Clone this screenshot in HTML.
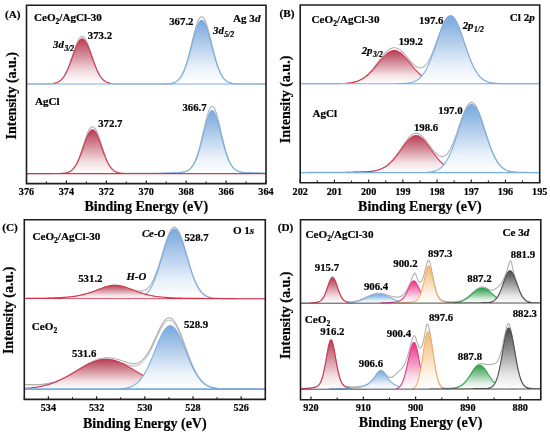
<!DOCTYPE html>
<html><head><meta charset="utf-8"><style>
html,body{margin:0;padding:0;background:#fff;width:550px;height:436px;overflow:hidden}
svg{display:block;filter:blur(0.35px)}
text{font-family:"Liberation Serif",serif;font-weight:bold;fill:#000;stroke:#000;stroke-width:0.2px}
</style></head><body>
<svg width="550" height="436" viewBox="0 0 550 436">
<defs><linearGradient id="g1" x1="0" y1="0" x2="0" y2="1"><stop offset="0.00" stop-color="#b63f54"/><stop offset="0.40" stop-color="#d795a1"/><stop offset="0.75" stop-color="#f4e2e5"/><stop offset="1.00" stop-color="#ffffff"/></linearGradient>
<linearGradient id="g2" x1="0" y1="0" x2="0" y2="1"><stop offset="0.00" stop-color="#78a8dd"/><stop offset="0.40" stop-color="#b5cfec"/><stop offset="0.75" stop-color="#ebf2fa"/><stop offset="1.00" stop-color="#ffffff"/></linearGradient>
<linearGradient id="g3" x1="0" y1="0" x2="0" y2="1"><stop offset="0.00" stop-color="#78a8dd"/><stop offset="0.40" stop-color="#b5cfec"/><stop offset="0.75" stop-color="#ebf2fa"/><stop offset="1.00" stop-color="#ffffff"/></linearGradient>
<linearGradient id="g4" x1="0" y1="0" x2="0" y2="1"><stop offset="0.00" stop-color="#b63f54"/><stop offset="0.40" stop-color="#d795a1"/><stop offset="0.75" stop-color="#f4e2e5"/><stop offset="1.00" stop-color="#ffffff"/></linearGradient>
<linearGradient id="g5" x1="0" y1="0" x2="0" y2="1"><stop offset="0.00" stop-color="#b63f54"/><stop offset="0.40" stop-color="#d795a1"/><stop offset="0.75" stop-color="#f4e2e5"/><stop offset="1.00" stop-color="#ffffff"/></linearGradient>
<linearGradient id="g6" x1="0" y1="0" x2="0" y2="1"><stop offset="0.00" stop-color="#78a8dd"/><stop offset="0.40" stop-color="#b5cfec"/><stop offset="0.75" stop-color="#ebf2fa"/><stop offset="1.00" stop-color="#ffffff"/></linearGradient>
<linearGradient id="g7" x1="0" y1="0" x2="0" y2="1"><stop offset="0.00" stop-color="#b63f54"/><stop offset="0.40" stop-color="#d795a1"/><stop offset="0.75" stop-color="#f4e2e5"/><stop offset="1.00" stop-color="#ffffff"/></linearGradient>
<linearGradient id="g8" x1="0" y1="0" x2="0" y2="1"><stop offset="0.00" stop-color="#78a8dd"/><stop offset="0.40" stop-color="#b5cfec"/><stop offset="0.75" stop-color="#ebf2fa"/><stop offset="1.00" stop-color="#ffffff"/></linearGradient>
<linearGradient id="g9" x1="0" y1="0" x2="0" y2="1"><stop offset="0.00" stop-color="#78a8dd"/><stop offset="0.40" stop-color="#b5cfec"/><stop offset="0.75" stop-color="#ebf2fa"/><stop offset="1.00" stop-color="#ffffff"/></linearGradient>
<linearGradient id="g10" x1="0" y1="0" x2="0" y2="1"><stop offset="0.00" stop-color="#b63f54"/><stop offset="0.40" stop-color="#d795a1"/><stop offset="0.75" stop-color="#f4e2e5"/><stop offset="1.00" stop-color="#ffffff"/></linearGradient>
<linearGradient id="g11" x1="0" y1="0" x2="0" y2="1"><stop offset="0.00" stop-color="#b63f54"/><stop offset="0.40" stop-color="#d795a1"/><stop offset="0.75" stop-color="#f4e2e5"/><stop offset="1.00" stop-color="#ffffff"/></linearGradient>
<linearGradient id="g12" x1="0" y1="0" x2="0" y2="1"><stop offset="0.00" stop-color="#78a8dd"/><stop offset="0.40" stop-color="#b5cfec"/><stop offset="0.75" stop-color="#ebf2fa"/><stop offset="1.00" stop-color="#ffffff"/></linearGradient>
<linearGradient id="g13" x1="0" y1="0" x2="0" y2="1"><stop offset="0.00" stop-color="#b63f54"/><stop offset="0.40" stop-color="#d795a1"/><stop offset="0.75" stop-color="#f4e2e5"/><stop offset="1.00" stop-color="#ffffff"/></linearGradient>
<linearGradient id="g14" x1="0" y1="0" x2="0" y2="1"><stop offset="0.00" stop-color="#78a8dd"/><stop offset="0.40" stop-color="#b5cfec"/><stop offset="0.75" stop-color="#ebf2fa"/><stop offset="1.00" stop-color="#ffffff"/></linearGradient>
<linearGradient id="g15" x1="0" y1="0" x2="0" y2="1"><stop offset="0.00" stop-color="#e8307f"/><stop offset="0.40" stop-color="#f28db9"/><stop offset="0.75" stop-color="#fce0ec"/><stop offset="1.00" stop-color="#ffffff"/></linearGradient>
<linearGradient id="g16" x1="0" y1="0" x2="0" y2="1"><stop offset="0.00" stop-color="#f0b96e"/><stop offset="0.40" stop-color="#f7d8af"/><stop offset="0.75" stop-color="#fdf4e9"/><stop offset="1.00" stop-color="#ffffff"/></linearGradient>
<linearGradient id="g17" x1="0" y1="0" x2="0" y2="1"><stop offset="0.00" stop-color="#2f9a4b"/><stop offset="0.40" stop-color="#8dc79c"/><stop offset="0.75" stop-color="#e0f0e4"/><stop offset="1.00" stop-color="#ffffff"/></linearGradient>
<linearGradient id="g18" x1="0" y1="0" x2="0" y2="1"><stop offset="0.00" stop-color="#4a4a4a"/><stop offset="0.40" stop-color="#9b9b9b"/><stop offset="0.75" stop-color="#e4e4e4"/><stop offset="1.00" stop-color="#ffffff"/></linearGradient>
<linearGradient id="g19" x1="0" y1="0" x2="0" y2="1"><stop offset="0.00" stop-color="#b63f54"/><stop offset="0.40" stop-color="#d795a1"/><stop offset="0.75" stop-color="#f4e2e5"/><stop offset="1.00" stop-color="#ffffff"/></linearGradient>
<linearGradient id="g20" x1="0" y1="0" x2="0" y2="1"><stop offset="0.00" stop-color="#78a8dd"/><stop offset="0.40" stop-color="#b5cfec"/><stop offset="0.75" stop-color="#ebf2fa"/><stop offset="1.00" stop-color="#ffffff"/></linearGradient>
<linearGradient id="g21" x1="0" y1="0" x2="0" y2="1"><stop offset="0.00" stop-color="#e8307f"/><stop offset="0.40" stop-color="#f28db9"/><stop offset="0.75" stop-color="#fce0ec"/><stop offset="1.00" stop-color="#ffffff"/></linearGradient>
<linearGradient id="g22" x1="0" y1="0" x2="0" y2="1"><stop offset="0.00" stop-color="#f0b96e"/><stop offset="0.40" stop-color="#f7d8af"/><stop offset="0.75" stop-color="#fdf4e9"/><stop offset="1.00" stop-color="#ffffff"/></linearGradient>
<linearGradient id="g23" x1="0" y1="0" x2="0" y2="1"><stop offset="0.00" stop-color="#2f9a4b"/><stop offset="0.40" stop-color="#8dc79c"/><stop offset="0.75" stop-color="#e0f0e4"/><stop offset="1.00" stop-color="#ffffff"/></linearGradient>
<linearGradient id="g24" x1="0" y1="0" x2="0" y2="1"><stop offset="0.00" stop-color="#4a4a4a"/><stop offset="0.40" stop-color="#9b9b9b"/><stop offset="0.75" stop-color="#e4e4e4"/><stop offset="1.00" stop-color="#ffffff"/></linearGradient></defs>
<rect width="550" height="436" fill="#fff"/>
<path d="M26.5,84.0 27.2,84.0 28.2,84.0 29.2,84.0 30.2,84.0 31.2,84.0 32.2,84.0 33.2,84.0 34.2,84.0 35.2,84.0 36.2,84.0 37.2,84.0 38.2,84.0 39.2,84.0 40.2,84.0 41.2,84.0 42.2,84.0 43.2,84.0 44.2,84.0 45.2,84.0 46.2,84.0 47.2,83.9 48.2,83.9 49.2,83.9 50.2,83.8 51.2,83.7 52.2,83.6 53.2,83.5 54.2,83.3 55.2,83.1 56.2,82.8 57.2,82.4 58.2,81.9 59.2,81.3 60.2,80.6 61.2,79.7 62.2,78.6 63.2,77.3 63.7,76.6 64.2,75.8 65.2,74.1 65.7,73.1 66.2,72.1 67.2,70.0 67.7,68.8 68.2,67.6 69.2,65.0 69.7,63.6 70.2,62.2 71.2,59.3 71.7,57.8 72.2,56.4 73.2,53.3 73.7,51.9 74.2,50.4 75.2,47.5 75.7,46.2 76.2,44.9 77.2,42.5 77.7,41.4 78.2,40.4 79.2,38.7 79.7,38.0 80.2,37.4 81.2,36.7 81.7,36.5 82.2,36.4 83.2,36.7 83.7,37.0 84.2,37.4 85.2,38.7 85.7,39.5 86.2,40.4 87.2,42.5 87.7,43.6 88.2,44.9 89.2,47.5 89.7,48.9 90.2,50.4 91.2,53.3 91.7,54.8 92.2,56.4 93.2,59.3 93.7,60.8 94.2,62.2 95.2,65.0 95.7,66.3 96.2,67.6 97.2,70.0 97.7,71.1 98.2,72.1 99.2,74.1 99.7,75.0 100.2,75.8 101.2,77.3 101.7,78.0 102.2,78.6 103.2,79.7 103.7,80.1 104.2,80.6 105.2,81.3 105.7,81.6 106.2,81.9 107.2,82.4 107.7,82.6 108.2,82.8 109.2,83.1 109.7,83.2 110.2,83.3 111.2,83.5 111.7,83.6 112.2,83.6 113.2,83.7 113.7,83.8 114.2,83.8 115.2,83.9 115.7,83.9 116.2,83.9 117.2,83.9 117.7,83.9 118.2,84.0 119.2,84.0 119.7,84.0 120.2,84.0 121.2,84.0 121.7,84.0 122.2,84.0 123.2,84.0 123.7,84.0 124.2,84.0 125.2,84.0 125.7,84.0 126.2,84.0 127.2,84.0 127.7,84.0 128.2,84.0 129.2,84.0 129.7,84.0 130.2,84.0 131.2,84.0 131.7,84.0 132.2,84.0 133.2,84.0 133.7,84.0 134.2,84.0 135.2,84.0 135.7,84.0 136.2,84.0 137.2,84.0 137.7,84.0 138.2,84.0 139.7,84.0 140.2,84.0 141.7,84.0 142.2,84.0 143.7,84.0 144.2,84.0 144.7,84.0 145.7,84.0 146.2,84.0 146.7,84.0 147.7,84.0 148.2,84.0 148.7,84.0 149.7,84.0 150.2,84.0 150.7,84.0 151.7,84.0 152.2,84.0 152.7,84.0 153.7,84.0 154.2,84.0 154.7,84.0 155.7,84.0 156.2,84.0 156.7,84.0 157.7,84.0 158.2,84.0 158.7,84.0 159.7,84.0 160.2,84.0 160.7,84.0 161.7,84.0 162.2,84.0 162.7,84.0 163.7,84.0 164.2,83.9 164.7,83.9 165.7,83.9 166.2,83.9 166.7,83.9 167.7,83.8 168.2,83.8 168.7,83.7 169.7,83.6 170.2,83.6 170.7,83.5 171.7,83.3 172.2,83.2 172.7,83.1 173.7,82.8 174.2,82.6 174.7,82.4 175.7,81.9 176.2,81.6 176.7,81.2 177.7,80.4 178.2,80.0 178.7,79.5 179.7,78.3 180.2,77.6 180.7,76.9 181.7,75.3 182.2,74.3 182.7,73.3 183.7,71.1 184.2,69.9 184.7,68.6 185.7,65.8 186.2,64.3 186.7,62.7 187.7,59.3 188.2,57.5 188.7,55.6 189.7,51.7 190.2,49.7 190.7,47.7 191.7,43.6 192.2,41.5 192.7,39.5 193.7,35.5 194.2,33.5 194.7,31.6 195.7,28.0 196.2,26.3 196.7,24.8 197.7,22.0 198.2,20.8 198.7,19.7 199.7,18.1 200.2,17.5 200.7,17.0 201.7,16.7 202.2,16.8 202.7,17.0 203.7,18.1 204.2,18.8 204.7,19.7 205.7,22.0 206.2,23.3 206.7,24.8 207.7,28.0 208.2,29.8 208.7,31.6 209.7,35.5 210.2,37.5 210.7,39.5 211.7,43.6 212.2,45.7 212.7,47.7 213.7,51.7 214.2,53.7 214.7,55.6 215.7,59.3 216.2,61.0 216.7,62.7 217.7,65.8 218.7,68.6 219.7,71.1 220.7,73.3 221.7,75.3 222.7,76.9 223.7,78.3 224.7,79.5 225.7,80.4 226.7,81.2 227.7,81.9 228.7,82.4 229.7,82.8 230.7,83.1 231.7,83.3 232.7,83.5 233.7,83.6 234.7,83.7 235.7,83.8 236.7,83.9 237.7,83.9 238.7,83.9 239.7,84.0 240.7,84.0 241.7,84.0 242.7,84.0 243.7,84.0 244.7,84.0 245.7,84.0 246.7,84.0 247.7,84.0 248.7,84.0 249.7,84.0 250.7,84.0 251.7,84.0 252.7,84.0 253.7,84.0 254.7,84.0 255.7,84.0 256.7,84.0 257.7,84.0 258.7,84.0 259.7,84.0 261.7,84.0 263.7,84.0 265.7,84.0 266.0,84.0" fill="none" stroke="#b0b0b0" stroke-width="1.1"/>
<path d="M26.5,84.0 27.2,84.0 28.2,84.0 29.2,84.0 30.2,84.0 31.2,84.0 32.2,84.0 33.2,84.0 34.2,84.0 35.2,84.0 36.2,84.0 37.2,84.0 38.2,84.0 39.2,84.0 40.2,84.0 41.2,84.0 42.2,84.0 43.2,84.0 44.2,84.0 45.2,84.0 46.2,84.0 47.2,83.9 48.2,83.9 49.2,83.9 50.2,83.8 51.2,83.8 52.2,83.7 53.2,83.5 54.2,83.4 55.2,83.1 56.2,82.9 57.2,82.5 58.2,82.0 59.2,81.4 60.2,80.7 61.2,79.9 62.2,78.9 63.2,77.6 64.2,76.2 65.2,74.6 66.2,72.8 67.2,70.7 68.2,68.4 69.2,66.0 70.2,63.4 71.2,60.6 72.2,57.8 73.2,54.9 74.2,52.1 75.2,49.4 76.2,46.9 77.2,44.6 78.2,42.7 79.2,41.1 80.2,39.9 81.2,39.1 82.2,38.9 83.2,39.1 84.2,39.9 85.2,41.1 86.2,42.7 87.2,44.6 88.2,46.9 89.2,49.4 90.2,52.1 91.2,54.9 92.2,57.8 93.2,60.6 94.2,63.4 95.2,66.0 96.2,68.4 97.2,70.7 98.2,72.8 99.2,74.6 100.2,76.2 101.2,77.6 102.2,78.9 103.2,79.9 104.2,80.7 105.2,81.4 106.2,82.0 107.2,82.5 108.2,82.9 109.2,83.1 110.2,83.4 111.2,83.5 112.2,83.7 113.2,83.8 114.2,83.8 115.2,83.9 116.2,83.9 117.2,83.9 118.2,84.0 119.2,84.0 120.2,84.0 121.2,84.0 122.2,84.0 123.2,84.0 124.2,84.0 125.2,84.0 126.2,84.0 127.2,84.0 128.2,84.0 129.2,84.0 130.2,84.0 131.2,84.0 132.2,84.0 133.2,84.0 134.2,84.0 135.2,84.0 136.2,84.0 137.2,84.0 138.2,84.0 140.2,84.0 142.2,84.0 144.2,84.0 146.2,84.0 148.2,84.0 150.2,84.0 152.2,84.0 154.2,84.0 156.2,84.0 158.2,84.0 160.2,84.0 162.2,84.0 164.2,84.0 166.2,84.0 168.2,84.0 170.2,84.0 172.2,84.0 174.2,84.0 176.2,84.0 178.2,84.0 180.2,84.0 182.2,84.0 184.2,84.0 186.2,84.0 188.2,84.0 190.2,84.0 192.2,84.0 194.2,84.0 196.2,84.0 198.2,84.0 200.2,84.0 202.2,84.0 204.2,84.0 206.2,84.0 208.2,84.0 210.2,84.0 212.2,84.0 214.2,84.0 216.2,84.0 266.0,84.0 Z" fill="url(#g1)"/>
<path d="M53.2,83.5 54.2,83.4 55.2,83.1 56.2,82.9 57.2,82.5 58.2,82.0 59.2,81.4 60.2,80.7 61.2,79.9 62.2,78.9 63.2,77.6 64.2,76.2 65.2,74.6 66.2,72.8 67.2,70.7 68.2,68.4 69.2,66.0 70.2,63.4 71.2,60.6 72.2,57.8 73.2,54.9 74.2,52.1 75.2,49.4 76.2,46.9 77.2,44.6 78.2,42.7 79.2,41.1 80.2,39.9 81.2,39.1 82.2,38.9 83.2,39.1 84.2,39.9 85.2,41.1 86.2,42.7 87.2,44.6 88.2,46.9 89.2,49.4 90.2,52.1 91.2,54.9 92.2,57.8 93.2,60.6 94.2,63.4 95.2,66.0 96.2,68.4 97.2,70.7 98.2,72.8 99.2,74.6 100.2,76.2 101.2,77.6 102.2,78.9 103.2,79.9 104.2,80.7 105.2,81.4 106.2,82.0 107.2,82.5 108.2,82.9 109.2,83.1 110.2,83.4 111.2,83.5" fill="none" stroke="#d5344e" stroke-width="1.1"/>
<path d="M26.5,84.0 63.7,84.0 65.7,84.0 67.7,84.0 69.7,84.0 71.7,84.0 73.7,84.0 75.7,84.0 77.7,84.0 79.7,84.0 81.7,84.0 83.7,84.0 85.7,84.0 87.7,84.0 89.7,84.0 91.7,84.0 93.7,84.0 95.7,84.0 97.7,84.0 99.7,84.0 101.7,84.0 103.7,84.0 105.7,84.0 107.7,84.0 109.7,84.0 111.7,84.0 113.7,84.0 115.7,84.0 117.7,84.0 119.7,84.0 121.7,84.0 123.7,84.0 125.7,84.0 127.7,84.0 129.7,84.0 131.7,84.0 133.7,84.0 135.7,84.0 137.7,84.0 139.7,84.0 141.7,84.0 143.7,84.0 144.7,84.0 145.7,84.0 146.7,84.0 147.7,84.0 148.7,84.0 149.7,84.0 150.7,84.0 151.7,84.0 152.7,84.0 153.7,84.0 154.7,84.0 155.7,84.0 156.7,84.0 157.7,84.0 158.7,84.0 159.7,84.0 160.7,84.0 161.7,84.0 162.7,84.0 163.7,84.0 164.7,83.9 165.7,83.9 166.7,83.9 167.7,83.8 168.7,83.8 169.7,83.7 170.7,83.5 171.7,83.4 172.7,83.1 173.7,82.8 174.7,82.5 175.7,82.0 176.7,81.4 177.7,80.6 178.7,79.7 179.7,78.6 180.7,77.3 181.7,75.7 182.7,73.9 183.7,71.8 184.7,69.4 185.7,66.7 186.7,63.8 187.7,60.6 188.7,57.1 189.7,53.4 190.7,49.6 191.7,45.7 192.7,41.8 193.7,38.0 194.7,34.3 195.7,30.9 196.7,27.8 197.7,25.2 198.7,23.1 199.7,21.5 200.7,20.5 201.7,20.2 202.7,20.5 203.7,21.5 204.7,23.1 205.7,25.2 206.7,27.8 207.7,30.9 208.7,34.3 209.7,38.0 210.7,41.8 211.7,45.7 212.7,49.6 213.7,53.4 214.7,57.1 215.7,60.6 216.7,63.8 217.7,66.7 218.7,69.4 219.7,71.8 220.7,73.9 221.7,75.7 222.7,77.3 223.7,78.6 224.7,79.7 225.7,80.6 226.7,81.4 227.7,82.0 228.7,82.5 229.7,82.8 230.7,83.1 231.7,83.4 232.7,83.5 233.7,83.7 234.7,83.8 235.7,83.8 236.7,83.9 237.7,83.9 238.7,83.9 239.7,84.0 240.7,84.0 241.7,84.0 242.7,84.0 243.7,84.0 244.7,84.0 245.7,84.0 246.7,84.0 247.7,84.0 248.7,84.0 249.7,84.0 250.7,84.0 251.7,84.0 252.7,84.0 253.7,84.0 254.7,84.0 255.7,84.0 256.7,84.0 257.7,84.0 258.7,84.0 259.7,84.0 261.7,84.0 263.7,84.0 265.7,84.0 266.0,84.0 Z" fill="url(#g2)" stroke="#7aaee4" stroke-width="1.1"/>
<path d="M26.5,173.6 28.5,173.6 30.5,173.6 32.5,173.6 34.5,173.6 36.5,173.6 38.5,173.6 39.5,173.6 40.5,173.6 41.5,173.6 42.5,173.6 43.5,173.6 44.5,173.6 45.5,173.6 46.5,173.6 47.5,173.6 48.5,173.6 49.5,173.6 50.5,173.6 51.5,173.6 52.5,173.6 53.5,173.5 54.5,173.5 55.5,173.5 56.5,173.5 57.5,173.5 58.5,173.5 59.5,173.5 60.5,173.5 61.5,173.4 62.5,173.3 63.5,173.3 64.5,173.1 65.5,173.0 66.5,172.8 67.5,172.5 68.5,172.1 69.5,171.6 70.5,171.0 71.5,170.3 72.5,169.4 73.5,168.3 74.5,166.9 75.5,165.4 76.5,163.6 77.5,161.5 78.5,159.2 79.5,156.7 80.5,153.9 81.5,151.0 82.5,148.0 83.5,144.8 84.2,142.6 84.5,141.7 85.5,138.7 86.2,136.7 86.5,135.8 87.5,133.2 88.2,131.6 88.5,131.0 89.5,129.1 90.2,128.1 90.5,127.8 91.5,126.9 92.2,126.7 92.5,126.7 93.5,126.9 94.2,127.5 94.5,127.8 95.5,129.1 96.2,130.4 96.5,131.0 97.5,133.2 98.2,135.0 98.5,135.8 99.5,138.7 100.2,140.8 100.5,141.7 101.5,144.8 102.2,147.0 102.5,147.9 103.5,151.0 104.2,153.0 104.5,153.9 105.5,156.7 106.2,158.5 106.5,159.2 107.5,161.5 108.2,163.0 108.5,163.5 109.5,165.3 110.2,166.5 110.5,166.9 111.5,168.2 112.2,169.0 112.5,169.3 113.5,170.2 114.2,170.8 114.5,171.0 115.5,171.6 116.2,171.9 116.5,172.0 117.5,172.4 118.2,172.6 118.5,172.7 119.5,172.9 120.2,173.0 120.5,173.1 121.5,173.2 122.2,173.2 122.5,173.3 123.5,173.3 124.2,173.3 124.5,173.4 125.5,173.4 126.2,173.4 126.5,173.4 127.5,173.4 128.2,173.4 128.5,173.4 129.5,173.4 130.2,173.4 130.5,173.4 131.5,173.4 132.2,173.4 132.5,173.4 133.5,173.4 134.2,173.4 134.5,173.4 135.5,173.4 136.2,173.4 136.5,173.4 137.5,173.4 138.2,173.4 138.5,173.4 139.5,173.4 140.2,173.4 140.5,173.4 141.5,173.4 142.2,173.4 142.5,173.4 143.5,173.4 144.2,173.4 144.5,173.4 145.5,173.3 146.2,173.3 146.5,173.3 148.2,173.3 148.5,173.3 150.2,173.3 150.5,173.3 152.2,173.3 152.5,173.3 154.2,173.3 154.5,173.3 156.2,173.2 156.5,173.2 158.2,173.2 158.5,173.2 159.2,173.2 160.2,173.2 160.5,173.2 161.2,173.2 162.2,173.2 162.5,173.2 163.2,173.1 164.2,173.1 164.5,173.1 165.2,173.1 166.2,173.1 166.5,173.1 167.2,173.1 168.2,173.0 168.5,173.0 169.2,173.0 170.2,173.0 170.5,173.0 171.2,173.0 172.2,172.9 172.5,172.9 173.2,172.9 174.2,172.8 174.5,172.8 175.2,172.8 176.2,172.8 176.5,172.7 177.2,172.7 178.2,172.6 178.5,172.6 179.2,172.6 180.2,172.5 180.5,172.4 181.2,172.4 182.2,172.2 182.5,172.2 183.2,172.0 184.2,171.8 184.5,171.7 185.2,171.5 186.2,171.2 186.5,171.1 187.2,170.7 188.2,170.2 188.5,170.0 189.2,169.5 190.2,168.6 190.5,168.3 191.2,167.5 192.2,166.3 192.5,165.8 193.2,164.7 194.2,162.9 194.5,162.3 195.2,160.8 196.2,158.3 196.5,157.5 197.2,155.5 198.2,152.4 198.5,151.4 199.2,148.9 200.2,145.2 200.5,144.0 201.2,141.1 202.2,136.9 202.5,135.6 203.2,132.6 204.2,128.2 204.5,126.9 205.2,123.9 206.2,119.8 206.5,118.7 207.2,116.1 208.2,112.7 208.5,111.8 209.2,110.0 210.2,107.9 210.5,107.4 211.2,106.6 212.2,106.2 212.5,106.2 213.2,106.6 214.2,107.9 214.5,108.4 215.2,110.0 216.2,112.7 216.5,113.7 217.2,116.1 218.2,119.8 218.5,121.0 219.2,123.9 220.2,128.2 220.5,129.5 221.2,132.6 222.2,136.9 223.2,141.1 224.2,145.2 225.2,148.9 226.2,152.4 227.2,155.5 228.2,158.3 229.2,160.8 230.2,162.9 231.2,164.7 232.2,166.3 233.2,167.5 234.2,168.6 235.2,169.5 236.2,170.2 237.2,170.7 238.2,171.2 239.2,171.5 240.2,171.8 241.2,172.0 242.2,172.2 243.2,172.4 244.2,172.5 245.2,172.6 246.2,172.6 247.2,172.7 248.2,172.8 249.2,172.8 250.2,172.8 251.2,172.9 252.2,172.9 253.2,173.0 254.2,173.0 255.2,173.0 256.2,173.0 257.2,173.1 258.2,173.1 259.2,173.1 260.2,173.1 261.2,173.1 262.2,173.2 263.2,173.2 264.2,173.2 265.2,173.2 266.0,173.2" fill="none" stroke="#b0b0b0" stroke-width="1.1"/>
<path d="M26.5,173.6 84.2,173.5 86.2,173.5 88.2,173.5 90.2,173.5 92.2,173.5 94.2,173.5 96.2,173.5 98.2,173.5 100.2,173.5 102.2,173.5 104.2,173.5 106.2,173.5 108.2,173.5 110.2,173.5 112.2,173.5 114.2,173.5 116.2,173.5 118.2,173.5 120.2,173.5 122.2,173.5 124.2,173.5 126.2,173.5 128.2,173.4 130.2,173.4 132.2,173.4 134.2,173.4 136.2,173.4 138.2,173.4 140.2,173.4 142.2,173.4 144.2,173.4 146.2,173.4 148.2,173.3 150.2,173.3 152.2,173.3 154.2,173.3 156.2,173.3 158.2,173.2 159.2,173.2 160.2,173.2 161.2,173.2 162.2,173.2 163.2,173.2 164.2,173.2 165.2,173.1 166.2,173.1 167.2,173.1 168.2,173.1 169.2,173.0 170.2,173.0 171.2,173.0 172.2,173.0 173.2,172.9 174.2,172.9 175.2,172.9 176.2,172.8 177.2,172.8 178.2,172.7 179.2,172.6 180.2,172.5 181.2,172.4 182.2,172.3 183.2,172.1 184.2,171.9 185.2,171.7 186.2,171.3 187.2,170.9 188.2,170.4 189.2,169.7 190.2,168.9 191.2,167.9 192.2,166.7 193.2,165.3 194.2,163.6 195.2,161.6 196.2,159.3 197.2,156.7 198.2,153.8 199.2,150.5 200.2,147.0 201.2,143.3 202.2,139.3 203.2,135.3 204.2,131.2 205.2,127.2 206.2,123.3 207.2,119.8 208.2,116.7 209.2,114.1 210.2,112.2 211.2,111.0 212.2,110.6 213.2,111.0 214.2,112.2 215.2,114.1 216.2,116.7 217.2,119.8 218.2,123.3 219.2,127.2 220.2,131.2 221.2,135.3 222.2,139.3 223.2,143.3 224.2,147.0 225.2,150.5 226.2,153.8 227.2,156.7 228.2,159.3 229.2,161.6 230.2,163.6 231.2,165.3 232.2,166.7 233.2,167.9 234.2,168.9 235.2,169.7 236.2,170.4 237.2,170.9 238.2,171.3 239.2,171.7 240.2,171.9 241.2,172.1 242.2,172.3 243.2,172.4 244.2,172.5 245.2,172.6 246.2,172.7 247.2,172.8 248.2,172.8 249.2,172.9 250.2,172.9 251.2,172.9 252.2,173.0 253.2,173.0 254.2,173.0 255.2,173.0 256.2,173.1 257.2,173.1 258.2,173.1 259.2,173.1 260.2,173.2 261.2,173.2 262.2,173.2 263.2,173.2 264.2,173.2 265.2,173.2 266.0,173.2 Z" fill="url(#g3)"/>
<path d="M158.2,173.2 159.2,173.2 160.2,173.2 161.2,173.2 162.2,173.2 163.2,173.2 164.2,173.2 165.2,173.1 166.2,173.1 167.2,173.1 168.2,173.1 169.2,173.0 170.2,173.0 171.2,173.0 172.2,173.0 173.2,172.9 174.2,172.9 175.2,172.9 176.2,172.8 177.2,172.8 178.2,172.7 179.2,172.6 180.2,172.5 181.2,172.4 182.2,172.3 183.2,172.1 184.2,171.9 185.2,171.7 186.2,171.3 187.2,170.9 188.2,170.4 189.2,169.7 190.2,168.9 191.2,167.9 192.2,166.7 193.2,165.3 194.2,163.6 195.2,161.6 196.2,159.3 197.2,156.7 198.2,153.8 199.2,150.5 200.2,147.0 201.2,143.3 202.2,139.3 203.2,135.3 204.2,131.2 205.2,127.2 206.2,123.3 207.2,119.8 208.2,116.7 209.2,114.1 210.2,112.2 211.2,111.0 212.2,110.6 213.2,111.0 214.2,112.2 215.2,114.1 216.2,116.7 217.2,119.8 218.2,123.3 219.2,127.2 220.2,131.2 221.2,135.3 222.2,139.3 223.2,143.3 224.2,147.0 225.2,150.5 226.2,153.8 227.2,156.7 228.2,159.3 229.2,161.6 230.2,163.6 231.2,165.3 232.2,166.7 233.2,167.9 234.2,168.9 235.2,169.7 236.2,170.4 237.2,170.9 238.2,171.3 239.2,171.7 240.2,171.9 241.2,172.1 242.2,172.3 243.2,172.4 244.2,172.5 245.2,172.6 246.2,172.7 247.2,172.8 248.2,172.8 249.2,172.9 250.2,172.9 251.2,172.9 252.2,173.0 253.2,173.0 254.2,173.0 255.2,173.0 256.2,173.1 257.2,173.1 258.2,173.1 259.2,173.1 260.2,173.2 261.2,173.2 262.2,173.2 263.2,173.2 264.2,173.2 265.2,173.2 266.0,173.2" fill="none" stroke="#7aaee4" stroke-width="1.1"/>
<path d="M26.5,173.6 28.5,173.6 30.5,173.6 32.5,173.6 34.5,173.6 36.5,173.6 38.5,173.6 39.5,173.6 40.5,173.6 41.5,173.6 42.5,173.6 43.5,173.6 44.5,173.6 45.5,173.6 46.5,173.6 47.5,173.6 48.5,173.6 49.5,173.6 50.5,173.6 51.5,173.6 52.5,173.6 53.5,173.6 54.5,173.6 55.5,173.6 56.5,173.6 57.5,173.6 58.5,173.6 59.5,173.5 60.5,173.5 61.5,173.5 62.5,173.4 63.5,173.3 64.5,173.2 65.5,173.1 66.5,172.9 67.5,172.6 68.5,172.3 69.5,171.8 70.5,171.3 71.5,170.6 72.5,169.7 73.5,168.7 74.5,167.4 75.5,166.0 76.5,164.3 77.5,162.4 78.5,160.2 79.5,157.9 80.5,155.3 81.5,152.5 82.5,149.7 83.5,146.8 84.5,143.9 85.5,141.0 86.5,138.4 87.5,136.0 88.5,133.8 89.5,132.1 90.5,130.8 91.5,130.1 92.5,129.8 93.5,130.1 94.5,130.8 95.5,132.1 96.5,133.8 97.5,136.0 98.5,138.4 99.5,141.0 100.5,143.9 101.5,146.8 102.5,149.7 103.5,152.5 104.5,155.3 105.5,157.9 106.5,160.2 107.5,162.4 108.5,164.3 109.5,166.0 110.5,167.4 111.5,168.7 112.5,169.7 113.5,170.6 114.5,171.3 115.5,171.8 116.5,172.3 117.5,172.6 118.5,172.9 119.5,173.1 120.5,173.2 121.5,173.3 122.5,173.4 123.5,173.5 124.5,173.5 125.5,173.5 126.5,173.6 127.5,173.6 128.5,173.6 129.5,173.6 130.5,173.6 131.5,173.6 132.5,173.6 133.5,173.6 134.5,173.6 135.5,173.6 136.5,173.6 137.5,173.6 138.5,173.6 139.5,173.6 140.5,173.6 141.5,173.6 142.5,173.6 143.5,173.6 144.5,173.6 145.5,173.6 146.5,173.6 148.5,173.6 150.5,173.6 152.5,173.6 154.5,173.6 156.5,173.6 158.5,173.6 160.5,173.6 162.5,173.6 164.5,173.6 166.5,173.6 168.5,173.6 170.5,173.6 172.5,173.6 174.5,173.6 176.5,173.6 178.5,173.6 180.5,173.6 182.5,173.6 184.5,173.6 186.5,173.6 188.5,173.6 190.5,173.6 192.5,173.6 194.5,173.6 196.5,173.6 198.5,173.6 200.5,173.6 202.5,173.6 204.5,173.6 206.5,173.6 208.5,173.6 210.5,173.6 212.5,173.6 214.5,173.6 216.5,173.6 218.5,173.6 220.5,173.6 266.0,173.6 Z" fill="url(#g4)" stroke="#d5344e" stroke-width="1.1"/>
<path d="M26.50,5.30 L266.00,5.30 L266.00,183.60 L26.50,183.60 Z" fill="none" stroke="#1e1e1e" stroke-width="1.6"/>
<line x1="26.50" y1="183.60" x2="26.50" y2="180.40" stroke="#1e1e1e" stroke-width="1.2"/>
<line x1="66.42" y1="183.60" x2="66.42" y2="180.40" stroke="#1e1e1e" stroke-width="1.2"/>
<line x1="106.33" y1="183.60" x2="106.33" y2="180.40" stroke="#1e1e1e" stroke-width="1.2"/>
<line x1="146.25" y1="183.60" x2="146.25" y2="180.40" stroke="#1e1e1e" stroke-width="1.2"/>
<line x1="186.17" y1="183.60" x2="186.17" y2="180.40" stroke="#1e1e1e" stroke-width="1.2"/>
<line x1="226.08" y1="183.60" x2="226.08" y2="180.40" stroke="#1e1e1e" stroke-width="1.2"/>
<line x1="266.00" y1="183.60" x2="266.00" y2="180.40" stroke="#1e1e1e" stroke-width="1.2"/>
<line x1="46.46" y1="183.60" x2="46.46" y2="181.40" stroke="#1e1e1e" stroke-width="1.1"/>
<line x1="86.38" y1="183.60" x2="86.38" y2="181.40" stroke="#1e1e1e" stroke-width="1.1"/>
<line x1="126.29" y1="183.60" x2="126.29" y2="181.40" stroke="#1e1e1e" stroke-width="1.1"/>
<line x1="166.21" y1="183.60" x2="166.21" y2="181.40" stroke="#1e1e1e" stroke-width="1.1"/>
<line x1="206.12" y1="183.60" x2="206.12" y2="181.40" stroke="#1e1e1e" stroke-width="1.1"/>
<line x1="246.04" y1="183.60" x2="246.04" y2="181.40" stroke="#1e1e1e" stroke-width="1.1"/>
<text x="26.50" y="194.90" font-size="10.20" text-anchor="middle"  >376</text>
<text x="66.42" y="194.90" font-size="10.20" text-anchor="middle"  >374</text>
<text x="106.33" y="194.90" font-size="10.20" text-anchor="middle"  >372</text>
<text x="146.25" y="194.90" font-size="10.20" text-anchor="middle"  >370</text>
<text x="186.17" y="194.90" font-size="10.20" text-anchor="middle"  >368</text>
<text x="226.08" y="194.90" font-size="10.20" text-anchor="middle"  >366</text>
<text x="266.00" y="194.90" font-size="10.20" text-anchor="middle"  >364</text>
<text x="146.25" y="211.30" font-size="14.00" text-anchor="middle"  >Binding Energy (eV)</text>
<text transform="translate(15.50,139.50) rotate(-90)" x="0" y="0" font-size="14.00" text-anchor="start">Intensity (a.u.)</text>
<text x="5.00" y="17.60" font-size="11.20" text-anchor="start"  >(A)</text>
<text x="34.00" y="20.90" font-size="11.10">CeO<tspan font-size="7.5" dy="2.8">2</tspan><tspan dy="-2.8">/AgCl-30</tspan></text>
<text x="233.00" y="21.60" font-size="11.10" text-anchor="start"  >Ag 3<tspan font-style="italic">d</tspan></text>
<text x="87.80" y="39.40" font-size="10.80" text-anchor="start"  >373.2</text>
<text x="53.10" y="47.90" font-size="10.80" text-anchor="start" font-style="italic" >3<tspan>d</tspan><tspan font-size="7.6" dx="0.5" dy="3.1">3/2</tspan></text>
<text x="169.20" y="24.50" font-size="10.80" text-anchor="start"  >367.2</text>
<text x="213.00" y="33.80" font-size="10.80" text-anchor="start" font-style="italic" >3<tspan>d</tspan><tspan font-size="7.6" dx="0.5" dy="3.1">5/2</tspan></text>
<text x="35.00" y="104.70" font-size="11.10" text-anchor="start"  >AgCl</text>
<text x="98.20" y="127.20" font-size="10.80" text-anchor="start"  >372.7</text>
<text x="182.40" y="110.60" font-size="10.80" text-anchor="start"  >366.7</text>
<path d="M300.2,83.7 300.5,83.7 301.2,83.7 302.2,83.7 302.5,83.7 303.2,83.7 304.2,83.7 304.5,83.7 305.2,83.7 306.2,83.7 306.5,83.7 307.2,83.7 308.2,83.7 308.5,83.7 309.2,83.7 310.2,83.7 310.5,83.7 311.2,83.7 312.2,83.7 312.5,83.7 313.2,83.7 314.2,83.7 314.5,83.7 315.2,83.7 316.2,83.7 316.5,83.7 317.2,83.7 318.2,83.7 318.5,83.7 319.2,83.7 320.2,83.7 320.5,83.7 321.2,83.7 322.2,83.7 322.5,83.7 323.2,83.7 324.2,83.7 324.5,83.7 325.2,83.7 326.2,83.7 326.5,83.7 327.2,83.7 328.2,83.7 328.5,83.7 329.2,83.7 330.2,83.7 330.5,83.7 331.2,83.7 332.2,83.7 332.5,83.7 333.2,83.7 334.2,83.7 334.5,83.7 335.2,83.7 336.2,83.6 336.5,83.6 337.2,83.6 338.2,83.6 338.5,83.6 339.2,83.6 340.2,83.6 340.5,83.6 341.2,83.5 342.2,83.5 342.5,83.5 343.2,83.5 344.2,83.4 344.5,83.4 345.2,83.3 346.2,83.3 346.5,83.2 347.2,83.2 348.2,83.1 348.5,83.0 349.2,83.0 350.2,82.8 350.5,82.8 351.2,82.7 352.2,82.5 352.5,82.4 353.2,82.3 354.2,82.0 354.5,82.0 355.2,81.8 356.2,81.5 356.5,81.4 357.2,81.1 358.2,80.7 358.5,80.6 359.2,80.3 360.2,79.8 360.5,79.6 361.2,79.3 362.2,78.7 362.5,78.5 363.2,78.0 364.2,77.3 364.5,77.1 365.2,76.5 366.2,75.7 366.5,75.5 367.2,74.8 368.2,73.9 368.5,73.6 369.2,72.9 370.2,71.8 370.5,71.5 371.2,70.7 371.5,70.3 372.2,69.5 372.5,69.1 373.2,68.3 373.5,67.9 374.2,67.0 374.5,66.6 375.2,65.7 375.5,65.3 376.2,64.4 376.5,64.0 377.2,63.1 377.5,62.6 378.2,61.7 378.5,61.3 379.2,60.4 379.5,59.9 380.2,59.0 380.5,58.6 381.2,57.7 381.5,57.3 382.2,56.4 382.5,56.0 383.2,55.2 383.5,54.8 384.2,54.0 384.5,53.7 385.2,52.9 385.5,52.6 386.2,51.9 386.5,51.6 387.2,51.0 387.5,50.7 388.2,50.1 388.5,49.9 389.2,49.4 389.5,49.2 390.2,48.8 390.5,48.7 391.2,48.3 391.5,48.2 392.2,48.0 392.5,47.9 393.2,47.8 393.5,47.8 394.2,47.7 394.5,47.7 395.2,47.8 395.5,47.8 396.2,48.0 396.5,48.1 397.2,48.3 397.5,48.4 398.2,48.8 398.5,48.9 399.2,49.4 399.5,49.6 400.2,50.1 400.5,50.3 401.2,50.9 401.5,51.1 402.2,51.7 402.5,52.0 403.2,52.7 403.5,53.0 404.2,53.8 404.5,54.1 405.2,54.9 405.5,55.2 406.2,56.0 406.5,56.4 407.2,57.2 407.5,57.6 408.2,58.4 408.5,58.8 409.2,59.6 409.5,60.0 410.2,60.8 410.5,61.1 411.2,61.9 411.5,62.2 412.2,63.0 412.5,63.3 413.2,64.0 413.5,64.3 414.2,64.9 414.5,65.2 415.2,65.7 415.5,66.0 416.2,66.5 416.5,66.6 417.2,67.0 417.5,67.2 418.2,67.5 418.5,67.6 419.2,67.8 419.5,67.8 420.2,67.9 420.5,67.9 421.2,67.8 421.5,67.7 422.2,67.5 422.5,67.4 423.2,67.0 423.5,66.9 424.2,66.4 424.5,66.1 425.2,65.5 425.5,65.2 426.2,64.4 426.5,64.0 427.2,63.0 427.5,62.6 428.2,61.5 428.5,61.0 429.2,59.7 429.5,59.2 430.2,57.8 430.5,57.2 431.2,55.7 431.5,55.0 432.2,53.4 432.5,52.6 433.2,50.9 433.5,50.1 434.2,48.3 434.5,47.5 435.2,45.6 435.5,44.8 436.2,42.8 436.5,42.0 437.2,40.0 437.5,39.2 438.2,37.2 438.5,36.4 439.2,34.4 439.5,33.6 440.2,31.7 440.5,30.9 441.2,29.0 441.5,28.3 442.2,26.5 442.5,25.8 443.2,24.2 443.5,23.6 444.2,22.1 444.5,21.6 445.2,20.3 445.5,19.8 446.2,18.7 446.5,18.3 447.2,17.4 447.5,17.1 448.2,16.5 448.5,16.3 449.2,15.9 449.5,15.7 450.2,15.6 450.5,15.6 451.2,15.7 451.5,15.8 452.2,16.1 452.5,16.3 453.2,16.9 453.5,17.2 454.2,18.0 454.5,18.4 455.2,19.5 455.5,20.0 456.2,21.2 456.5,21.8 457.2,23.3 457.5,23.9 458.2,25.5 458.5,26.2 459.2,28.0 459.5,28.8 460.2,30.6 460.5,31.4 461.2,33.4 461.5,34.3 462.2,36.3 462.5,37.2 463.2,39.3 463.5,40.2 464.2,42.3 464.5,43.2 465.2,45.2 465.5,46.1 466.2,48.2 466.5,49.1 467.2,51.1 467.5,52.0 468.2,54.0 468.5,54.8 469.2,56.7 469.5,57.5 470.2,59.3 470.5,60.0 471.2,61.8 471.5,62.5 472.2,64.1 472.5,64.8 473.2,66.3 473.5,66.9 474.2,68.3 474.5,68.8 475.2,70.1 475.5,70.6 476.2,71.8 476.5,72.3 477.2,73.3 477.5,73.8 478.2,74.7 478.5,75.1 479.2,76.0 479.5,76.3 480.2,77.1 480.5,77.4 481.2,78.1 481.5,78.3 482.2,78.9 482.5,79.1 483.2,79.7 483.5,79.9 484.2,80.3 484.5,80.5 485.2,80.9 485.5,81.0 486.2,81.4 486.5,81.5 487.2,81.8 487.5,81.9 488.2,82.1 488.5,82.2 489.5,82.5 490.2,82.6 490.5,82.7 491.5,82.9 492.2,83.0 492.5,83.1 493.5,83.2 494.2,83.3 494.5,83.3 495.5,83.4 496.2,83.4 496.5,83.4 497.5,83.5 498.2,83.5 498.5,83.5 499.5,83.6 500.2,83.6 500.5,83.6 501.5,83.6 502.2,83.6 502.5,83.6 503.5,83.7 504.2,83.7 504.5,83.7 505.5,83.7 506.2,83.7 506.5,83.7 507.5,83.7 508.2,83.7 508.5,83.7 509.5,83.7 510.2,83.7 510.5,83.7 511.5,83.7 512.2,83.7 512.5,83.7 513.5,83.7 514.2,83.7 514.5,83.7 515.5,83.7 516.2,83.7 516.5,83.7 517.5,83.7 518.2,83.7 518.5,83.7 519.5,83.7 520.2,83.7 520.5,83.7 521.5,83.7 522.2,83.7 522.5,83.7 523.5,83.7 524.2,83.7 524.5,83.7 525.5,83.7 526.2,83.7 526.5,83.7 527.5,83.7 528.2,83.7 528.5,83.7 529.5,83.7 530.2,83.7 530.5,83.7 532.2,83.7 532.5,83.7 534.2,83.7 534.5,83.7 536.2,83.7 536.5,83.7 538.2,83.7 538.5,83.7 539.7,83.7" fill="none" stroke="#b0b0b0" stroke-width="1.1"/>
<path d="M300.2,83.7 301.2,83.7 302.2,83.7 303.2,83.7 304.2,83.7 305.2,83.7 306.2,83.7 307.2,83.7 308.2,83.7 309.2,83.7 310.2,83.7 311.2,83.7 312.2,83.7 313.2,83.7 314.2,83.7 315.2,83.7 316.2,83.7 317.2,83.7 318.2,83.7 319.2,83.7 320.2,83.7 321.2,83.7 322.2,83.7 323.2,83.7 324.2,83.7 325.2,83.7 326.2,83.7 327.2,83.7 328.2,83.7 329.2,83.7 330.2,83.7 331.2,83.7 332.2,83.7 333.2,83.7 334.2,83.7 335.2,83.7 336.2,83.6 337.2,83.6 338.2,83.6 339.2,83.6 340.2,83.6 341.2,83.5 342.2,83.5 343.2,83.5 344.2,83.4 345.2,83.4 346.2,83.3 347.2,83.2 348.2,83.1 349.2,83.0 350.2,82.9 351.2,82.7 352.2,82.6 353.2,82.4 354.2,82.2 355.2,81.9 356.2,81.6 357.2,81.3 358.2,80.9 359.2,80.5 360.2,80.1 361.2,79.6 362.2,79.1 363.2,78.5 364.2,77.8 365.2,77.1 366.2,76.3 367.2,75.5 368.2,74.6 369.2,73.7 370.2,72.7 371.2,71.7 372.2,70.6 373.2,69.5 374.2,68.3 375.2,67.1 376.2,65.9 377.2,64.6 378.2,63.4 379.2,62.1 380.2,60.9 381.2,59.7 382.2,58.5 383.2,57.4 384.2,56.3 385.2,55.3 386.2,54.3 387.2,53.5 388.2,52.7 389.2,52.1 390.2,51.5 391.2,51.1 392.2,50.8 393.2,50.6 394.2,50.5 395.2,50.6 396.2,50.8 397.2,51.1 398.2,51.5 399.2,52.1 400.2,52.7 401.2,53.5 402.2,54.3 403.2,55.3 404.2,56.3 405.2,57.4 406.2,58.5 407.2,59.7 408.2,60.9 409.2,62.1 410.2,63.4 411.2,64.6 412.2,65.9 413.2,67.1 414.2,68.3 415.2,69.5 416.2,70.6 417.2,71.7 418.2,72.7 419.2,73.7 420.2,74.6 421.2,75.5 422.2,76.3 423.2,77.1 424.2,77.8 425.2,78.5 426.2,79.1 427.2,79.6 428.2,80.1 429.2,80.5 430.2,80.9 431.2,81.3 432.2,81.6 433.2,81.9 434.2,82.2 435.2,82.4 436.2,82.6 437.2,82.7 438.2,82.9 439.2,83.0 440.2,83.1 441.2,83.2 442.2,83.3 443.2,83.4 444.2,83.4 445.2,83.5 446.2,83.5 447.2,83.5 448.2,83.6 449.2,83.6 450.2,83.6 451.2,83.6 452.2,83.6 453.2,83.7 454.2,83.7 455.2,83.7 456.2,83.7 457.2,83.7 458.2,83.7 459.2,83.7 460.2,83.7 461.2,83.7 462.2,83.7 463.2,83.7 464.2,83.7 465.2,83.7 466.2,83.7 467.2,83.7 468.2,83.7 469.2,83.7 470.2,83.7 471.2,83.7 472.2,83.7 473.2,83.7 474.2,83.7 475.2,83.7 476.2,83.7 477.2,83.7 478.2,83.7 479.2,83.7 480.2,83.7 481.2,83.7 482.2,83.7 483.2,83.7 484.2,83.7 485.2,83.7 486.2,83.7 487.2,83.7 488.2,83.7 490.2,83.7 492.2,83.7 494.2,83.7 496.2,83.7 498.2,83.7 500.2,83.7 502.2,83.7 504.2,83.7 506.2,83.7 508.2,83.7 510.2,83.7 512.2,83.7 514.2,83.7 516.2,83.7 518.2,83.7 520.2,83.7 522.2,83.7 524.2,83.7 526.2,83.7 528.2,83.7 530.2,83.7 532.2,83.7 534.2,83.7 536.2,83.7 538.2,83.7 539.7,83.7 Z" fill="url(#g5)"/>
<path d="M346.2,83.3 347.2,83.2 348.2,83.1 349.2,83.0 350.2,82.9 351.2,82.7 352.2,82.6 353.2,82.4 354.2,82.2 355.2,81.9 356.2,81.6 357.2,81.3 358.2,80.9 359.2,80.5 360.2,80.1 361.2,79.6 362.2,79.1 363.2,78.5 364.2,77.8 365.2,77.1 366.2,76.3 367.2,75.5 368.2,74.6 369.2,73.7 370.2,72.7 371.2,71.7 372.2,70.6 373.2,69.5 374.2,68.3 375.2,67.1 376.2,65.9 377.2,64.6 378.2,63.4 379.2,62.1 380.2,60.9 381.2,59.7 382.2,58.5 383.2,57.4 384.2,56.3 385.2,55.3 386.2,54.3 387.2,53.5 388.2,52.7 389.2,52.1 390.2,51.5 391.2,51.1 392.2,50.8 393.2,50.6 394.2,50.5 395.2,50.6 396.2,50.8 397.2,51.1 398.2,51.5 399.2,52.1 400.2,52.7 401.2,53.5 402.2,54.3 403.2,55.3 404.2,56.3 405.2,57.4 406.2,58.5 407.2,59.7 408.2,60.9 409.2,62.1 410.2,63.4 411.2,64.6 412.2,65.9 413.2,67.1 414.2,68.3 415.2,69.5 416.2,70.6 417.2,71.7 418.2,72.7 419.2,73.7 420.2,74.6 421.2,75.5 422.2,76.3 423.2,77.1 424.2,77.8 425.2,78.5 426.2,79.1 427.2,79.6 428.2,80.1 429.2,80.5 430.2,80.9 431.2,81.3 432.2,81.6 433.2,81.9 434.2,82.2 435.2,82.4 436.2,82.6 437.2,82.7 438.2,82.9 439.2,83.0 440.2,83.1 441.2,83.2 442.2,83.3" fill="none" stroke="#d5344e" stroke-width="1.1"/>
<path d="M300.2,83.7 300.5,83.7 302.5,83.7 304.5,83.7 306.5,83.7 308.5,83.7 310.5,83.7 312.5,83.7 314.5,83.7 316.5,83.7 318.5,83.7 320.5,83.7 322.5,83.7 324.5,83.7 326.5,83.7 328.5,83.7 330.5,83.7 332.5,83.7 334.5,83.7 336.5,83.7 338.5,83.7 340.5,83.7 342.5,83.7 344.5,83.7 346.5,83.7 348.5,83.7 350.5,83.7 352.5,83.7 354.5,83.7 356.5,83.7 358.5,83.7 360.5,83.7 362.5,83.7 364.5,83.7 366.5,83.7 368.5,83.7 370.5,83.7 371.5,83.7 372.5,83.7 373.5,83.7 374.5,83.7 375.5,83.7 376.5,83.7 377.5,83.7 378.5,83.7 379.5,83.7 380.5,83.7 381.5,83.7 382.5,83.7 383.5,83.7 384.5,83.7 385.5,83.7 386.5,83.7 387.5,83.7 388.5,83.7 389.5,83.7 390.5,83.7 391.5,83.7 392.5,83.7 393.5,83.7 394.5,83.7 395.5,83.7 396.5,83.7 397.5,83.7 398.5,83.6 399.5,83.6 400.5,83.6 401.5,83.6 402.5,83.5 403.5,83.5 404.5,83.4 405.5,83.4 406.5,83.3 407.5,83.2 408.5,83.1 409.5,82.9 410.5,82.7 411.5,82.5 412.5,82.2 413.5,81.9 414.5,81.5 415.5,81.0 416.5,80.5 417.5,79.9 418.5,79.2 419.5,78.4 420.5,77.4 421.5,76.4 422.5,75.2 423.5,73.8 424.5,72.3 425.5,70.7 426.5,68.9 427.5,67.0 428.5,64.8 429.5,62.6 430.5,60.2 431.5,57.6 432.5,54.9 433.5,52.1 434.5,49.3 435.5,46.3 436.5,43.4 437.5,40.4 438.5,37.4 439.5,34.5 440.5,31.7 441.5,29.0 442.5,26.5 443.5,24.2 444.5,22.1 445.5,20.3 446.5,18.8 447.5,17.6 448.5,16.7 449.5,16.2 450.5,16.0 451.5,16.2 452.5,16.7 453.5,17.6 454.5,18.8 455.5,20.3 456.5,22.1 457.5,24.2 458.5,26.5 459.5,29.0 460.5,31.7 461.5,34.5 462.5,37.4 463.5,40.4 464.5,43.4 465.5,46.3 466.5,49.3 467.5,52.1 468.5,54.9 469.5,57.6 470.5,60.2 471.5,62.6 472.5,64.8 473.5,67.0 474.5,68.9 475.5,70.7 476.5,72.3 477.5,73.8 478.5,75.2 479.5,76.4 480.5,77.4 481.5,78.4 482.5,79.2 483.5,79.9 484.5,80.5 485.5,81.0 486.5,81.5 487.5,81.9 488.5,82.2 489.5,82.5 490.5,82.7 491.5,82.9 492.5,83.1 493.5,83.2 494.5,83.3 495.5,83.4 496.5,83.4 497.5,83.5 498.5,83.5 499.5,83.6 500.5,83.6 501.5,83.6 502.5,83.6 503.5,83.7 504.5,83.7 505.5,83.7 506.5,83.7 507.5,83.7 508.5,83.7 509.5,83.7 510.5,83.7 511.5,83.7 512.5,83.7 513.5,83.7 514.5,83.7 515.5,83.7 516.5,83.7 517.5,83.7 518.5,83.7 519.5,83.7 520.5,83.7 521.5,83.7 522.5,83.7 523.5,83.7 524.5,83.7 525.5,83.7 526.5,83.7 527.5,83.7 528.5,83.7 529.5,83.7 530.5,83.7 532.5,83.7 534.5,83.7 536.5,83.7 538.5,83.7 539.7,83.7 Z" fill="url(#g6)" stroke="#7aaee4" stroke-width="1.1"/>
<path d="M300.2,172.5 301.6,172.5 302.1,172.5 303.6,172.5 304.1,172.5 305.6,172.5 306.1,172.4 307.6,172.4 308.1,172.4 309.6,172.4 310.1,172.4 311.6,172.4 312.1,172.4 313.6,172.4 314.1,172.4 315.6,172.4 316.1,172.4 317.6,172.4 318.1,172.4 319.6,172.4 320.1,172.4 321.6,172.4 322.1,172.4 323.6,172.4 324.1,172.4 325.6,172.4 326.1,172.4 327.1,172.4 327.6,172.4 328.1,172.4 329.1,172.4 329.6,172.4 330.1,172.4 331.1,172.4 331.6,172.3 332.1,172.3 333.1,172.3 333.6,172.3 334.1,172.3 335.1,172.3 335.6,172.3 336.1,172.3 337.1,172.3 337.6,172.3 338.1,172.3 339.1,172.3 339.6,172.3 340.1,172.3 341.1,172.3 341.6,172.3 342.1,172.3 343.1,172.3 343.6,172.3 344.1,172.3 345.1,172.3 345.6,172.2 346.1,172.2 347.1,172.2 347.6,172.2 348.1,172.2 349.1,172.2 349.6,172.2 350.1,172.2 351.1,172.2 351.6,172.2 352.1,172.2 353.1,172.2 353.6,172.1 354.1,172.1 355.1,172.1 355.6,172.1 356.1,172.1 357.1,172.1 357.6,172.1 358.1,172.1 359.1,172.0 359.6,172.0 360.1,172.0 361.1,172.0 361.6,172.0 362.1,171.9 363.1,171.9 363.6,171.9 364.1,171.9 365.1,171.8 365.6,171.8 366.1,171.8 367.1,171.7 367.6,171.7 368.1,171.6 369.1,171.5 369.6,171.5 370.1,171.4 371.1,171.3 371.6,171.3 372.1,171.2 373.1,171.0 373.6,171.0 374.1,170.9 375.1,170.7 375.6,170.6 376.1,170.5 377.1,170.2 377.6,170.1 378.1,169.9 379.1,169.6 379.6,169.4 380.1,169.2 381.1,168.8 381.6,168.6 382.1,168.4 383.1,167.8 383.6,167.6 384.1,167.3 385.1,166.7 385.6,166.3 386.1,166.0 387.1,165.2 387.6,164.8 388.1,164.4 389.1,163.5 389.6,163.1 390.1,162.6 391.1,161.6 391.6,161.0 392.1,160.5 393.1,159.3 393.6,158.7 394.1,158.1 394.6,157.5 395.1,156.8 395.6,156.2 396.1,155.5 396.6,154.8 397.1,154.1 397.6,153.4 398.1,152.7 398.6,152.0 399.1,151.2 399.6,150.5 400.1,149.8 400.6,149.0 401.1,148.3 401.6,147.5 402.1,146.8 402.6,146.0 403.1,145.3 403.6,144.5 404.1,143.8 404.6,143.1 405.1,142.4 405.6,141.7 406.1,141.0 406.6,140.4 407.1,139.7 407.6,139.1 408.1,138.5 408.6,137.9 409.1,137.4 409.6,136.8 410.1,136.4 410.6,135.9 411.1,135.5 411.6,135.1 412.1,134.7 412.6,134.4 413.1,134.1 413.6,133.9 414.1,133.7 414.6,133.5 415.1,133.4 415.6,133.4 416.1,133.3 416.6,133.4 417.1,133.4 417.6,133.5 418.1,133.7 418.6,133.9 419.1,134.1 419.6,134.4 420.1,134.7 420.6,135.0 421.1,135.4 421.6,135.8 422.1,136.3 422.6,136.8 423.1,137.3 423.6,137.8 424.1,138.4 424.6,139.0 425.1,139.6 425.6,140.2 426.1,140.8 426.6,141.5 427.1,142.1 427.6,142.8 428.1,143.5 428.6,144.2 429.1,144.9 429.6,145.5 430.1,146.2 430.6,146.9 431.1,147.6 431.6,148.2 432.1,148.9 432.6,149.5 433.1,150.2 433.6,150.8 434.1,151.4 434.6,151.9 435.1,152.5 435.6,153.0 436.1,153.5 436.6,154.0 437.1,154.4 437.6,154.8 438.1,155.2 438.6,155.5 439.1,155.8 439.6,156.0 440.1,156.2 440.6,156.4 441.1,156.5 441.6,156.6 442.1,156.6 442.6,156.5 443.1,156.5 443.6,156.3 444.1,156.1 444.6,155.9 445.1,155.6 445.6,155.2 446.1,154.8 446.6,154.3 447.1,153.8 447.6,153.2 448.1,152.6 448.6,151.9 449.1,151.1 449.6,150.3 450.1,149.4 450.6,148.5 451.1,147.5 451.6,146.4 452.1,145.3 452.6,144.2 453.1,143.0 453.6,141.8 454.1,140.5 454.6,139.2 455.1,137.8 455.6,136.5 456.1,135.1 456.6,133.6 457.1,132.2 457.6,130.7 458.1,129.2 458.6,127.7 459.1,126.2 459.6,124.7 460.1,123.2 460.6,121.8 461.1,120.3 461.6,118.9 462.1,117.5 462.6,116.1 463.1,114.8 463.6,113.5 464.1,112.2 464.6,111.0 465.1,109.9 465.6,108.9 466.1,107.9 466.6,106.9 467.1,106.1 467.6,105.3 468.1,104.7 468.6,104.1 469.1,103.6 469.6,103.1 470.1,102.8 470.6,102.6 471.1,102.5 471.6,102.4 472.1,102.5 472.6,102.7 473.1,102.9 473.6,103.3 474.1,103.7 474.6,104.2 475.1,104.9 475.6,105.6 476.1,106.4 476.6,107.3 477.1,108.2 477.6,109.3 478.1,110.4 478.6,111.5 479.1,112.8 479.6,114.1 480.1,115.4 480.6,116.8 481.1,118.2 481.6,119.7 482.1,121.2 482.6,122.7 483.1,124.2 483.6,125.8 484.1,127.4 484.6,129.0 485.1,130.6 485.6,132.1 486.1,133.7 486.6,135.3 487.1,136.9 487.6,138.4 488.1,139.9 488.6,141.4 489.1,142.9 489.6,144.3 490.1,145.7 490.6,147.1 491.1,148.4 491.6,149.7 492.1,151.0 492.6,152.2 493.1,153.3 493.6,154.5 494.1,155.6 494.6,156.6 495.1,157.6 495.6,158.5 496.1,159.5 496.6,160.3 497.1,161.2 497.6,161.9 498.1,162.7 498.6,163.4 499.1,164.0 499.6,164.7 500.1,165.3 500.6,165.8 501.1,166.3 501.6,166.8 502.1,167.3 502.6,167.7 503.1,168.1 503.6,168.5 504.1,168.8 504.6,169.1 505.1,169.4 505.6,169.7 506.1,169.9 506.6,170.2 507.6,170.6 508.1,170.7 508.6,170.9 509.6,171.2 510.1,171.3 510.6,171.4 511.6,171.6 512.1,171.7 512.6,171.8 513.6,171.9 514.1,172.0 514.6,172.0 515.6,172.1 516.1,172.2 516.6,172.2 517.6,172.2 518.1,172.3 518.6,172.3 519.6,172.3 520.1,172.3 520.6,172.4 521.6,172.4 522.1,172.4 522.6,172.4 523.6,172.4 524.1,172.4 524.6,172.4 525.6,172.4 526.1,172.4 526.6,172.4 527.6,172.4 528.1,172.4 528.6,172.4 529.6,172.5 530.1,172.5 530.6,172.5 531.6,172.5 532.1,172.5 532.6,172.5 533.6,172.5 534.1,172.5 534.6,172.5 535.6,172.5 536.1,172.5 536.6,172.5 537.6,172.5 538.1,172.5 538.6,172.5 539.6,172.5 539.7,172.5" fill="none" stroke="#b0b0b0" stroke-width="1.1"/>
<path d="M300.2,172.5 302.1,172.5 304.1,172.5 306.1,172.5 308.1,172.4 310.1,172.4 312.1,172.4 314.1,172.4 316.1,172.4 318.1,172.4 320.1,172.4 322.1,172.4 324.1,172.4 326.1,172.4 327.1,172.4 328.1,172.4 329.1,172.4 330.1,172.4 331.1,172.4 332.1,172.4 333.1,172.3 334.1,172.3 335.1,172.3 336.1,172.3 337.1,172.3 338.1,172.3 339.1,172.3 340.1,172.3 341.1,172.3 342.1,172.3 343.1,172.3 344.1,172.3 345.1,172.3 346.1,172.2 347.1,172.2 348.1,172.2 349.1,172.2 350.1,172.2 351.1,172.2 352.1,172.2 353.1,172.2 354.1,172.1 355.1,172.1 356.1,172.1 357.1,172.1 358.1,172.1 359.1,172.1 360.1,172.0 361.1,172.0 362.1,172.0 363.1,171.9 364.1,171.9 365.1,171.8 366.1,171.8 367.1,171.7 368.1,171.6 369.1,171.6 370.1,171.5 371.1,171.4 372.1,171.2 373.1,171.1 374.1,170.9 375.1,170.8 376.1,170.5 377.1,170.3 378.1,170.0 379.1,169.7 380.1,169.4 381.1,169.0 382.1,168.6 383.1,168.1 384.1,167.6 385.1,167.0 386.1,166.3 387.1,165.6 388.1,164.9 389.1,164.0 390.1,163.1 391.1,162.2 392.1,161.2 393.1,160.1 394.1,158.9 395.1,157.7 396.1,156.5 397.1,155.2 398.1,153.8 399.1,152.5 400.1,151.1 401.1,149.7 402.1,148.2 403.1,146.8 404.1,145.5 405.1,144.1 406.1,142.8 407.1,141.6 408.1,140.4 409.1,139.4 410.1,138.4 411.1,137.6 412.1,136.9 413.1,136.3 414.1,135.9 415.1,135.7 416.1,135.6 417.1,135.7 418.1,135.9 419.1,136.3 420.1,136.9 421.1,137.6 422.1,138.4 423.1,139.4 424.1,140.4 425.1,141.6 426.1,142.8 427.1,144.1 428.1,145.5 429.1,146.8 430.1,148.2 431.1,149.7 432.1,151.1 433.1,152.5 434.1,153.8 435.1,155.2 436.1,156.5 437.1,157.7 438.1,158.9 439.1,160.1 440.1,161.2 441.1,162.2 442.1,163.1 443.1,164.0 444.1,164.9 445.1,165.6 446.1,166.3 447.1,167.0 448.1,167.6 449.1,168.1 450.1,168.6 451.1,169.0 452.1,169.4 453.1,169.7 454.1,170.0 455.1,170.3 456.1,170.5 457.1,170.8 458.1,170.9 459.1,171.1 460.1,171.2 461.1,171.4 462.1,171.5 463.1,171.6 464.1,171.6 465.1,171.7 466.1,171.8 467.1,171.8 468.1,171.9 469.1,171.9 470.1,172.0 471.1,172.0 472.1,172.0 473.1,172.1 474.1,172.1 475.1,172.1 476.1,172.1 477.1,172.1 478.1,172.1 479.1,172.2 480.1,172.2 481.1,172.2 482.1,172.2 483.1,172.2 484.1,172.2 485.1,172.2 486.1,172.2 487.1,172.3 488.1,172.3 489.1,172.3 490.1,172.3 491.1,172.3 492.1,172.3 493.1,172.3 494.1,172.3 495.1,172.3 496.1,172.3 497.1,172.3 498.1,172.3 499.1,172.3 500.1,172.4 501.1,172.4 502.1,172.4 503.1,172.4 504.1,172.4 505.1,172.4 506.1,172.4 508.1,172.4 510.1,172.4 512.1,172.4 514.1,172.4 516.1,172.4 518.1,172.4 520.1,172.4 522.1,172.4 524.1,172.4 526.1,172.5 528.1,172.5 530.1,172.5 532.1,172.5 534.1,172.5 536.1,172.5 538.1,172.5 539.7,172.5 Z" fill="url(#g7)"/>
<path d="M346.1,172.2 347.1,172.2 348.1,172.2 349.1,172.2 350.1,172.2 351.1,172.2 352.1,172.2 353.1,172.2 354.1,172.1 355.1,172.1 356.1,172.1 357.1,172.1 358.1,172.1 359.1,172.1 360.1,172.0 361.1,172.0 362.1,172.0 363.1,171.9 364.1,171.9 365.1,171.8 366.1,171.8 367.1,171.7 368.1,171.6 369.1,171.6 370.1,171.5 371.1,171.4 372.1,171.2 373.1,171.1 374.1,170.9 375.1,170.8 376.1,170.5 377.1,170.3 378.1,170.0 379.1,169.7 380.1,169.4 381.1,169.0 382.1,168.6 383.1,168.1 384.1,167.6 385.1,167.0 386.1,166.3 387.1,165.6 388.1,164.9 389.1,164.0 390.1,163.1 391.1,162.2 392.1,161.2 393.1,160.1 394.1,158.9 395.1,157.7 396.1,156.5 397.1,155.2 398.1,153.8 399.1,152.5 400.1,151.1 401.1,149.7 402.1,148.2 403.1,146.8 404.1,145.5 405.1,144.1 406.1,142.8 407.1,141.6 408.1,140.4 409.1,139.4 410.1,138.4 411.1,137.6 412.1,136.9 413.1,136.3 414.1,135.9 415.1,135.7 416.1,135.6 417.1,135.7 418.1,135.9 419.1,136.3 420.1,136.9 421.1,137.6 422.1,138.4 423.1,139.4 424.1,140.4 425.1,141.6 426.1,142.8 427.1,144.1 428.1,145.5 429.1,146.8 430.1,148.2 431.1,149.7 432.1,151.1 433.1,152.5 434.1,153.8 435.1,155.2 436.1,156.5 437.1,157.7 438.1,158.9 439.1,160.1 440.1,161.2 441.1,162.2 442.1,163.1 443.1,164.0 444.1,164.9 445.1,165.6 446.1,166.3 447.1,167.0 448.1,167.6 449.1,168.1 450.1,168.6 451.1,169.0 452.1,169.4 453.1,169.7 454.1,170.0 455.1,170.3 456.1,170.5 457.1,170.8 458.1,170.9 459.1,171.1 460.1,171.2 461.1,171.4 462.1,171.5 463.1,171.6 464.1,171.6 465.1,171.7 466.1,171.8 467.1,171.8 468.1,171.9 469.1,171.9 470.1,172.0 471.1,172.0 472.1,172.0 473.1,172.1 474.1,172.1 475.1,172.1 476.1,172.1 477.1,172.1 478.1,172.1 479.1,172.2 480.1,172.2 481.1,172.2 482.1,172.2 483.1,172.2 484.1,172.2 485.1,172.2 486.1,172.2" fill="none" stroke="#d5344e" stroke-width="1.1"/>
<path d="M300.2,172.6 301.6,172.6 303.6,172.6 305.6,172.6 307.6,172.6 309.6,172.6 311.6,172.6 313.6,172.6 315.6,172.6 317.6,172.6 319.6,172.6 321.6,172.6 323.6,172.6 325.6,172.6 327.6,172.6 329.6,172.6 331.6,172.6 333.6,172.6 335.6,172.6 337.6,172.6 339.6,172.6 341.6,172.6 343.6,172.6 345.6,172.6 347.6,172.6 349.6,172.6 351.6,172.6 353.6,172.6 355.6,172.6 357.6,172.6 359.6,172.6 361.6,172.6 363.6,172.6 365.6,172.6 367.6,172.6 369.6,172.6 371.6,172.6 373.6,172.6 375.6,172.6 377.6,172.6 379.6,172.6 381.6,172.6 383.6,172.6 385.6,172.6 387.6,172.6 389.6,172.6 391.6,172.6 393.6,172.6 394.6,172.6 395.6,172.6 396.6,172.6 397.6,172.6 398.6,172.6 399.6,172.6 400.6,172.6 401.6,172.6 402.6,172.6 403.6,172.6 404.6,172.6 405.6,172.6 406.6,172.6 407.6,172.6 408.6,172.6 409.6,172.6 410.6,172.6 411.6,172.6 412.6,172.6 413.6,172.6 414.6,172.6 415.6,172.6 416.6,172.6 417.6,172.6 418.6,172.6 419.6,172.6 420.6,172.6 421.6,172.5 422.6,172.5 423.6,172.5 424.6,172.5 425.6,172.4 426.6,172.4 427.6,172.3 428.6,172.2 429.6,172.1 430.6,172.0 431.6,171.8 432.6,171.7 433.6,171.4 434.6,171.1 435.6,170.8 436.6,170.4 437.6,170.0 438.6,169.4 439.6,168.8 440.6,168.0 441.6,167.2 442.6,166.2 443.6,165.1 444.6,163.8 445.6,162.4 446.6,160.8 447.6,159.1 448.6,157.2 449.6,155.1 450.6,152.9 451.6,150.5 452.6,147.9 453.6,145.2 454.6,142.3 455.6,139.4 456.6,136.4 457.6,133.3 458.6,130.2 459.6,127.1 460.6,124.1 461.6,121.1 462.6,118.3 463.6,115.6 464.6,113.2 465.6,111.0 466.6,109.0 467.6,107.4 468.6,106.1 469.6,105.2 470.6,104.6 471.6,104.4 472.6,104.6 473.6,105.2 474.6,106.1 475.6,107.4 476.6,109.0 477.6,111.0 478.6,113.2 479.6,115.6 480.6,118.3 481.6,121.1 482.6,124.1 483.6,127.1 484.6,130.2 485.6,133.3 486.6,136.4 487.6,139.4 488.6,142.3 489.6,145.2 490.6,147.9 491.6,150.5 492.6,152.9 493.6,155.1 494.6,157.2 495.6,159.1 496.6,160.8 497.6,162.4 498.6,163.8 499.6,165.1 500.6,166.2 501.6,167.2 502.6,168.0 503.6,168.8 504.6,169.4 505.6,170.0 506.6,170.4 507.6,170.8 508.6,171.1 509.6,171.4 510.6,171.7 511.6,171.8 512.6,172.0 513.6,172.1 514.6,172.2 515.6,172.3 516.6,172.4 517.6,172.4 518.6,172.5 519.6,172.5 520.6,172.5 521.6,172.5 522.6,172.6 523.6,172.6 524.6,172.6 525.6,172.6 526.6,172.6 527.6,172.6 528.6,172.6 529.6,172.6 530.6,172.6 531.6,172.6 532.6,172.6 533.6,172.6 534.6,172.6 535.6,172.6 536.6,172.6 537.6,172.6 538.6,172.6 539.6,172.6 539.7,172.6 Z" fill="url(#g8)" stroke="#7aaee4" stroke-width="1.1"/>
<path d="M300.20,5.00 L539.70,5.00 L539.70,182.80 L300.20,182.80 Z" fill="none" stroke="#1e1e1e" stroke-width="1.6"/>
<line x1="300.20" y1="182.80" x2="300.20" y2="179.60" stroke="#1e1e1e" stroke-width="1.2"/>
<line x1="334.41" y1="182.80" x2="334.41" y2="179.60" stroke="#1e1e1e" stroke-width="1.2"/>
<line x1="368.63" y1="182.80" x2="368.63" y2="179.60" stroke="#1e1e1e" stroke-width="1.2"/>
<line x1="402.84" y1="182.80" x2="402.84" y2="179.60" stroke="#1e1e1e" stroke-width="1.2"/>
<line x1="437.06" y1="182.80" x2="437.06" y2="179.60" stroke="#1e1e1e" stroke-width="1.2"/>
<line x1="471.27" y1="182.80" x2="471.27" y2="179.60" stroke="#1e1e1e" stroke-width="1.2"/>
<line x1="505.49" y1="182.80" x2="505.49" y2="179.60" stroke="#1e1e1e" stroke-width="1.2"/>
<line x1="539.70" y1="182.80" x2="539.70" y2="179.60" stroke="#1e1e1e" stroke-width="1.2"/>
<line x1="317.31" y1="182.80" x2="317.31" y2="180.60" stroke="#1e1e1e" stroke-width="1.1"/>
<line x1="351.52" y1="182.80" x2="351.52" y2="180.60" stroke="#1e1e1e" stroke-width="1.1"/>
<line x1="385.74" y1="182.80" x2="385.74" y2="180.60" stroke="#1e1e1e" stroke-width="1.1"/>
<line x1="419.95" y1="182.80" x2="419.95" y2="180.60" stroke="#1e1e1e" stroke-width="1.1"/>
<line x1="454.16" y1="182.80" x2="454.16" y2="180.60" stroke="#1e1e1e" stroke-width="1.1"/>
<line x1="488.38" y1="182.80" x2="488.38" y2="180.60" stroke="#1e1e1e" stroke-width="1.1"/>
<line x1="522.59" y1="182.80" x2="522.59" y2="180.60" stroke="#1e1e1e" stroke-width="1.1"/>
<text x="300.20" y="194.60" font-size="10.20" text-anchor="middle"  >202</text>
<text x="334.41" y="194.60" font-size="10.20" text-anchor="middle"  >201</text>
<text x="368.63" y="194.60" font-size="10.20" text-anchor="middle"  >200</text>
<text x="402.84" y="194.60" font-size="10.20" text-anchor="middle"  >199</text>
<text x="437.06" y="194.60" font-size="10.20" text-anchor="middle"  >198</text>
<text x="471.27" y="194.60" font-size="10.20" text-anchor="middle"  >197</text>
<text x="505.49" y="194.60" font-size="10.20" text-anchor="middle"  >196</text>
<text x="539.70" y="194.60" font-size="10.20" text-anchor="middle"  >195</text>
<text x="419.95" y="211.30" font-size="14.00" text-anchor="middle"  >Binding Energy (eV)</text>
<text transform="translate(289.70,143.20) rotate(-90)" x="0" y="0" font-size="14.00" text-anchor="start">Intensity (a.u.)</text>
<text x="279.50" y="17.30" font-size="11.20" text-anchor="start"  >(B)</text>
<text x="311.60" y="22.90" font-size="11.10">CeO<tspan font-size="7.5" dy="2.8">2</tspan><tspan dy="-2.8">/AgCl-30</tspan></text>
<text x="509.80" y="21.20" font-size="11.10" text-anchor="start"  >Cl 2<tspan font-style="italic">p</tspan></text>
<text x="398.70" y="45.00" font-size="10.80" text-anchor="start"  >199.2</text>
<text x="361.70" y="54.10" font-size="10.80" text-anchor="start" font-style="italic" >2<tspan>p</tspan><tspan font-size="7.6" dx="0.5" dy="3.1">3/2</tspan></text>
<text x="419.10" y="24.40" font-size="10.80" text-anchor="start"  >197.6</text>
<text x="462.70" y="29.00" font-size="10.80" text-anchor="start" font-style="italic" >2<tspan>p</tspan><tspan font-size="7.6" dx="0.5" dy="3.1">1/2</tspan></text>
<text x="312.50" y="117.30" font-size="11.10" text-anchor="start"  >AgCl</text>
<text x="413.90" y="130.90" font-size="10.80" text-anchor="start"  >198.6</text>
<text x="438.30" y="114.40" font-size="10.80" text-anchor="start"  >197.0</text>
<path d="M24.3,298.5 24.5,298.5 25.0,298.5 26.0,298.5 26.5,298.4 27.0,298.4 28.0,298.4 28.5,298.4 29.0,298.4 30.0,298.4 30.5,298.4 31.0,298.4 32.0,298.4 32.5,298.4 33.0,298.4 34.0,298.4 34.5,298.4 35.0,298.4 36.0,298.3 36.5,298.3 37.0,298.3 38.0,298.3 38.5,298.3 39.0,298.3 40.0,298.3 40.5,298.3 41.0,298.3 42.0,298.2 42.5,298.2 43.0,298.2 44.0,298.2 44.5,298.2 45.0,298.2 46.0,298.2 46.5,298.2 47.0,298.1 48.0,298.1 48.5,298.1 49.0,298.1 50.0,298.1 50.5,298.1 51.0,298.0 52.0,298.0 52.5,298.0 53.0,298.0 54.0,297.9 54.5,297.9 55.0,297.9 56.0,297.9 56.5,297.9 57.0,297.8 58.0,297.8 58.5,297.8 59.0,297.7 60.0,297.7 60.5,297.7 61.0,297.6 62.0,297.6 62.5,297.5 63.0,297.5 64.0,297.4 64.5,297.4 65.0,297.4 66.0,297.3 66.5,297.2 67.0,297.2 68.0,297.1 68.5,297.0 69.0,297.0 70.0,296.9 70.5,296.8 71.0,296.8 72.0,296.6 72.5,296.6 73.0,296.5 74.0,296.4 74.5,296.3 75.0,296.2 76.0,296.1 76.5,296.0 77.0,295.9 78.0,295.7 78.5,295.6 79.0,295.5 80.0,295.3 80.5,295.2 81.0,295.1 82.0,294.8 82.5,294.7 83.0,294.6 84.0,294.3 84.5,294.2 85.0,294.1 86.0,293.8 86.5,293.6 87.0,293.5 88.0,293.2 88.5,293.0 89.0,292.9 90.0,292.5 90.5,292.4 91.0,292.2 92.0,291.9 92.5,291.7 93.0,291.5 94.0,291.1 94.5,290.9 95.0,290.8 96.0,290.4 96.5,290.2 97.0,290.0 98.0,289.6 98.5,289.4 99.0,289.2 100.0,288.8 100.5,288.7 101.0,288.5 102.0,288.1 102.5,287.9 103.0,287.7 103.5,287.5 104.0,287.4 104.5,287.2 105.0,287.0 105.5,286.9 106.0,286.7 106.5,286.6 107.0,286.4 107.5,286.3 108.0,286.1 108.5,286.0 109.0,285.9 109.5,285.8 110.0,285.7 110.5,285.6 111.0,285.5 111.5,285.4 112.0,285.4 112.5,285.3 113.0,285.2 113.5,285.2 114.0,285.2 114.5,285.2 115.0,285.2 115.5,285.2 116.0,285.2 116.5,285.2 117.0,285.2 117.5,285.3 118.0,285.3 118.5,285.4 119.0,285.5 119.5,285.6 120.0,285.7 120.5,285.8 121.0,285.9 121.5,286.0 122.0,286.1 122.5,286.3 123.0,286.4 123.5,286.5 124.0,286.7 124.5,286.8 125.0,287.0 125.5,287.2 126.0,287.3 126.5,287.5 127.0,287.7 127.5,287.9 128.0,288.0 128.5,288.2 129.0,288.4 129.5,288.6 130.0,288.7 130.5,288.9 131.0,289.1 131.5,289.3 132.0,289.4 132.5,289.6 133.0,289.8 133.5,289.9 134.0,290.1 134.5,290.2 135.0,290.3 135.5,290.5 136.0,290.6 136.5,290.7 137.0,290.8 137.5,290.9 138.0,291.0 138.5,291.0 139.0,291.1 139.5,291.1 140.0,291.1 140.5,291.1 141.0,291.1 141.5,291.1 142.0,291.0 142.5,290.9 143.0,290.8 143.5,290.7 144.0,290.5 144.5,290.3 145.0,290.1 145.5,289.8 146.0,289.5 146.5,289.1 147.0,288.8 147.5,288.3 148.0,287.9 148.5,287.4 149.0,286.8 149.5,286.2 150.0,285.5 150.5,284.8 151.0,284.1 151.5,283.3 152.0,282.4 152.5,281.5 153.0,280.5 153.5,279.5 154.0,278.4 154.5,277.3 155.0,276.1 155.5,274.8 156.0,273.5 156.5,272.2 157.0,270.8 157.5,269.4 158.0,267.9 158.5,266.4 159.0,264.8 159.5,263.2 160.0,261.6 160.5,259.9 161.0,258.3 161.5,256.6 162.0,254.9 162.5,253.2 163.0,251.5 163.5,249.9 164.0,248.2 164.5,246.5 165.0,244.9 165.5,243.3 166.0,241.8 166.5,240.3 167.0,238.9 167.5,237.5 168.0,236.1 168.5,234.9 169.0,233.7 169.5,232.6 170.0,231.6 170.5,230.7 171.0,229.9 171.5,229.2 172.0,228.6 172.5,228.1 173.0,227.8 173.5,227.5 174.0,227.3 174.5,227.3 175.0,227.4 175.5,227.6 176.0,227.9 176.5,228.3 177.0,228.8 177.5,229.5 178.0,230.2 178.5,231.1 179.0,232.0 179.5,233.0 180.0,234.2 180.5,235.4 181.0,236.7 181.5,238.0 182.0,239.5 182.5,241.0 183.0,242.5 183.5,244.1 184.0,245.7 184.5,247.4 185.0,249.1 185.5,250.8 186.0,252.6 186.5,254.3 187.0,256.1 187.5,257.8 188.0,259.5 188.5,261.3 189.0,263.0 189.5,264.6 190.0,266.3 190.5,267.9 191.0,269.5 191.5,271.1 192.0,272.6 192.5,274.1 193.0,275.5 193.5,276.9 194.0,278.2 194.5,279.5 195.0,280.7 195.5,281.9 196.0,283.0 196.5,284.1 197.0,285.1 197.5,286.0 198.0,287.0 198.5,287.8 199.0,288.6 199.5,289.4 200.0,290.1 200.5,290.8 201.0,291.5 201.5,292.0 202.0,292.6 202.5,293.1 203.0,293.6 203.5,294.0 204.0,294.4 204.5,294.8 205.0,295.2 205.5,295.5 206.0,295.8 206.5,296.1 207.0,296.3 207.5,296.5 208.0,296.7 208.5,296.9 209.0,297.1 209.5,297.3 210.0,297.4 210.5,297.5 211.0,297.6 211.5,297.7 212.0,297.8 212.5,297.9 213.0,298.0 213.5,298.1 214.0,298.1 214.5,298.2 215.0,298.2 215.5,298.3 216.0,298.3 216.5,298.3 217.0,298.4 217.5,298.4 218.0,298.4 218.5,298.4 219.0,298.5 219.5,298.5 220.0,298.5 220.5,298.5 221.0,298.5 221.5,298.5 222.0,298.5 222.5,298.6 223.0,298.6 223.5,298.6 224.0,298.6 224.5,298.6 225.0,298.6 225.5,298.6 226.0,298.6 226.5,298.6 227.0,298.6 227.5,298.6 228.0,298.6 228.5,298.6 229.0,298.6 229.5,298.6 230.0,298.6 230.5,298.6 231.0,298.6 231.5,298.6 232.0,298.6 232.5,298.6 233.0,298.6 233.5,298.6 234.5,298.6 235.0,298.6 235.5,298.6 236.5,298.7 237.0,298.7 237.5,298.7 238.5,298.7 239.0,298.7 239.5,298.7 240.5,298.7 241.0,298.7 241.5,298.7 242.5,298.7 243.0,298.7 243.5,298.7 244.5,298.7 245.0,298.7 245.5,298.7 246.5,298.7 247.0,298.7 248.5,298.7 249.0,298.7 250.5,298.7 251.0,298.7 252.5,298.7 253.0,298.7 254.5,298.7 255.0,298.7 256.5,298.7 257.0,298.7 258.5,298.7 259.0,298.7 260.5,298.7 261.0,298.7 262.5,298.7 263.0,298.7 264.5,298.7 265.0,298.7 265.3,298.7" fill="none" stroke="#b0b0b0" stroke-width="1.1"/>
<path d="M24.3,298.9 24.5,298.9 26.5,298.9 28.5,298.9 30.5,298.9 32.5,298.9 34.5,298.9 36.5,298.9 38.5,298.9 40.5,298.9 42.5,298.9 44.5,298.9 46.5,298.9 48.5,298.9 50.5,298.9 52.5,298.9 54.5,298.9 56.5,298.9 58.5,298.9 60.5,298.9 62.5,298.9 64.5,298.9 66.5,298.9 68.5,298.9 70.5,298.9 72.5,298.9 74.5,298.9 76.5,298.9 78.5,298.9 80.5,298.9 82.5,298.9 84.5,298.9 86.5,298.9 88.5,298.9 90.5,298.9 92.5,298.9 94.5,298.9 96.5,298.9 98.5,298.9 100.5,298.9 102.5,298.9 103.5,298.9 104.5,298.9 105.5,298.9 106.5,298.9 107.5,298.9 108.5,298.9 109.5,298.9 110.5,298.9 111.5,298.9 112.5,298.9 113.5,298.9 114.5,298.9 115.5,298.9 116.5,298.9 117.5,298.9 118.5,298.9 119.5,298.9 120.5,298.9 121.5,298.9 122.5,298.9 123.5,298.9 124.5,298.9 125.5,298.9 126.5,298.9 127.5,298.9 128.5,298.8 129.5,298.8 130.5,298.8 131.5,298.7 132.5,298.7 133.5,298.6 134.5,298.5 135.5,298.4 136.5,298.3 137.5,298.1 138.5,297.9 139.5,297.7 140.5,297.4 141.5,297.0 142.5,296.5 143.5,296.0 144.5,295.3 145.5,294.5 146.5,293.6 147.5,292.6 148.5,291.4 149.5,290.0 150.5,288.4 151.5,286.7 152.5,284.7 153.5,282.6 154.5,280.2 155.5,277.6 156.5,274.9 157.5,271.9 158.5,268.8 159.5,265.6 160.5,262.3 161.5,258.9 162.5,255.4 163.5,252.0 164.5,248.6 165.5,245.4 166.5,242.3 167.5,239.4 168.5,236.8 169.5,234.5 170.5,232.6 171.5,231.0 172.5,229.9 173.5,229.2 174.5,229.0 175.5,229.2 176.5,229.9 177.5,231.0 178.5,232.6 179.5,234.5 180.5,236.8 181.5,239.4 182.5,242.3 183.5,245.4 184.5,248.6 185.5,252.0 186.5,255.4 187.5,258.9 188.5,262.3 189.5,265.6 190.5,268.8 191.5,271.9 192.5,274.9 193.5,277.6 194.5,280.2 195.5,282.6 196.5,284.7 197.5,286.7 198.5,288.4 199.5,290.0 200.5,291.4 201.5,292.6 202.5,293.6 203.5,294.5 204.5,295.3 205.5,296.0 206.5,296.5 207.5,297.0 208.5,297.4 209.5,297.7 210.5,297.9 211.5,298.1 212.5,298.3 213.5,298.4 214.5,298.5 215.5,298.6 216.5,298.7 217.5,298.7 218.5,298.8 219.5,298.8 220.5,298.8 221.5,298.9 222.5,298.9 223.5,298.9 224.5,298.9 225.5,298.9 226.5,298.9 227.5,298.9 228.5,298.9 229.5,298.9 230.5,298.9 231.5,298.9 232.5,298.9 233.5,298.9 234.5,298.9 235.5,298.9 236.5,298.9 237.5,298.9 238.5,298.9 239.5,298.9 240.5,298.9 241.5,298.9 242.5,298.9 243.5,298.9 244.5,298.9 245.5,298.9 246.5,298.9 248.5,298.9 250.5,298.9 252.5,298.9 254.5,298.9 256.5,298.9 258.5,298.9 260.5,298.9 262.5,298.9 264.5,298.9 265.3,298.9 Z" fill="url(#g9)"/>
<path d="M134.5,298.5 135.5,298.4 136.5,298.3 137.5,298.1 138.5,297.9 139.5,297.7 140.5,297.4 141.5,297.0 142.5,296.5 143.5,296.0 144.5,295.3 145.5,294.5 146.5,293.6 147.5,292.6 148.5,291.4 149.5,290.0 150.5,288.4 151.5,286.7 152.5,284.7 153.5,282.6 154.5,280.2 155.5,277.6 156.5,274.9 157.5,271.9 158.5,268.8 159.5,265.6 160.5,262.3 161.5,258.9 162.5,255.4 163.5,252.0 164.5,248.6 165.5,245.4 166.5,242.3 167.5,239.4 168.5,236.8 169.5,234.5 170.5,232.6 171.5,231.0 172.5,229.9 173.5,229.2 174.5,229.0 175.5,229.2 176.5,229.9 177.5,231.0 178.5,232.6 179.5,234.5 180.5,236.8 181.5,239.4 182.5,242.3 183.5,245.4 184.5,248.6 185.5,252.0 186.5,255.4 187.5,258.9 188.5,262.3 189.5,265.6 190.5,268.8 191.5,271.9 192.5,274.9 193.5,277.6 194.5,280.2 195.5,282.6 196.5,284.7 197.5,286.7 198.5,288.4 199.5,290.0 200.5,291.4 201.5,292.6 202.5,293.6 203.5,294.5 204.5,295.3 205.5,296.0 206.5,296.5 207.5,297.0 208.5,297.4 209.5,297.7 210.5,297.9 211.5,298.1 212.5,298.3 213.5,298.4 214.5,298.5" fill="none" stroke="#7aaee4" stroke-width="1.1"/>
<path d="M24.3,298.5 25.0,298.5 26.0,298.5 27.0,298.4 28.0,298.4 29.0,298.4 30.0,298.4 31.0,298.4 32.0,298.4 33.0,298.4 34.0,298.4 35.0,298.4 36.0,298.3 37.0,298.3 38.0,298.3 39.0,298.3 40.0,298.3 41.0,298.3 42.0,298.3 43.0,298.2 44.0,298.2 45.0,298.2 46.0,298.2 47.0,298.2 48.0,298.1 49.0,298.1 50.0,298.1 51.0,298.1 52.0,298.0 53.0,298.0 54.0,298.0 55.0,297.9 56.0,297.9 57.0,297.8 58.0,297.8 59.0,297.7 60.0,297.7 61.0,297.6 62.0,297.6 63.0,297.5 64.0,297.4 65.0,297.4 66.0,297.3 67.0,297.2 68.0,297.1 69.0,297.0 70.0,296.9 71.0,296.8 72.0,296.7 73.0,296.5 74.0,296.4 75.0,296.2 76.0,296.1 77.0,295.9 78.0,295.7 79.0,295.5 80.0,295.3 81.0,295.1 82.0,294.9 83.0,294.6 84.0,294.4 85.0,294.1 86.0,293.8 87.0,293.5 88.0,293.2 89.0,292.9 90.0,292.6 91.0,292.3 92.0,291.9 93.0,291.6 94.0,291.2 95.0,290.8 96.0,290.5 97.0,290.1 98.0,289.7 99.0,289.3 100.0,288.9 101.0,288.6 102.0,288.2 103.0,287.8 104.0,287.5 105.0,287.1 106.0,286.8 107.0,286.5 108.0,286.3 109.0,286.0 110.0,285.8 111.0,285.6 112.0,285.5 113.0,285.4 114.0,285.3 115.0,285.3 116.0,285.3 117.0,285.4 118.0,285.5 119.0,285.6 120.0,285.8 121.0,286.0 122.0,286.3 123.0,286.5 124.0,286.8 125.0,287.1 126.0,287.5 127.0,287.8 128.0,288.2 129.0,288.6 130.0,288.9 131.0,289.3 132.0,289.7 133.0,290.1 134.0,290.5 135.0,290.8 136.0,291.2 137.0,291.6 138.0,291.9 139.0,292.3 140.0,292.6 141.0,292.9 142.0,293.2 143.0,293.5 144.0,293.8 145.0,294.1 146.0,294.4 147.0,294.6 148.0,294.9 149.0,295.1 150.0,295.3 151.0,295.5 152.0,295.7 153.0,295.9 154.0,296.1 155.0,296.2 156.0,296.4 157.0,296.5 158.0,296.7 159.0,296.8 160.0,296.9 161.0,297.0 162.0,297.1 163.0,297.2 164.0,297.3 165.0,297.4 166.0,297.4 167.0,297.5 168.0,297.6 169.0,297.6 170.0,297.7 171.0,297.7 172.0,297.8 173.0,297.8 174.0,297.9 175.0,297.9 176.0,298.0 177.0,298.0 178.0,298.0 179.0,298.1 180.0,298.1 181.0,298.1 182.0,298.1 183.0,298.2 184.0,298.2 185.0,298.2 186.0,298.2 187.0,298.2 188.0,298.3 189.0,298.3 190.0,298.3 191.0,298.3 192.0,298.3 193.0,298.3 194.0,298.3 195.0,298.4 196.0,298.4 197.0,298.4 198.0,298.4 199.0,298.4 200.0,298.4 201.0,298.4 202.0,298.4 203.0,298.4 204.0,298.5 205.0,298.5 206.0,298.5 207.0,298.5 208.0,298.5 209.0,298.5 210.0,298.5 211.0,298.5 212.0,298.5 213.0,298.5 214.0,298.5 215.0,298.5 216.0,298.6 217.0,298.6 218.0,298.6 219.0,298.6 220.0,298.6 221.0,298.6 222.0,298.6 223.0,298.6 224.0,298.6 225.0,298.6 226.0,298.6 227.0,298.6 228.0,298.6 229.0,298.6 230.0,298.6 231.0,298.6 232.0,298.6 233.0,298.6 235.0,298.6 237.0,298.7 239.0,298.7 241.0,298.7 243.0,298.7 245.0,298.7 247.0,298.7 249.0,298.7 251.0,298.7 253.0,298.7 255.0,298.7 257.0,298.7 259.0,298.7 261.0,298.7 263.0,298.7 265.0,298.7 265.3,298.7 Z" fill="url(#g10)" stroke="#d5344e" stroke-width="1.1"/>
<path d="M24.3,384.5 25.0,384.5 26.0,384.5 26.2,384.5 27.0,384.6 28.0,384.6 28.2,384.6 29.0,384.6 30.0,384.6 30.2,384.6 31.0,384.6 32.0,384.6 32.2,384.6 33.0,384.7 34.0,384.7 34.2,384.7 35.0,384.7 36.0,384.7 36.2,384.7 37.0,384.7 38.0,384.6 38.2,384.6 39.0,384.6 40.0,384.6 40.2,384.6 41.0,384.5 42.0,384.4 42.2,384.4 43.0,384.3 44.0,384.2 44.2,384.2 45.0,384.1 46.0,384.0 46.2,383.9 47.0,383.8 48.0,383.6 48.2,383.6 49.0,383.4 50.0,383.2 50.2,383.1 51.0,382.9 52.0,382.7 52.2,382.6 53.0,382.4 54.0,382.1 54.2,382.0 55.0,381.8 56.0,381.4 56.2,381.3 57.0,381.0 58.0,380.6 58.2,380.6 59.0,380.2 60.0,379.8 60.2,379.7 61.0,379.4 62.0,378.9 62.2,378.8 63.0,378.4 64.0,377.9 64.2,377.8 65.0,377.4 66.0,376.9 66.2,376.7 67.0,376.3 68.0,375.7 68.2,375.6 69.0,375.2 70.0,374.6 70.2,374.5 71.0,374.0 72.0,373.4 72.2,373.3 73.0,372.8 74.0,372.2 74.2,372.1 75.0,371.6 76.0,370.9 76.2,370.8 77.0,370.3 78.0,369.7 78.2,369.6 79.0,369.1 80.0,368.4 80.2,368.3 81.0,367.8 81.2,367.7 82.0,367.2 82.2,367.1 83.0,366.6 83.2,366.5 84.0,366.0 84.2,365.9 85.0,365.4 85.2,365.3 86.0,364.8 86.2,364.7 87.0,364.3 87.2,364.2 88.0,363.7 88.2,363.6 89.0,363.2 89.2,363.1 90.0,362.7 90.2,362.6 91.0,362.2 91.2,362.1 92.0,361.7 92.2,361.6 93.0,361.3 93.2,361.2 94.0,360.8 94.2,360.7 95.0,360.4 95.2,360.3 96.0,360.0 96.2,360.0 97.0,359.7 97.2,359.6 98.0,359.4 98.2,359.3 99.0,359.1 99.2,359.0 100.0,358.8 100.2,358.7 101.0,358.6 101.2,358.5 102.0,358.4 102.2,358.3 103.0,358.2 103.2,358.2 104.0,358.1 104.2,358.0 105.0,357.9 105.2,357.9 106.0,357.9 106.2,357.9 107.0,357.8 107.2,357.8 108.0,357.8 108.2,357.8 109.0,357.9 109.2,357.9 110.0,357.9 110.2,357.9 111.0,358.0 111.2,358.0 112.0,358.1 112.2,358.2 113.0,358.3 113.2,358.3 114.0,358.5 114.2,358.5 115.0,358.7 115.2,358.7 116.0,358.9 116.2,359.0 117.0,359.2 117.2,359.2 118.0,359.5 118.2,359.5 119.0,359.8 119.2,359.8 120.0,360.1 120.2,360.1 121.0,360.4 121.2,360.5 122.0,360.8 122.2,360.8 123.0,361.1 123.2,361.2 124.0,361.4 124.2,361.5 125.0,361.8 125.2,361.9 126.0,362.1 126.2,362.2 127.0,362.4 127.2,362.5 128.0,362.7 128.2,362.8 129.0,363.0 129.2,363.1 130.0,363.3 130.2,363.3 131.0,363.4 131.2,363.5 132.0,363.6 132.2,363.6 133.0,363.7 133.2,363.7 134.0,363.7 134.2,363.7 135.0,363.6 135.2,363.6 136.0,363.5 136.2,363.5 137.0,363.3 137.2,363.2 138.0,362.9 138.2,362.9 139.0,362.5 139.2,362.4 140.0,361.9 140.2,361.8 141.0,361.3 141.2,361.1 142.0,360.5 142.2,360.3 143.0,359.5 143.2,359.3 144.0,358.5 144.2,358.2 145.0,357.2 145.2,357.0 146.0,355.9 146.2,355.6 147.0,354.4 147.2,354.1 148.0,352.8 148.2,352.5 149.0,351.1 149.2,350.7 150.0,349.2 150.2,348.9 151.0,347.3 151.2,346.9 152.0,345.3 152.2,344.8 153.0,343.1 153.2,342.7 154.0,341.0 154.2,340.5 155.0,338.8 155.2,338.3 156.0,336.6 156.2,336.1 157.0,334.4 157.2,333.9 158.0,332.2 158.2,331.8 159.0,330.1 159.2,329.7 160.0,328.1 160.2,327.7 161.0,326.2 161.2,325.8 162.0,324.4 162.2,324.1 163.0,322.8 163.2,322.5 164.0,321.4 164.2,321.1 165.0,320.2 165.2,320.0 166.0,319.2 166.2,319.0 167.0,318.5 167.2,318.4 168.0,318.0 168.2,317.9 169.0,317.8 169.2,317.8 170.0,317.8 170.2,317.9 171.0,318.2 171.2,318.3 172.0,318.8 172.2,318.9 173.0,319.6 173.2,319.9 174.0,320.8 174.2,321.0 175.0,322.2 175.2,322.5 176.0,323.8 176.2,324.2 177.0,325.7 177.2,326.0 178.0,327.7 178.2,328.1 179.0,329.9 179.2,330.4 180.0,332.3 180.2,332.8 181.0,334.8 181.2,335.3 182.0,337.4 182.2,338.0 183.0,340.1 183.2,340.7 184.0,342.9 184.2,343.4 185.0,345.6 185.2,346.2 186.0,348.4 186.2,349.0 187.0,351.2 187.2,351.7 188.0,353.9 188.2,354.4 189.0,356.6 189.2,357.1 190.0,359.1 190.2,359.7 191.0,361.6 191.2,362.1 192.0,364.0 192.2,364.5 193.0,366.3 193.2,366.8 194.0,368.5 194.2,368.9 195.0,370.5 195.2,370.9 196.0,372.4 196.2,372.8 197.0,374.2 197.2,374.5 198.0,375.8 198.2,376.1 199.0,377.3 199.2,377.6 200.0,378.7 200.2,379.0 201.0,380.0 201.2,380.2 202.0,381.1 202.2,381.3 203.0,382.1 203.2,382.3 204.0,383.1 204.2,383.2 205.0,383.9 205.2,384.0 206.0,384.6 206.2,384.7 207.0,385.2 207.2,385.4 208.0,385.8 208.2,385.9 209.0,386.3 209.2,386.4 210.0,386.7 210.2,386.8 211.0,387.1 211.2,387.2 212.0,387.4 212.2,387.5 213.0,387.7 213.2,387.7 214.0,387.9 214.2,388.0 215.0,388.1 215.2,388.2 216.0,388.3 216.2,388.3 217.0,388.4 217.2,388.5 218.0,388.6 218.2,388.6 219.0,388.7 219.2,388.7 220.0,388.7 220.2,388.8 221.0,388.8 221.2,388.8 222.0,388.9 222.2,388.9 223.0,388.9 223.2,388.9 224.0,388.9 224.2,389.0 225.0,389.0 225.2,389.0 226.0,389.0 226.2,389.0 227.0,389.0 227.2,389.0 228.0,389.0 228.2,389.0 229.0,389.1 229.2,389.1 230.0,389.1 230.2,389.1 231.0,389.1 231.2,389.1 232.0,389.1 232.2,389.1 233.0,389.1 233.2,389.1 234.0,389.1 234.2,389.1 235.0,389.1 235.2,389.1 236.0,389.1 236.2,389.1 237.0,389.1 237.2,389.1 238.0,389.1 238.2,389.1 239.0,389.1 239.2,389.1 240.0,389.1 240.2,389.1 241.0,389.1 241.2,389.1 242.0,389.1 242.2,389.1 243.0,389.1 243.2,389.1 244.0,389.1 244.2,389.1 245.0,389.1 245.2,389.1 246.0,389.1 246.2,389.1 247.0,389.1 247.2,389.1 248.0,389.1 248.2,389.1 249.0,389.1 249.2,389.1 250.0,389.1 250.2,389.1 251.0,389.1 251.2,389.1 252.0,389.1 252.2,389.1 253.0,389.1 253.2,389.1 254.0,389.1 254.2,389.1 255.0,389.1 255.2,389.1 256.0,389.1 256.2,389.1 257.0,389.1 257.2,389.1 258.0,389.1 258.2,389.1 259.0,389.1 259.2,389.1 260.0,389.1 260.2,389.1 261.0,389.1 262.0,389.1 262.2,389.1 263.0,389.1 264.0,389.1 264.2,389.1 265.0,389.1 265.3,389.1" fill="none" stroke="#b0b0b0" stroke-width="1.1"/>
<path d="M24.3,384.5 25.0,384.5 26.0,384.5 26.2,384.5 27.0,384.6 28.0,384.6 28.2,384.6 29.0,384.6 30.0,384.6 30.2,384.6 31.0,384.6 32.0,384.6 32.2,384.6 33.0,384.7 34.0,384.7 34.2,384.7 35.0,384.7 36.0,384.7 36.2,384.7 37.0,384.7 38.0,384.6 38.2,384.6 39.0,384.6 40.0,384.6 40.2,384.6 41.0,384.5 42.0,384.4 42.2,384.4 43.0,384.3 44.0,384.2 44.2,384.2 45.0,384.1 46.0,384.0 46.2,383.9 47.0,383.8 48.0,383.6 48.2,383.6 49.0,383.4 50.0,383.2 50.2,383.2 51.0,383.0 52.0,382.7 52.2,382.6 53.0,382.4 54.0,382.1 54.2,382.0 55.0,381.8 56.0,381.4 56.2,381.4 57.0,381.1 58.0,380.7 58.2,380.6 59.0,380.3 60.0,379.9 60.2,379.8 61.0,379.4 62.0,378.9 62.2,378.9 63.0,378.5 64.0,378.0 64.2,377.9 65.0,377.5 66.0,376.9 66.2,376.8 67.0,376.4 68.0,375.9 68.2,375.8 69.0,375.3 70.0,374.7 70.2,374.6 71.0,374.2 72.0,373.6 72.2,373.5 73.0,373.0 74.0,372.4 74.2,372.3 75.0,371.8 76.0,371.2 76.2,371.1 77.0,370.6 78.0,370.0 78.2,369.8 79.0,369.4 80.0,368.8 80.2,368.6 81.0,368.2 81.2,368.1 82.0,367.6 82.2,367.5 83.0,367.0 83.2,366.9 84.0,366.4 84.2,366.3 85.0,365.9 85.2,365.8 86.0,365.3 86.2,365.2 87.0,364.8 87.2,364.7 88.0,364.3 88.2,364.2 89.0,363.8 89.2,363.7 90.0,363.3 90.2,363.2 91.0,362.9 91.2,362.8 92.0,362.4 92.2,362.3 93.0,362.0 93.2,361.9 94.0,361.6 94.2,361.6 95.0,361.3 95.2,361.2 96.0,360.9 96.2,360.9 97.0,360.6 97.2,360.6 98.0,360.4 98.2,360.3 99.0,360.1 99.2,360.1 100.0,359.9 100.2,359.9 101.0,359.7 101.2,359.7 102.0,359.6 102.2,359.5 103.0,359.4 103.2,359.4 104.0,359.4 104.2,359.3 105.0,359.3 105.2,359.3 106.0,359.3 106.2,359.3 107.0,359.3 107.2,359.3 108.0,359.4 108.2,359.4 109.0,359.4 109.2,359.4 110.0,359.5 110.2,359.6 111.0,359.7 111.2,359.7 112.0,359.9 112.2,359.9 113.0,360.1 113.2,360.1 114.0,360.3 114.2,360.3 115.0,360.5 115.2,360.6 116.0,360.8 116.2,360.9 117.0,361.1 117.2,361.2 118.0,361.4 118.2,361.5 119.0,361.8 119.2,361.8 120.0,362.1 120.2,362.2 121.0,362.5 121.2,362.6 122.0,362.9 122.2,362.9 123.0,363.2 123.2,363.3 124.0,363.6 124.2,363.7 125.0,364.0 125.2,364.0 126.0,364.3 126.2,364.4 127.0,364.7 127.2,364.7 128.0,365.0 128.2,365.0 129.0,365.3 129.2,365.3 130.0,365.5 130.2,365.6 131.0,365.7 131.2,365.7 132.0,365.9 132.2,365.9 133.0,366.0 133.2,366.0 134.0,366.0 134.2,366.0 135.0,365.9 135.2,365.9 136.0,365.8 136.2,365.7 137.0,365.6 137.2,365.5 138.0,365.2 138.2,365.1 139.0,364.8 139.2,364.7 140.0,364.2 140.2,364.1 141.0,363.5 141.2,363.4 142.0,362.7 142.2,362.6 143.0,361.8 143.2,361.6 144.0,360.7 144.2,360.5 145.0,359.5 145.2,359.3 146.0,358.2 146.2,357.9 147.0,356.7 147.2,356.4 148.0,355.1 148.2,354.8 149.0,353.4 149.2,353.0 150.0,351.6 150.2,351.2 151.0,349.6 151.2,349.2 152.0,347.6 152.2,347.2 153.0,345.5 153.2,345.1 154.0,343.4 154.2,342.9 155.0,341.2 155.2,340.7 156.0,339.0 156.2,338.5 157.0,336.8 157.2,336.4 158.0,334.6 158.2,334.2 159.0,332.6 159.2,332.1 160.0,330.5 160.2,330.2 161.0,328.7 161.2,328.3 162.0,326.9 162.2,326.6 163.0,325.3 163.2,325.0 164.0,323.9 164.2,323.6 165.0,322.7 165.2,322.4 166.0,321.7 166.2,321.5 167.0,320.9 167.2,320.8 168.0,320.4 168.2,320.3 169.0,320.1 169.2,320.1 170.0,320.2 170.2,320.2 171.0,320.5 171.2,320.6 172.0,321.0 172.2,321.2 173.0,321.8 173.2,322.0 174.0,322.9 174.2,323.2 175.0,324.3 175.2,324.6 176.0,325.8 176.2,326.2 177.0,327.6 177.2,328.0 178.0,329.6 178.2,330.0 179.0,331.7 179.2,332.2 180.0,334.0 180.2,334.5 181.0,336.4 181.2,336.9 182.0,339.0 182.2,339.5 183.0,341.6 183.2,342.1 184.0,344.2 184.2,344.8 185.0,346.9 185.2,347.5 186.0,349.6 186.2,350.1 187.0,352.3 187.2,352.8 188.0,354.9 188.2,355.4 189.0,357.5 189.2,358.0 190.0,360.0 190.2,360.5 191.0,362.4 191.2,362.9 192.0,364.8 192.2,365.2 193.0,367.0 193.2,367.4 194.0,369.1 194.2,369.5 195.0,371.1 195.2,371.4 196.0,372.9 196.2,373.3 197.0,374.6 197.2,375.0 198.0,376.2 198.2,376.5 199.0,377.7 199.2,378.0 200.0,379.0 200.2,379.3 201.0,380.2 201.2,380.5 202.0,381.4 202.2,381.6 203.0,382.3 203.2,382.5 204.0,383.2 204.2,383.4 205.0,384.0 205.2,384.2 206.0,384.7 206.2,384.9 207.0,385.4 207.2,385.5 208.0,385.9 208.2,386.0 209.0,386.4 209.2,386.5 210.0,386.8 210.2,386.9 211.0,387.2 211.2,387.2 212.0,387.5 212.2,387.5 213.0,387.7 213.2,387.8 214.0,388.0 214.2,388.0 215.0,388.2 215.2,388.2 216.0,388.3 216.2,388.4 217.0,388.5 217.2,388.5 218.0,388.6 218.2,388.6 219.0,388.7 219.2,388.7 220.0,388.8 220.2,388.8 221.0,388.8 221.2,388.8 222.0,388.9 222.2,388.9 223.0,388.9 223.2,388.9 224.0,389.0 224.2,389.0 225.0,389.0 225.2,389.0 226.0,389.0 226.2,389.0 227.0,389.0 227.2,389.0 228.0,389.0 228.2,389.0 229.0,389.1 229.2,389.1 230.0,389.1 230.2,389.1 231.0,389.1 231.2,389.1 232.0,389.1 232.2,389.1 233.0,389.1 233.2,389.1 234.0,389.1 234.2,389.1 235.0,389.1 235.2,389.1 236.0,389.1 236.2,389.1 237.0,389.1 237.2,389.1 238.0,389.1 238.2,389.1 239.0,389.1 239.2,389.1 240.0,389.1 240.2,389.1 241.0,389.1 241.2,389.1 242.0,389.1 242.2,389.1 243.0,389.1 243.2,389.1 244.0,389.1 244.2,389.1 245.0,389.1 245.2,389.1 246.0,389.1 246.2,389.1 247.0,389.1 247.2,389.1 248.0,389.1 248.2,389.1 249.0,389.1 249.2,389.1 250.0,389.1 250.2,389.1 251.0,389.1 251.2,389.1 252.0,389.1 252.2,389.1 253.0,389.1 253.2,389.1 254.0,389.1 254.2,389.1 255.0,389.1 255.2,389.1 256.0,389.1 256.2,389.1 257.0,389.1 257.2,389.1 258.0,389.1 258.2,389.1 259.0,389.1 259.2,389.1 260.0,389.1 260.2,389.1 261.0,389.1 262.0,389.1 262.2,389.1 263.0,389.1 264.0,389.1 264.2,389.1 265.0,389.1 265.3,389.1" fill="none" stroke="#b0b0b0" stroke-width="1.0"/>
<path d="M24.3,388.4 25.0,388.4 26.0,388.3 27.0,388.2 28.0,388.1 29.0,388.1 30.0,388.0 31.0,387.9 32.0,387.8 33.0,387.6 34.0,387.5 35.0,387.4 36.0,387.2 37.0,387.1 38.0,386.9 39.0,386.7 40.0,386.6 41.0,386.4 42.0,386.2 43.0,385.9 44.0,385.7 45.0,385.5 46.0,385.2 47.0,384.9 48.0,384.7 49.0,384.4 50.0,384.0 51.0,383.7 52.0,383.4 53.0,383.0 54.0,382.6 55.0,382.3 56.0,381.9 57.0,381.4 58.0,381.0 59.0,380.6 60.0,380.1 61.0,379.6 62.0,379.1 63.0,378.6 64.0,378.1 65.0,377.6 66.0,377.0 67.0,376.5 68.0,375.9 69.0,375.4 70.0,374.8 71.0,374.2 72.0,373.6 73.0,373.0 74.0,372.4 75.0,371.8 76.0,371.2 77.0,370.6 78.0,370.0 79.0,369.4 80.0,368.8 81.0,368.2 82.0,367.6 83.0,367.0 84.0,366.4 85.0,365.9 86.0,365.3 87.0,364.8 88.0,364.3 89.0,363.8 90.0,363.3 91.0,362.9 92.0,362.4 93.0,362.0 94.0,361.6 95.0,361.3 96.0,360.9 97.0,360.6 98.0,360.4 99.0,360.1 100.0,359.9 101.0,359.7 102.0,359.6 103.0,359.5 104.0,359.4 105.0,359.3 106.0,359.3 107.0,359.3 108.0,359.4 109.0,359.5 110.0,359.6 111.0,359.7 112.0,359.9 113.0,360.1 114.0,360.4 115.0,360.6 116.0,360.9 117.0,361.3 118.0,361.6 119.0,362.0 120.0,362.4 121.0,362.9 122.0,363.3 123.0,363.8 124.0,364.3 125.0,364.8 126.0,365.3 127.0,365.9 128.0,366.4 129.0,367.0 130.0,367.6 131.0,368.2 132.0,368.8 133.0,369.4 134.0,370.0 135.0,370.6 136.0,371.2 137.0,371.8 138.0,372.4 139.0,373.0 140.0,373.6 141.0,374.2 142.0,374.8 143.0,375.4 144.0,375.9 145.0,376.5 146.0,377.0 147.0,377.6 148.0,378.1 149.0,378.6 150.0,379.1 151.0,379.6 152.0,380.1 153.0,380.6 154.0,381.0 155.0,381.4 156.0,381.9 157.0,382.3 158.0,382.6 159.0,383.0 160.0,383.4 161.0,383.7 162.0,384.0 163.0,384.4 164.0,384.7 165.0,384.9 166.0,385.2 167.0,385.5 168.0,385.7 169.0,385.9 170.0,386.2 171.0,386.4 172.0,386.6 173.0,386.7 174.0,386.9 175.0,387.1 176.0,387.2 177.0,387.4 178.0,387.5 179.0,387.6 180.0,387.8 181.0,387.9 182.0,388.0 183.0,388.1 184.0,388.1 185.0,388.2 186.0,388.3 187.0,388.4 188.0,388.4 189.0,388.5 190.0,388.6 191.0,388.6 192.0,388.6 193.0,388.7 194.0,388.7 195.0,388.8 196.0,388.8 197.0,388.8 198.0,388.9 199.0,388.9 200.0,388.9 201.0,388.9 202.0,388.9 203.0,389.0 204.0,389.0 205.0,389.0 206.0,389.0 207.0,389.0 208.0,389.0 209.0,389.0 210.0,389.0 211.0,389.0 212.0,389.0 213.0,389.1 214.0,389.1 215.0,389.1 216.0,389.1 217.0,389.1 218.0,389.1 219.0,389.1 220.0,389.1 221.0,389.1 222.0,389.1 223.0,389.1 224.0,389.1 225.0,389.1 226.0,389.1 227.0,389.1 228.0,389.1 229.0,389.1 230.0,389.1 231.0,389.1 232.0,389.1 233.0,389.1 234.0,389.1 235.0,389.1 236.0,389.1 237.0,389.1 238.0,389.1 239.0,389.1 240.0,389.1 241.0,389.1 242.0,389.1 243.0,389.1 244.0,389.1 245.0,389.1 246.0,389.1 247.0,389.1 248.0,389.1 249.0,389.1 250.0,389.1 251.0,389.1 252.0,389.1 253.0,389.1 254.0,389.1 255.0,389.1 256.0,389.1 257.0,389.1 258.0,389.1 259.0,389.1 260.0,389.1 261.0,389.1 262.0,389.1 263.0,389.1 264.0,389.1 265.0,389.1 265.3,389.1 Z" fill="url(#g11)"/>
<path d="M24.3,388.4 25.0,388.4 26.0,388.3 27.0,388.2 28.0,388.1 29.0,388.1 30.0,388.0 31.0,387.9 32.0,387.8 33.0,387.6 34.0,387.5 35.0,387.4 36.0,387.2 37.0,387.1 38.0,386.9 39.0,386.7 40.0,386.6 41.0,386.4 42.0,386.2 43.0,385.9 44.0,385.7 45.0,385.5 46.0,385.2 47.0,384.9 48.0,384.7 49.0,384.4 50.0,384.0 51.0,383.7 52.0,383.4 53.0,383.0 54.0,382.6 55.0,382.3 56.0,381.9 57.0,381.4 58.0,381.0 59.0,380.6 60.0,380.1 61.0,379.6 62.0,379.1 63.0,378.6 64.0,378.1 65.0,377.6 66.0,377.0 67.0,376.5 68.0,375.9 69.0,375.4 70.0,374.8 71.0,374.2 72.0,373.6 73.0,373.0 74.0,372.4 75.0,371.8 76.0,371.2 77.0,370.6 78.0,370.0 79.0,369.4 80.0,368.8 81.0,368.2 82.0,367.6 83.0,367.0 84.0,366.4 85.0,365.9 86.0,365.3 87.0,364.8 88.0,364.3 89.0,363.8 90.0,363.3 91.0,362.9 92.0,362.4 93.0,362.0 94.0,361.6 95.0,361.3 96.0,360.9 97.0,360.6 98.0,360.4 99.0,360.1 100.0,359.9 101.0,359.7 102.0,359.6 103.0,359.5 104.0,359.4 105.0,359.3 106.0,359.3 107.0,359.3 108.0,359.4 109.0,359.5 110.0,359.6 111.0,359.7 112.0,359.9 113.0,360.1 114.0,360.4 115.0,360.6 116.0,360.9 117.0,361.3 118.0,361.6 119.0,362.0 120.0,362.4 121.0,362.9 122.0,363.3 123.0,363.8 124.0,364.3 125.0,364.8 126.0,365.3 127.0,365.9 128.0,366.4 129.0,367.0 130.0,367.6 131.0,368.2 132.0,368.8 133.0,369.4 134.0,370.0 135.0,370.6 136.0,371.2 137.0,371.8 138.0,372.4 139.0,373.0 140.0,373.6 141.0,374.2 142.0,374.8 143.0,375.4 144.0,375.9 145.0,376.5 146.0,377.0 147.0,377.6 148.0,378.1 149.0,378.6 150.0,379.1 151.0,379.6 152.0,380.1 153.0,380.6 154.0,381.0 155.0,381.4 156.0,381.9 157.0,382.3 158.0,382.6 159.0,383.0 160.0,383.4 161.0,383.7 162.0,384.0 163.0,384.4 164.0,384.7 165.0,384.9 166.0,385.2 167.0,385.5 168.0,385.7 169.0,385.9 170.0,386.2 171.0,386.4 172.0,386.6 173.0,386.7 174.0,386.9 175.0,387.1 176.0,387.2 177.0,387.4 178.0,387.5 179.0,387.6 180.0,387.8 181.0,387.9 182.0,388.0 183.0,388.1 184.0,388.1 185.0,388.2 186.0,388.3 187.0,388.4 188.0,388.4 189.0,388.5 190.0,388.6 191.0,388.6 192.0,388.6 193.0,388.7 194.0,388.7" fill="none" stroke="#d5344e" stroke-width="1.1"/>
<path d="M24.3,389.1 26.2,389.1 28.2,389.1 30.2,389.1 32.2,389.1 34.2,389.1 36.2,389.1 38.2,389.1 40.2,389.1 42.2,389.1 44.2,389.1 46.2,389.1 48.2,389.1 50.2,389.1 52.2,389.1 54.2,389.1 56.2,389.1 58.2,389.1 60.2,389.1 62.2,389.1 64.2,389.1 66.2,389.1 68.2,389.1 70.2,389.1 72.2,389.1 74.2,389.1 76.2,389.1 78.2,389.1 80.2,389.1 81.2,389.1 82.2,389.1 83.2,389.1 84.2,389.1 85.2,389.1 86.2,389.1 87.2,389.1 88.2,389.1 89.2,389.1 90.2,389.1 91.2,389.1 92.2,389.1 93.2,389.1 94.2,389.1 95.2,389.1 96.2,389.1 97.2,389.1 98.2,389.1 99.2,389.1 100.2,389.1 101.2,389.1 102.2,389.1 103.2,389.1 104.2,389.1 105.2,389.1 106.2,389.1 107.2,389.1 108.2,389.1 109.2,389.1 110.2,389.1 111.2,389.1 112.2,389.1 113.2,389.0 114.2,389.0 115.2,389.0 116.2,389.0 117.2,388.9 118.2,388.9 119.2,388.9 120.2,388.8 121.2,388.7 122.2,388.6 123.2,388.5 124.2,388.4 125.2,388.3 126.2,388.1 127.2,387.9 128.2,387.6 129.2,387.4 130.2,387.0 131.2,386.7 132.2,386.2 133.2,385.7 134.2,385.1 135.2,384.5 136.2,383.8 137.2,382.9 138.2,382.0 139.2,381.0 140.2,379.9 141.2,378.6 142.2,377.3 143.2,375.8 144.2,374.2 145.2,372.5 146.2,370.6 147.2,368.7 148.2,366.6 149.2,364.4 150.2,362.2 151.2,359.8 152.2,357.4 153.2,354.9 154.2,352.4 155.2,349.9 156.2,347.4 157.2,344.9 158.2,342.5 159.2,340.2 160.2,337.9 161.2,335.8 162.2,333.8 163.2,332.0 164.2,330.4 165.2,329.0 166.2,327.8 167.2,326.9 168.2,326.2 169.2,325.8 170.2,325.7 171.2,325.8 172.2,326.2 173.2,326.9 174.2,327.8 175.2,329.0 176.2,330.4 177.2,332.0 178.2,333.8 179.2,335.8 180.2,337.9 181.2,340.2 182.2,342.5 183.2,344.9 184.2,347.4 185.2,349.9 186.2,352.4 187.2,354.9 188.2,357.4 189.2,359.8 190.2,362.2 191.2,364.4 192.2,366.6 193.2,368.7 194.2,370.6 195.2,372.5 196.2,374.2 197.2,375.8 198.2,377.3 199.2,378.6 200.2,379.9 201.2,381.0 202.2,382.0 203.2,382.9 204.2,383.8 205.2,384.5 206.2,385.1 207.2,385.7 208.2,386.2 209.2,386.7 210.2,387.0 211.2,387.4 212.2,387.6 213.2,387.9 214.2,388.1 215.2,388.3 216.2,388.4 217.2,388.5 218.2,388.6 219.2,388.7 220.2,388.8 221.2,388.9 222.2,388.9 223.2,388.9 224.2,389.0 225.2,389.0 226.2,389.0 227.2,389.0 228.2,389.1 229.2,389.1 230.2,389.1 231.2,389.1 232.2,389.1 233.2,389.1 234.2,389.1 235.2,389.1 236.2,389.1 237.2,389.1 238.2,389.1 239.2,389.1 240.2,389.1 241.2,389.1 242.2,389.1 243.2,389.1 244.2,389.1 245.2,389.1 246.2,389.1 247.2,389.1 248.2,389.1 249.2,389.1 250.2,389.1 251.2,389.1 252.2,389.1 253.2,389.1 254.2,389.1 255.2,389.1 256.2,389.1 257.2,389.1 258.2,389.1 259.2,389.1 260.2,389.1 262.2,389.1 264.2,389.1 265.3,389.1 Z" fill="url(#g12)" stroke="#7aaee4" stroke-width="1.1"/>
<line x1="24.3" y1="389.1" x2="265.3" y2="389.1" stroke="#72a7de" stroke-width="1.1"/>
<path d="M24.30,219.70 L265.30,219.70 L265.30,399.40 L24.30,399.40 Z" fill="none" stroke="#1e1e1e" stroke-width="1.6"/>
<line x1="48.40" y1="399.40" x2="48.40" y2="396.20" stroke="#1e1e1e" stroke-width="1.2"/>
<line x1="96.60" y1="399.40" x2="96.60" y2="396.20" stroke="#1e1e1e" stroke-width="1.2"/>
<line x1="144.80" y1="399.40" x2="144.80" y2="396.20" stroke="#1e1e1e" stroke-width="1.2"/>
<line x1="193.00" y1="399.40" x2="193.00" y2="396.20" stroke="#1e1e1e" stroke-width="1.2"/>
<line x1="241.20" y1="399.40" x2="241.20" y2="396.20" stroke="#1e1e1e" stroke-width="1.2"/>
<line x1="24.30" y1="399.40" x2="24.30" y2="397.20" stroke="#1e1e1e" stroke-width="1.1"/>
<line x1="72.50" y1="399.40" x2="72.50" y2="397.20" stroke="#1e1e1e" stroke-width="1.1"/>
<line x1="120.70" y1="399.40" x2="120.70" y2="397.20" stroke="#1e1e1e" stroke-width="1.1"/>
<line x1="168.90" y1="399.40" x2="168.90" y2="397.20" stroke="#1e1e1e" stroke-width="1.1"/>
<line x1="217.10" y1="399.40" x2="217.10" y2="397.20" stroke="#1e1e1e" stroke-width="1.1"/>
<line x1="265.30" y1="399.40" x2="265.30" y2="397.20" stroke="#1e1e1e" stroke-width="1.1"/>
<text x="48.40" y="411.20" font-size="10.20" text-anchor="middle"  >534</text>
<text x="96.60" y="411.20" font-size="10.20" text-anchor="middle"  >532</text>
<text x="144.80" y="411.20" font-size="10.20" text-anchor="middle"  >530</text>
<text x="193.00" y="411.20" font-size="10.20" text-anchor="middle"  >528</text>
<text x="241.20" y="411.20" font-size="10.20" text-anchor="middle"  >526</text>
<text x="144.80" y="427.50" font-size="14.00" text-anchor="middle"  >Binding Energy (eV)</text>
<text transform="translate(13.00,354.10) rotate(-90)" x="0" y="0" font-size="14.00" text-anchor="start">Intensity (a.u.)</text>
<text x="2.30" y="230.70" font-size="11.20" text-anchor="start"  >(C)</text>
<text x="32.50" y="239.80" font-size="11.10">CeO<tspan font-size="7.5" dy="2.8">2</tspan><tspan dy="-2.8">/AgCl-30</tspan></text>
<text x="232.90" y="234.20" font-size="11.10" text-anchor="start"  >O 1<tspan font-style="italic">s</tspan></text>
<text x="141.90" y="236.50" font-size="10.80" text-anchor="start" font-style="italic" >Ce-O</text>
<text x="184.40" y="240.80" font-size="10.80" text-anchor="start"  >528.7</text>
<text x="78.20" y="282.40" font-size="10.80" text-anchor="start"  >531.2</text>
<text x="126.40" y="280.00" font-size="10.80" text-anchor="start" font-style="italic" >H-O</text>
<text x="31.80" y="330.10" font-size="11.10" text-anchor="start"  >CeO<tspan font-size="7.5" dy="2.8">2</tspan></text>
<text x="72.00" y="357.30" font-size="10.80" text-anchor="start"  >531.6</text>
<text x="183.90" y="327.90" font-size="10.80" text-anchor="start"  >528.9</text>
<path d="M300.5,303.0 302.5,302.9 303.5,302.9 304.5,302.9 305.5,302.9 306.5,302.9 307.5,302.8 308.5,302.8 309.5,302.8 310.5,302.8 311.5,302.7 312.5,302.7 313.5,302.6 314.5,302.5 315.5,302.4 316.0,302.4 316.5,302.3 317.5,302.1 318.0,302.0 318.5,301.8 319.5,301.4 320.0,301.1 320.5,300.7 321.5,299.8 322.0,299.3 322.5,298.6 323.5,297.0 324.0,296.1 324.5,295.0 325.5,292.6 326.0,291.3 326.5,289.9 327.5,286.9 328.0,285.4 328.5,283.9 329.5,281.1 330.0,279.8 330.5,278.8 331.5,277.2 332.0,276.8 332.5,276.7 333.5,277.2 333.8,277.6 334.0,277.9 334.5,278.7 335.5,281.1 335.8,281.9 336.0,282.4 336.5,283.9 337.5,286.9 337.8,287.8 338.0,288.4 338.3,289.2 338.5,289.8 339.5,292.6 339.8,293.3 340.0,293.8 340.3,294.5 340.5,294.9 341.5,296.9 341.8,297.4 342.0,297.7 342.3,298.2 342.5,298.5 343.5,299.7 343.8,299.9 344.0,300.1 344.3,300.4 344.5,300.5 345.5,301.1 345.8,301.2 346.0,301.3 346.3,301.4 346.5,301.5 347.5,301.7 347.8,301.8 348.0,301.8 348.3,301.8 348.5,301.8 349.5,301.9 349.8,301.9 350.0,301.9 350.3,301.9 350.5,301.9 351.5,301.8 351.8,301.8 352.0,301.8 352.3,301.7 352.5,301.7 353.5,301.6 353.8,301.5 354.0,301.5 354.3,301.4 354.5,301.4 355.5,301.2 355.8,301.1 356.0,301.1 356.3,301.0 356.5,301.0 357.5,300.7 357.8,300.6 358.0,300.6 358.3,300.5 358.5,300.4 359.5,300.1 359.8,300.0 360.0,299.9 360.3,299.8 360.5,299.7 361.5,299.4 361.8,299.2 362.0,299.2 362.3,299.0 362.5,298.9 363.5,298.5 363.8,298.4 364.0,298.3 364.3,298.1 364.5,298.1 364.7,298.0 365.5,297.6 365.8,297.4 366.0,297.3 366.3,297.2 366.5,297.1 366.7,297.0 367.0,296.9 367.5,296.6 367.8,296.5 368.0,296.4 368.3,296.2 368.5,296.2 368.7,296.1 369.0,295.9 369.5,295.7 369.8,295.6 370.0,295.5 370.3,295.3 370.5,295.2 370.7,295.2 371.0,295.0 371.5,294.8 371.8,294.7 372.0,294.6 372.3,294.5 372.5,294.5 372.7,294.4 373.0,294.3 373.5,294.1 373.8,294.0 374.0,294.0 374.3,293.9 374.5,293.8 374.7,293.8 375.0,293.7 375.5,293.6 375.8,293.5 376.0,293.5 376.3,293.4 376.5,293.4 376.7,293.4 377.0,293.3 377.5,293.3 377.8,293.3 378.0,293.3 378.3,293.2 378.5,293.2 378.7,293.2 379.0,293.2 379.5,293.2 379.8,293.3 380.0,293.3 380.3,293.3 380.5,293.3 380.7,293.3 380.8,293.4 381.0,293.4 381.5,293.4 381.8,293.5 382.0,293.5 382.3,293.6 382.5,293.6 382.7,293.7 382.8,293.7 383.0,293.7 383.5,293.9 383.8,293.9 384.0,294.0 384.3,294.1 384.5,294.1 384.7,294.2 384.8,294.2 385.0,294.3 385.5,294.4 385.8,294.5 386.0,294.6 386.3,294.7 386.5,294.8 386.7,294.8 386.8,294.9 387.0,294.9 387.5,295.1 387.8,295.2 388.0,295.3 388.3,295.4 388.5,295.4 388.7,295.5 388.8,295.5 389.0,295.6 389.5,295.8 389.8,295.9 390.0,295.9 390.3,296.0 390.5,296.1 390.7,296.1 390.8,296.2 390.9,296.2 391.0,296.2 391.5,296.3 391.8,296.4 392.0,296.5 392.3,296.5 392.5,296.6 392.7,296.6 392.8,296.7 392.9,296.7 393.0,296.7 393.5,296.8 393.8,296.8 394.0,296.9 394.3,296.9 394.5,296.9 394.7,297.0 394.8,297.0 394.9,297.0 395.0,297.0 395.5,297.1 395.8,297.1 396.0,297.1 396.3,297.1 396.5,297.1 396.7,297.1 396.8,297.1 396.9,297.1 397.0,297.1 397.5,297.1 397.8,297.1 398.0,297.1 398.3,297.0 398.5,297.0 398.7,297.0 398.8,297.0 398.9,297.0 399.0,296.9 399.5,296.8 399.8,296.8 400.0,296.7 400.3,296.6 400.5,296.5 400.7,296.5 400.8,296.4 400.9,296.4 401.0,296.3 401.5,296.1 401.8,295.9 402.0,295.8 402.3,295.6 402.5,295.4 402.7,295.3 402.8,295.2 402.9,295.1 403.0,295.0 403.5,294.6 403.7,294.4 403.8,294.3 404.0,294.0 404.3,293.7 404.5,293.4 404.6,293.3 404.7,293.2 404.8,293.0 404.9,292.9 405.0,292.8 405.5,292.0 405.7,291.7 405.8,291.5 405.9,291.4 406.0,291.2 406.3,290.7 406.5,290.3 406.6,290.2 406.7,290.0 406.8,289.8 406.9,289.6 407.0,289.4 407.5,288.4 407.7,288.0 407.8,287.8 407.9,287.6 408.0,287.4 408.3,286.7 408.5,286.3 408.6,286.1 408.7,285.9 408.8,285.7 408.9,285.4 409.0,285.2 409.5,284.1 409.7,283.7 409.8,283.4 409.9,283.2 410.0,283.0 410.3,282.3 410.5,281.9 410.6,281.6 410.7,281.4 410.8,281.2 410.9,280.9 411.0,280.7 411.5,279.5 411.7,279.0 411.8,278.8 411.9,278.5 412.0,278.2 412.3,277.5 412.5,276.9 412.6,276.7 412.7,276.4 412.8,276.1 412.9,275.9 413.0,275.6 413.5,274.4 413.7,274.0 413.8,273.9 413.9,273.7 414.0,273.5 414.3,273.2 414.5,273.1 414.6,273.0 414.7,273.0 414.8,273.1 414.9,273.1 415.0,273.2 415.5,273.8 415.7,274.2 415.8,274.4 415.9,274.7 416.0,274.9 416.3,275.7 416.5,276.3 416.6,276.6 416.7,276.9 416.8,277.2 416.9,277.5 417.0,277.7 417.5,279.1 417.7,279.6 417.8,279.8 417.9,280.0 418.0,280.2 418.3,280.8 418.5,281.1 418.6,281.2 418.7,281.4 418.8,281.5 418.9,281.6 419.0,281.7 419.5,282.0 419.6,282.1 419.7,282.1 419.8,282.1 419.9,282.1 420.0,282.1 420.3,282.1 420.5,282.0 420.6,282.0 420.7,281.9 420.8,281.8 420.9,281.7 421.0,281.6 421.5,281.0 421.6,280.9 421.7,280.7 421.8,280.6 421.9,280.4 422.0,280.2 422.3,279.6 422.5,279.1 422.6,278.9 422.7,278.6 422.8,278.4 422.9,278.1 423.0,277.8 423.3,276.9 423.5,276.3 423.6,276.0 423.7,275.6 423.8,275.3 423.9,275.0 424.0,274.6 424.3,273.5 424.5,272.8 424.6,272.4 424.7,272.0 424.8,271.6 424.9,271.2 425.0,270.8 425.3,269.6 425.5,268.8 425.6,268.4 425.7,267.9 425.8,267.5 426.0,266.7 426.3,265.5 426.5,264.7 426.6,264.4 426.7,264.0 426.8,263.6 426.9,263.3 427.0,263.0 427.3,262.0 427.5,261.5 427.6,261.3 427.7,261.1 427.8,260.9 428.0,260.5 428.3,260.2 428.5,260.2 428.6,260.2 428.7,260.2 428.8,260.3 428.9,260.4 429.0,260.5 429.3,261.0 429.5,261.4 429.6,261.7 429.7,262.0 429.8,262.3 430.0,263.0 430.3,264.1 430.5,264.9 430.6,265.4 430.7,265.8 430.8,266.3 430.9,266.7 431.0,267.2 431.3,268.7 431.5,269.7 431.6,270.2 431.7,270.7 431.8,271.2 432.0,272.2 432.3,273.8 432.5,274.8 432.6,275.3 432.7,275.9 432.8,276.4 432.9,276.9 433.0,277.4 433.3,278.9 433.5,279.9 433.6,280.4 433.7,280.8 433.8,281.3 434.0,282.3 434.3,283.6 434.5,284.5 434.6,285.0 434.7,285.4 434.8,285.8 434.9,286.2 435.3,287.8 435.5,288.6 435.6,289.0 435.7,289.3 435.8,289.7 436.0,290.4 436.3,291.4 436.5,292.0 436.6,292.3 436.7,292.6 436.8,292.9 436.9,293.1 437.3,294.2 437.5,294.7 437.6,294.9 437.7,295.1 437.8,295.3 438.0,295.8 438.3,296.3 438.5,296.7 438.6,296.9 438.7,297.0 438.8,297.2 438.9,297.3 439.3,297.9 439.5,298.2 439.7,298.4 439.8,298.5 440.0,298.8 440.3,299.1 440.5,299.2 440.6,299.3 440.7,299.4 440.8,299.5 441.3,299.8 441.5,300.0 441.7,300.1 441.8,300.2 442.0,300.3 442.3,300.4 442.5,300.5 442.6,300.5 442.7,300.6 442.8,300.6 443.3,300.8 443.5,300.9 443.7,300.9 443.8,300.9 444.0,301.0 444.3,301.1 444.5,301.1 444.6,301.1 444.7,301.2 444.8,301.2 445.3,301.3 445.5,301.3 445.7,301.4 445.8,301.4 446.0,301.4 446.3,301.5 446.5,301.5 446.6,301.5 446.7,301.5 446.8,301.5 447.3,301.6 447.5,301.6 447.7,301.6 447.8,301.6 448.0,301.6 448.3,301.7 448.5,301.7 448.6,301.7 448.7,301.7 449.0,301.7 449.3,301.8 449.7,301.8 449.8,301.8 450.0,301.8 450.3,301.8 450.5,301.8 450.6,301.8 450.7,301.8 451.0,301.8 451.3,301.8 451.7,301.9 451.8,301.9 452.0,301.9 452.3,301.9 452.5,301.9 452.6,301.9 452.7,301.9 453.0,301.9 453.3,301.9 453.7,301.8 453.8,301.8 454.0,301.8 454.3,301.8 454.5,301.8 454.7,301.8 455.0,301.8 455.3,301.8 455.8,301.7 456.0,301.7 456.3,301.7 456.5,301.6 456.7,301.6 457.0,301.6 457.3,301.5 457.8,301.5 458.0,301.4 458.3,301.4 458.5,301.3 458.7,301.3 459.0,301.2 459.3,301.2 459.8,301.0 460.0,301.0 460.3,300.9 460.5,300.8 460.7,300.8 461.0,300.7 461.3,300.6 461.8,300.4 462.0,300.3 462.3,300.2 462.5,300.1 462.7,300.0 463.0,299.9 463.3,299.7 463.8,299.5 464.0,299.4 464.3,299.2 464.5,299.1 464.7,299.0 465.0,298.8 465.3,298.7 465.8,298.3 466.0,298.2 466.3,298.0 466.5,297.9 466.7,297.7 467.0,297.5 467.3,297.3 467.8,296.9 468.0,296.8 468.3,296.5 468.5,296.4 468.7,296.2 469.0,296.0 469.3,295.7 469.8,295.3 470.0,295.1 470.3,294.8 470.5,294.7 470.7,294.5 471.0,294.2 471.3,293.9 471.8,293.5 472.0,293.3 472.3,293.0 472.5,292.8 472.7,292.7 473.0,292.4 473.3,292.1 473.8,291.7 474.0,291.5 474.3,291.2 474.5,291.0 474.7,290.9 475.0,290.6 475.3,290.4 475.8,289.9 476.0,289.8 476.3,289.6 476.5,289.4 476.7,289.3 477.0,289.0 477.3,288.8 477.8,288.5 478.0,288.4 478.3,288.2 478.5,288.1 478.7,288.0 479.0,287.8 479.3,287.7 479.8,287.5 480.0,287.4 480.3,287.3 480.5,287.3 480.7,287.2 481.0,287.1 481.3,287.1 481.8,287.0 482.0,287.0 482.3,287.0 482.5,287.0 482.7,287.0 483.0,287.0 483.3,287.1 483.8,287.1 484.0,287.2 484.3,287.3 484.5,287.3 484.7,287.4 485.0,287.5 485.3,287.6 485.8,287.8 486.0,287.9 486.3,288.0 486.5,288.1 486.7,288.2 487.0,288.4 487.3,288.5 487.8,288.8 488.0,288.9 488.3,289.1 488.5,289.2 488.7,289.3 489.0,289.5 489.3,289.6 489.8,289.8 490.0,289.9 490.3,290.0 490.5,290.1 490.7,290.1 491.0,290.2 491.3,290.2 491.8,290.3 492.0,290.2 492.3,290.2 492.5,290.2 492.7,290.1 493.0,290.1 493.3,289.9 493.8,289.7 494.0,289.6 494.3,289.5 494.5,289.3 495.0,289.0 495.3,288.8 496.0,288.4 496.3,288.1 496.5,288.0 497.0,287.7 497.3,287.4 498.0,286.9 498.3,286.7 498.5,286.6 499.0,286.2 499.3,285.9 500.0,285.2 500.3,284.8 500.5,284.6 501.0,283.9 501.3,283.5 501.5,283.2 502.0,282.3 502.3,281.7 502.5,281.3 503.0,280.3 503.3,279.7 503.5,279.2 504.0,278.1 504.3,277.4 504.5,276.9 505.0,275.7 505.3,275.0 505.5,274.5 506.0,273.3 506.3,272.5 506.5,272.0 507.0,270.6 507.3,269.7 507.5,269.0 508.0,267.3 508.3,266.2 508.5,265.4 509.0,263.6 509.3,262.7 509.5,262.1 510.0,261.1 510.3,260.9 510.5,260.9 511.0,261.6 511.3,262.4 511.5,263.1 512.0,265.0 512.3,266.4 512.5,267.3 513.0,269.6 513.3,270.9 513.5,271.7 514.0,273.6 514.3,274.7 514.5,275.4 515.0,277.0 515.3,278.0 515.5,278.6 516.0,280.1 516.3,281.1 516.5,281.7 517.0,283.2 517.3,284.1 517.5,284.6 518.0,286.1 518.3,286.9 518.5,287.5 519.0,288.9 519.3,289.7 519.5,290.2 520.0,291.4 520.3,292.1 520.5,292.6 521.0,293.7 521.3,294.3 522.0,295.6 522.3,296.1 522.5,296.5 523.0,297.2 523.3,297.7 524.0,298.6 524.3,298.9 524.5,299.1 525.0,299.6 525.3,299.9 526.0,300.5 526.3,300.7 526.5,300.8 527.0,301.1 527.3,301.3 528.0,301.6 528.3,301.7 528.5,301.8 529.0,302.0 529.3,302.0 530.0,302.2 530.3,302.3 530.5,302.3 531.0,302.4 531.3,302.4 532.0,302.5 532.3,302.6 532.5,302.6 533.0,302.6 533.3,302.6 534.0,302.7 534.3,302.7 534.5,302.7 535.0,302.7 535.3,302.8 536.0,302.8 536.3,302.8 536.5,302.8 537.0,302.8 537.3,302.8 538.0,302.8 538.3,302.8 538.5,302.8 539.0,302.9 539.3,302.9 540.0,302.9 540.3,302.9 540.5,302.9 540.8,302.9" fill="none" stroke="#b0b0b0" stroke-width="1.1"/>
<path d="M300.5,303.0 302.5,303.0 303.5,303.0 304.5,303.0 305.5,303.0 306.5,302.9 307.5,302.9 308.5,302.9 309.5,302.9 310.5,302.8 311.5,302.8 312.5,302.8 313.5,302.7 314.5,302.7 315.5,302.6 316.5,302.4 317.5,302.2 318.5,301.9 319.5,301.5 320.5,300.9 321.5,300.1 322.5,298.9 323.5,297.4 324.5,295.4 325.5,293.1 326.5,290.5 327.5,287.6 328.5,284.8 329.5,282.0 330.5,279.8 331.5,278.3 332.5,277.8 333.5,278.3 334.5,279.8 335.5,282.0 336.5,284.8 337.5,287.6 338.5,290.5 339.5,293.1 340.5,295.4 341.5,297.4 342.5,298.9 343.5,300.1 344.5,300.9 345.5,301.5 346.5,301.9 347.5,302.2 348.5,302.4 349.5,302.6 350.5,302.7 351.5,302.7 352.5,302.8 353.5,302.8 354.5,302.8 355.5,302.9 356.5,302.9 357.5,302.9 358.5,302.9 359.5,303.0 360.5,303.0 361.5,303.0 362.5,303.0 364.5,303.0 366.5,303.0 368.5,303.1 370.5,303.1 372.5,303.1 374.5,303.1 376.5,303.1 378.5,303.1 380.5,303.1 382.5,303.1 384.5,303.1 386.5,303.1 388.5,303.1 390.5,303.1 392.5,303.1 394.5,303.2 396.5,303.2 398.5,303.2 400.5,303.2 402.5,303.2 404.5,303.2 540.8,303.2 Z" fill="url(#g13)"/>
<path d="M310.5,302.8 311.5,302.8 312.5,302.8 313.5,302.7 314.5,302.7 315.5,302.6 316.5,302.4 317.5,302.2 318.5,301.9 319.5,301.5 320.5,300.9 321.5,300.1 322.5,298.9 323.5,297.4 324.5,295.4 325.5,293.1 326.5,290.5 327.5,287.6 328.5,284.8 329.5,282.0 330.5,279.8 331.5,278.3 332.5,277.8 333.5,278.3 334.5,279.8 335.5,282.0 336.5,284.8 337.5,287.6 338.5,290.5 339.5,293.1 340.5,295.4 341.5,297.4 342.5,298.9 343.5,300.1 344.5,300.9 345.5,301.5 346.5,301.9 347.5,302.2 348.5,302.4 349.5,302.6 350.5,302.7 351.5,302.7 352.5,302.8 353.5,302.8 354.5,302.8" fill="none" stroke="#d5344e" stroke-width="1.1"/>
<path d="M300.5,303.2 302.5,303.2 304.5,303.2 306.5,303.2 308.5,303.2 309.5,303.2 310.5,303.2 311.5,303.2 312.5,303.2 313.5,303.2 314.5,303.2 315.5,303.2 316.5,303.2 317.5,303.2 318.5,303.2 319.5,303.2 320.5,303.2 321.5,303.2 322.5,303.2 323.5,303.2 324.5,303.2 325.5,303.2 326.5,303.2 327.5,303.2 328.5,303.2 329.5,303.2 330.5,303.2 331.5,303.2 332.5,303.2 333.5,303.2 334.5,303.2 335.5,303.2 336.5,303.2 337.5,303.2 338.5,303.2 339.5,303.2 340.5,303.1 341.5,303.1 342.5,303.1 343.5,303.1 344.5,303.0 345.5,303.0 346.5,303.0 347.5,302.9 348.5,302.8 349.5,302.7 350.5,302.6 351.5,302.5 352.5,302.4 353.5,302.2 354.5,302.0 355.5,301.8 356.5,301.6 357.5,301.3 358.5,301.0 359.5,300.7 360.5,300.3 361.5,300.0 362.5,299.6 363.5,299.1 364.5,298.7 365.5,298.2 366.5,297.8 367.5,297.3 368.5,296.9 369.5,296.4 370.5,296.0 371.5,295.6 372.5,295.3 373.5,295.0 374.5,294.7 375.5,294.5 376.5,294.3 377.5,294.2 378.5,294.2 379.5,294.2 380.5,294.3 381.5,294.5 382.5,294.7 383.5,295.0 384.5,295.3 385.5,295.6 386.5,296.0 387.5,296.4 388.5,296.9 389.5,297.3 390.5,297.8 391.5,298.2 392.5,298.7 393.5,299.1 394.5,299.6 395.5,300.0 396.5,300.3 397.5,300.7 398.5,301.0 399.5,301.3 400.5,301.6 401.5,301.8 402.5,302.0 403.5,302.2 404.5,302.4 405.5,302.5 406.5,302.6 407.5,302.7 408.5,302.8 409.5,302.9 410.5,303.0 411.5,303.0 412.5,303.0 413.5,303.1 414.5,303.1 415.5,303.1 416.5,303.1 417.5,303.2 418.5,303.2 419.5,303.2 420.5,303.2 421.5,303.2 422.5,303.2 423.5,303.2 424.5,303.2 425.5,303.2 426.5,303.2 427.5,303.2 428.5,303.2 429.5,303.2 430.5,303.2 431.5,303.2 432.5,303.2 433.5,303.2 434.5,303.2 435.5,303.2 436.5,303.2 437.5,303.2 438.5,303.2 439.5,303.2 440.5,303.2 441.5,303.2 442.5,303.2 443.5,303.2 444.5,303.2 445.5,303.2 446.5,303.2 447.5,303.2 448.5,303.2 450.5,303.2 452.5,303.2 454.5,303.2 456.5,303.2 458.5,303.2 460.5,303.2 462.5,303.2 464.5,303.2 466.5,303.2 468.5,303.2 470.5,303.2 472.5,303.2 474.5,303.2 476.5,303.2 478.5,303.2 480.5,303.2 482.5,303.2 484.5,303.2 486.5,303.2 488.5,303.2 490.5,303.2 492.5,303.2 494.5,303.2 496.5,303.2 498.5,303.2 500.5,303.2 502.5,303.2 504.5,303.2 506.5,303.2 508.5,303.2 510.5,303.2 512.5,303.2 514.5,303.2 516.5,303.2 518.5,303.2 520.5,303.2 522.5,303.2 524.5,303.2 526.5,303.2 528.5,303.2 530.5,303.2 532.5,303.2 534.5,303.2 536.5,303.2 538.5,303.2 540.5,303.2 540.8,303.2 Z" fill="url(#g14)"/>
<path d="M348.5,302.8 349.5,302.7 350.5,302.6 351.5,302.5 352.5,302.4 353.5,302.2 354.5,302.0 355.5,301.8 356.5,301.6 357.5,301.3 358.5,301.0 359.5,300.7 360.5,300.3 361.5,300.0 362.5,299.6 363.5,299.1 364.5,298.7 365.5,298.2 366.5,297.8 367.5,297.3 368.5,296.9 369.5,296.4 370.5,296.0 371.5,295.6 372.5,295.3 373.5,295.0 374.5,294.7 375.5,294.5 376.5,294.3 377.5,294.2 378.5,294.2 379.5,294.2 380.5,294.3 381.5,294.5 382.5,294.7 383.5,295.0 384.5,295.3 385.5,295.6 386.5,296.0 387.5,296.4 388.5,296.9 389.5,297.3 390.5,297.8 391.5,298.2 392.5,298.7 393.5,299.1 394.5,299.6 395.5,300.0 396.5,300.3 397.5,300.7 398.5,301.0 399.5,301.3 400.5,301.6 401.5,301.8 402.5,302.0 403.5,302.2 404.5,302.4 405.5,302.5 406.5,302.6 407.5,302.7 408.5,302.8" fill="none" stroke="#7aaee4" stroke-width="1.1"/>
<path d="M300.5,303.2 333.8,303.1 335.8,303.1 337.8,303.1 339.8,303.1 341.8,303.1 343.8,303.1 345.8,303.1 347.8,303.1 349.8,303.1 351.8,303.1 353.8,303.1 355.8,303.1 357.8,303.1 359.8,303.1 361.8,303.0 363.8,303.0 365.8,303.0 367.8,303.0 369.8,303.0 371.8,303.0 373.8,302.9 375.8,302.9 377.8,302.9 379.8,302.9 380.8,302.8 381.8,302.8 382.8,302.8 383.8,302.8 384.8,302.7 385.8,302.7 386.8,302.7 387.8,302.6 388.8,302.6 389.8,302.5 390.8,302.5 391.8,302.4 392.8,302.3 393.8,302.2 394.8,302.1 395.8,302.0 396.8,301.8 397.8,301.5 398.8,301.2 399.8,300.8 400.8,300.2 401.8,299.5 402.8,298.5 403.8,297.4 404.8,296.0 405.8,294.3 406.8,292.4 407.8,290.3 408.8,288.1 409.8,286.0 410.8,284.0 411.8,282.3 412.8,281.2 413.8,280.8 414.8,281.2 415.8,282.3 416.8,284.0 417.8,286.0 418.8,288.1 419.8,290.3 420.8,292.4 421.8,294.3 422.8,296.0 423.8,297.4 424.8,298.5 425.8,299.5 426.8,300.2 427.8,300.8 428.8,301.2 429.8,301.5 430.8,301.8 431.8,302.0 432.8,302.1 433.8,302.2 434.8,302.3 435.8,302.4 436.8,302.5 437.8,302.5 438.8,302.6 439.8,302.6 440.8,302.7 441.8,302.7 442.8,302.7 443.8,302.8 444.8,302.8 445.8,302.8 446.8,302.8 447.8,302.9 449.8,302.9 451.8,302.9 453.8,302.9 455.8,303.0 457.8,303.0 459.8,303.0 461.8,303.0 463.8,303.0 465.8,303.0 467.8,303.1 469.8,303.1 471.8,303.1 473.8,303.1 475.8,303.1 477.8,303.1 479.8,303.1 481.8,303.1 483.8,303.1 485.8,303.1 487.8,303.1 489.8,303.1 491.8,303.1 493.8,303.1 540.8,303.2 Z" fill="url(#g15)"/>
<path d="M380.8,302.8 381.8,302.8 382.8,302.8 383.8,302.8 384.8,302.7 385.8,302.7 386.8,302.7 387.8,302.6 388.8,302.6 389.8,302.5 390.8,302.5 391.8,302.4 392.8,302.3 393.8,302.2 394.8,302.1 395.8,302.0 396.8,301.8 397.8,301.5 398.8,301.2 399.8,300.8 400.8,300.2 401.8,299.5 402.8,298.5 403.8,297.4 404.8,296.0 405.8,294.3 406.8,292.4 407.8,290.3 408.8,288.1 409.8,286.0 410.8,284.0 411.8,282.3 412.8,281.2 413.8,280.8 414.8,281.2 415.8,282.3 416.8,284.0 417.8,286.0 418.8,288.1 419.8,290.3 420.8,292.4 421.8,294.3 422.8,296.0 423.8,297.4 424.8,298.5 425.8,299.5 426.8,300.2 427.8,300.8 428.8,301.2 429.8,301.5 430.8,301.8 431.8,302.0 432.8,302.1 433.8,302.2 434.8,302.3 435.8,302.4 436.8,302.5 437.8,302.5 438.8,302.6 439.8,302.6 440.8,302.7 441.8,302.7 442.8,302.7 443.8,302.8 444.8,302.8 445.8,302.8 446.8,302.8" fill="none" stroke="#e8368a" stroke-width="1.1"/>
<path d="M300.5,303.2 364.7,303.1 366.7,303.1 368.7,303.1 370.7,303.1 372.7,303.1 374.7,303.1 376.7,303.1 378.7,303.0 380.7,303.0 382.7,303.0 384.7,303.0 386.7,303.0 388.7,303.0 390.7,302.9 392.7,302.9 394.7,302.9 396.7,302.8 398.7,302.8 400.7,302.7 402.7,302.7 403.7,302.6 404.7,302.6 405.7,302.5 406.7,302.5 407.7,302.4 408.7,302.3 409.7,302.2 410.7,302.1 411.7,302.0 412.7,301.8 413.7,301.6 414.7,301.3 415.7,300.8 416.7,300.2 417.7,299.3 418.7,298.0 419.7,296.2 420.7,293.8 421.7,290.8 422.7,287.1 423.7,282.8 424.7,278.2 425.7,273.6 426.7,269.7 427.7,266.9 428.7,265.9 429.7,266.9 430.7,269.7 431.7,273.6 432.7,278.2 433.7,282.8 434.7,287.1 435.7,290.8 436.7,293.8 437.7,296.2 438.7,298.0 439.7,299.3 440.7,300.2 441.7,300.8 442.7,301.3 443.7,301.6 444.7,301.8 445.7,302.0 446.7,302.1 447.7,302.2 448.7,302.3 449.7,302.4 450.7,302.5 451.7,302.5 452.7,302.6 453.7,302.6 454.7,302.7 456.7,302.7 458.7,302.8 460.7,302.8 462.7,302.9 464.7,302.9 466.7,302.9 468.7,303.0 470.7,303.0 472.7,303.0 474.7,303.0 476.7,303.0 478.7,303.0 480.7,303.1 482.7,303.1 484.7,303.1 486.7,303.1 488.7,303.1 490.7,303.1 492.7,303.1 540.8,303.2 Z" fill="url(#g16)"/>
<path d="M396.7,302.8 398.7,302.8 400.7,302.7 402.7,302.7 403.7,302.6 404.7,302.6 405.7,302.5 406.7,302.5 407.7,302.4 408.7,302.3 409.7,302.2 410.7,302.1 411.7,302.0 412.7,301.8 413.7,301.6 414.7,301.3 415.7,300.8 416.7,300.2 417.7,299.3 418.7,298.0 419.7,296.2 420.7,293.8 421.7,290.8 422.7,287.1 423.7,282.8 424.7,278.2 425.7,273.6 426.7,269.7 427.7,266.9 428.7,265.9 429.7,266.9 430.7,269.7 431.7,273.6 432.7,278.2 433.7,282.8 434.7,287.1 435.7,290.8 436.7,293.8 437.7,296.2 438.7,298.0 439.7,299.3 440.7,300.2 441.7,300.8 442.7,301.3 443.7,301.6 444.7,301.8 445.7,302.0 446.7,302.1 447.7,302.2 448.7,302.3 449.7,302.4 450.7,302.5 451.7,302.5 452.7,302.6 453.7,302.6 454.7,302.7 456.7,302.7 458.7,302.8 460.7,302.8" fill="none" stroke="#f0b467" stroke-width="1.1"/>
<path d="M300.5,303.2 338.3,303.2 340.3,303.2 342.3,303.2 344.3,303.2 346.3,303.2 348.3,303.2 350.3,303.2 352.3,303.2 354.3,303.2 356.3,303.2 358.3,303.2 360.3,303.2 362.3,303.2 364.3,303.2 366.3,303.2 368.3,303.2 370.3,303.2 372.3,303.2 374.3,303.2 376.3,303.2 378.3,303.2 380.3,303.2 382.3,303.2 384.3,303.2 386.3,303.2 388.3,303.2 390.3,303.2 392.3,303.2 394.3,303.2 396.3,303.2 398.3,303.2 400.3,303.2 402.3,303.2 404.3,303.2 406.3,303.2 408.3,303.2 410.3,303.2 412.3,303.2 414.3,303.2 416.3,303.2 418.3,303.2 420.3,303.2 422.3,303.2 423.3,303.2 424.3,303.2 425.3,303.2 426.3,303.2 427.3,303.2 428.3,303.2 429.3,303.2 430.3,303.2 431.3,303.2 432.3,303.2 433.3,303.2 434.3,303.2 435.3,303.2 436.3,303.2 437.3,303.1 438.3,303.1 439.3,303.1 440.3,303.1 441.3,303.1 442.3,303.1 443.3,303.1 444.3,303.1 445.3,303.1 446.3,303.1 447.3,303.1 448.3,303.1 449.3,303.0 450.3,303.0 451.3,303.0 452.3,302.9 453.3,302.8 454.3,302.8 455.3,302.6 456.3,302.5 457.3,302.4 458.3,302.2 459.3,301.9 460.3,301.6 461.3,301.3 462.3,300.9 463.3,300.5 464.3,300.0 465.3,299.4 466.3,298.7 467.3,298.0 468.3,297.3 469.3,296.5 470.3,295.6 471.3,294.8 472.3,293.9 473.3,293.0 474.3,292.1 475.3,291.3 476.3,290.5 477.3,289.8 478.3,289.2 479.3,288.8 480.3,288.4 481.3,288.2 482.3,288.1 483.3,288.2 484.3,288.4 485.3,288.8 486.3,289.2 487.3,289.8 488.3,290.5 489.3,291.3 490.3,292.1 491.3,293.0 492.3,293.9 493.3,294.8 494.3,295.6 495.3,296.5 496.3,297.3 497.3,298.0 498.3,298.7 499.3,299.4 500.3,300.0 501.3,300.5 502.3,300.9 503.3,301.3 504.3,301.6 505.3,301.9 506.3,302.2 507.3,302.4 508.3,302.5 509.3,302.6 510.3,302.8 511.3,302.8 512.3,302.9 513.3,303.0 514.3,303.0 515.3,303.0 516.3,303.1 517.3,303.1 518.3,303.1 519.3,303.1 520.3,303.1 521.3,303.1 522.3,303.1 523.3,303.1 524.3,303.1 525.3,303.1 526.3,303.1 527.3,303.1 528.3,303.2 529.3,303.2 530.3,303.2 531.3,303.2 532.3,303.2 533.3,303.2 534.3,303.2 535.3,303.2 536.3,303.2 537.3,303.2 538.3,303.2 539.3,303.2 540.3,303.2 540.8,303.2 Z" fill="url(#g17)"/>
<path d="M453.3,302.8 454.3,302.8 455.3,302.6 456.3,302.5 457.3,302.4 458.3,302.2 459.3,301.9 460.3,301.6 461.3,301.3 462.3,300.9 463.3,300.5 464.3,300.0 465.3,299.4 466.3,298.7 467.3,298.0 468.3,297.3 469.3,296.5 470.3,295.6 471.3,294.8 472.3,293.9 473.3,293.0 474.3,292.1 475.3,291.3 476.3,290.5 477.3,289.8 478.3,289.2 479.3,288.8 480.3,288.4 481.3,288.2 482.3,288.1 483.3,288.2 484.3,288.4 485.3,288.8 486.3,289.2 487.3,289.8 488.3,290.5 489.3,291.3 490.3,292.1 491.3,293.0 492.3,293.9 493.3,294.8 494.3,295.6 495.3,296.5 496.3,297.3 497.3,298.0 498.3,298.7 499.3,299.4 500.3,300.0 501.3,300.5 502.3,300.9 503.3,301.3 504.3,301.6 505.3,301.9 506.3,302.2 507.3,302.4 508.3,302.5 509.3,302.6 510.3,302.8 511.3,302.8" fill="none" stroke="#2ea650" stroke-width="1.1"/>
<path d="M300.5,303.2 414.0,303.2 416.0,303.2 418.0,303.2 420.0,303.2 422.0,303.2 424.0,303.2 426.0,303.2 428.0,303.2 430.0,303.2 432.0,303.2 434.0,303.2 436.0,303.2 438.0,303.2 440.0,303.2 442.0,303.2 444.0,303.2 446.0,303.1 448.0,303.1 450.0,303.1 452.0,303.1 454.0,303.1 456.0,303.1 458.0,303.1 460.0,303.1 462.0,303.1 464.0,303.1 466.0,303.1 468.0,303.1 470.0,303.1 471.0,303.1 472.0,303.1 473.0,303.1 474.0,303.0 475.0,303.0 476.0,303.0 477.0,303.0 478.0,303.0 479.0,303.0 480.0,303.0 481.0,303.0 482.0,302.9 483.0,302.9 484.0,302.9 485.0,302.9 486.0,302.8 487.0,302.8 488.0,302.7 489.0,302.5 490.0,302.4 491.0,302.1 492.0,301.8 493.0,301.3 494.0,300.7 495.0,299.9 496.0,298.9 497.0,297.6 498.0,296.1 499.0,294.2 500.0,292.0 501.0,289.6 502.0,286.9 503.0,284.2 504.0,281.3 505.0,278.6 506.0,276.0 507.0,273.8 508.0,272.1 509.0,271.1 510.0,270.7 511.0,271.1 512.0,272.1 513.0,273.8 514.0,276.0 515.0,278.6 516.0,281.3 517.0,284.2 518.0,286.9 519.0,289.6 520.0,292.0 521.0,294.2 522.0,296.1 523.0,297.6 524.0,298.9 525.0,299.9 526.0,300.7 527.0,301.3 528.0,301.8 529.0,302.1 530.0,302.4 531.0,302.5 532.0,302.7 533.0,302.8 534.0,302.8 535.0,302.9 536.0,302.9 537.0,302.9 538.0,302.9 539.0,303.0 540.0,303.0 540.8,303.0 Z" fill="url(#g18)" stroke="#4f4f4f" stroke-width="1.1"/>
<path d="M300.5,388.5 300.9,388.5 301.0,388.5 302.9,388.4 303.0,388.4 304.0,388.4 304.9,388.3 305.0,388.3 306.0,388.3 306.9,388.2 307.0,388.2 308.0,388.1 308.9,388.1 309.0,388.0 310.0,388.0 310.9,387.9 311.0,387.8 312.0,387.7 312.9,387.6 313.0,387.6 314.0,387.4 314.9,387.2 315.0,387.1 316.0,386.8 316.9,386.4 317.0,386.3 318.0,385.6 318.9,384.7 319.0,384.6 320.0,383.2 320.9,381.4 321.0,381.2 322.0,378.5 322.9,375.5 323.0,375.1 324.0,370.8 324.9,366.4 325.0,365.8 326.0,360.2 326.9,355.0 327.0,354.4 328.0,348.7 328.9,344.4 329.0,343.9 330.0,340.7 330.1,340.4 330.9,339.5 331.0,339.5 332.0,340.6 332.1,340.9 332.9,343.5 333.0,343.9 334.0,348.7 334.1,349.2 334.9,353.7 335.0,354.3 336.0,360.1 336.1,360.6 336.9,365.1 337.0,365.6 338.0,370.6 338.1,371.1 338.9,374.4 339.0,374.8 339.9,377.9 340.0,378.2 340.1,378.5 340.9,380.6 341.0,380.8 341.9,382.6 342.0,382.8 342.1,382.9 342.9,384.0 343.0,384.2 343.9,385.0 344.0,385.1 344.1,385.2 344.9,385.7 345.0,385.8 345.9,386.2 346.0,386.2 346.1,386.3 346.9,386.5 347.0,386.5 347.9,386.7 348.0,386.7 348.1,386.7 348.9,386.8 349.0,386.8 349.9,386.9 350.0,386.9 350.1,386.9 350.9,387.0 351.0,387.0 351.9,387.0 352.0,387.0 352.1,387.0 352.9,387.0 353.0,387.0 353.5,387.0 353.9,387.0 354.0,387.0 354.1,387.0 354.9,387.0 355.0,387.0 355.5,387.0 355.9,386.9 356.0,386.9 356.1,386.9 356.9,386.9 357.0,386.9 357.5,386.8 357.9,386.8 358.0,386.8 358.1,386.8 358.9,386.7 359.0,386.7 359.5,386.6 359.9,386.6 360.0,386.5 360.1,386.5 360.9,386.4 361.0,386.4 361.5,386.3 361.9,386.2 362.0,386.2 362.1,386.1 362.9,386.0 363.0,385.9 363.5,385.8 363.9,385.7 364.0,385.6 364.1,385.6 364.9,385.3 365.0,385.3 365.5,385.1 365.9,384.9 366.0,384.9 366.1,384.8 366.9,384.4 367.0,384.4 367.5,384.1 367.9,383.8 368.0,383.8 368.1,383.7 368.9,383.2 369.0,383.1 369.5,382.7 369.9,382.4 370.0,382.3 370.1,382.2 370.9,381.5 371.0,381.4 371.5,380.8 371.9,380.4 372.0,380.3 372.1,380.2 372.9,379.3 373.0,379.1 373.5,378.5 373.9,378.0 374.0,377.8 374.1,377.7 374.9,376.6 375.0,376.4 375.5,375.7 375.9,375.2 376.0,375.0 376.1,374.9 376.9,373.7 377.0,373.6 377.5,372.9 377.9,372.4 378.0,372.3 378.1,372.2 378.9,371.4 379.0,371.3 379.5,370.9 379.9,370.6 380.0,370.6 380.1,370.5 380.9,370.4 381.0,370.4 381.1,370.4 381.5,370.4 381.9,370.6 382.0,370.6 382.1,370.7 382.9,371.2 383.0,371.3 383.1,371.4 383.5,371.7 383.9,372.1 384.0,372.2 384.1,372.4 384.9,373.3 385.0,373.4 385.1,373.5 385.5,374.0 385.9,374.4 386.0,374.5 386.1,374.6 386.9,375.5 387.0,375.6 387.1,375.7 387.5,376.0 387.9,376.4 388.0,376.4 388.1,376.5 388.9,377.0 389.0,377.0 389.1,377.1 389.5,377.2 389.9,377.3 390.0,377.4 390.1,377.4 390.9,377.4 391.0,377.4 391.1,377.4 391.5,377.3 391.9,377.1 392.0,377.1 392.1,377.1 392.9,376.6 393.0,376.6 393.1,376.5 393.5,376.2 393.9,375.9 394.0,375.8 394.1,375.7 394.9,375.0 395.0,374.9 395.1,374.8 395.5,374.4 395.9,374.1 396.0,374.0 396.1,373.9 396.9,373.1 397.0,373.0 397.1,372.9 397.5,372.5 397.9,372.1 398.0,372.0 398.1,371.9 398.9,371.2 399.0,371.1 399.1,371.0 399.5,370.7 399.9,370.3 400.0,370.2 400.1,370.1 400.9,369.4 401.0,369.3 401.1,369.2 401.5,368.8 401.9,368.4 402.0,368.3 402.1,368.2 402.9,367.2 403.0,367.0 403.1,366.9 403.5,366.3 403.9,365.6 404.0,365.4 404.1,365.3 404.9,363.6 405.0,363.4 405.1,363.2 405.5,362.2 405.9,361.1 406.0,360.9 406.1,360.6 406.9,358.2 407.0,357.9 407.1,357.6 407.5,356.2 407.9,354.9 408.0,354.5 408.1,354.2 408.9,351.3 409.0,351.0 409.1,350.6 409.5,349.1 409.9,347.7 410.0,347.3 410.1,347.0 410.9,344.1 411.0,343.7 411.1,343.3 411.5,341.9 411.9,340.5 412.0,340.1 412.1,339.8 412.9,337.4 413.0,337.2 413.1,336.9 413.5,336.1 413.9,335.7 414.0,335.6 414.1,335.6 414.9,336.1 415.0,336.3 415.1,336.4 415.5,337.3 415.9,338.5 416.0,338.8 416.1,339.1 416.9,341.6 417.0,341.9 417.1,342.2 417.5,343.4 417.9,344.5 418.0,344.8 418.1,345.0 418.9,346.7 419.0,346.9 419.1,347.1 419.5,347.6 419.9,347.9 420.0,348.0 420.1,348.0 420.9,347.8 421.0,347.7 421.1,347.6 421.5,347.1 421.9,346.3 422.0,346.0 422.1,345.8 422.7,344.0 422.9,343.3 423.0,342.9 423.1,342.5 423.5,340.8 424.0,338.4 424.1,337.8 424.7,334.5 424.9,333.4 425.0,332.8 425.1,332.2 425.5,330.0 426.0,327.4 426.1,327.0 426.7,324.9 426.9,324.4 427.0,324.3 427.1,324.1 427.5,324.0 428.0,324.7 428.1,324.9 428.5,326.1 428.7,326.9 428.9,327.7 429.0,328.1 429.1,328.6 429.5,330.5 430.0,333.1 430.1,333.7 430.5,335.9 430.7,337.1 430.9,338.3 431.0,338.9 431.1,339.5 431.5,342.1 432.0,345.3 432.1,346.0 432.5,348.7 432.7,350.1 432.9,351.5 433.0,352.2 433.1,352.8 433.5,355.6 434.0,359.0 434.1,359.7 434.5,362.3 434.7,363.6 434.9,364.8 435.0,365.5 435.1,366.1 435.5,368.4 436.0,371.2 436.1,371.7 436.5,373.7 436.7,374.6 436.9,375.5 437.0,376.0 437.1,376.4 437.5,378.0 438.0,379.8 438.1,380.1 438.5,381.3 438.7,381.9 438.9,382.4 439.0,382.6 439.1,382.9 439.5,383.8 440.0,384.7 440.1,384.9 440.5,385.5 440.7,385.8 440.9,386.0 441.0,386.1 441.1,386.3 441.5,386.7 442.0,387.1 442.1,387.1 442.5,387.4 442.7,387.5 442.9,387.6 443.0,387.7 443.1,387.7 443.5,387.8 444.0,388.0 444.1,388.0 444.5,388.1 444.7,388.1 444.9,388.2 445.0,388.2 445.1,388.2 445.5,388.2 446.0,388.3 446.1,388.3 446.5,388.3 446.7,388.3 446.9,388.3 447.0,388.3 447.1,388.3 447.5,388.3 448.0,388.3 448.1,388.3 448.5,388.3 448.7,388.3 448.9,388.3 449.0,388.3 449.1,388.3 449.5,388.3 450.0,388.2 450.1,388.2 450.5,388.2 450.7,388.2 450.9,388.2 451.0,388.2 451.1,388.2 451.5,388.1 452.0,388.1 452.1,388.1 452.5,388.0 452.7,388.0 452.9,388.0 453.1,388.0 453.5,387.9 454.0,387.8 454.1,387.8 454.5,387.8 454.7,387.7 454.9,387.7 455.1,387.7 455.5,387.6 456.0,387.5 456.1,387.4 456.5,387.3 456.7,387.3 456.9,387.2 457.1,387.2 457.5,387.1 458.0,386.9 458.1,386.9 458.5,386.7 458.7,386.6 458.9,386.5 459.5,386.3 460.0,386.0 460.1,386.0 460.5,385.7 460.7,385.6 460.9,385.5 461.0,385.4 461.5,385.1 462.0,384.8 462.1,384.7 462.5,384.4 462.7,384.2 462.9,384.1 463.0,384.0 463.5,383.5 464.0,383.1 464.1,383.0 464.5,382.6 464.7,382.4 464.9,382.1 465.0,382.0 465.5,381.5 466.0,380.9 466.1,380.8 466.5,380.3 466.7,380.0 466.9,379.7 467.0,379.6 467.5,378.9 468.0,378.2 468.1,378.1 468.5,377.5 468.7,377.2 468.9,376.9 469.0,376.7 469.5,376.0 470.0,375.2 470.1,375.0 470.5,374.4 470.7,374.1 470.9,373.8 471.0,373.6 471.5,372.8 472.0,372.0 472.1,371.9 472.5,371.2 472.7,370.9 472.9,370.6 473.0,370.4 473.5,369.7 473.7,369.4 474.0,368.9 474.1,368.8 474.5,368.2 474.7,368.0 474.9,367.7 475.0,367.6 475.5,366.9 475.7,366.7 476.0,366.4 476.1,366.2 476.5,365.8 476.7,365.6 476.9,365.4 477.0,365.3 477.5,364.9 477.7,364.8 478.0,364.5 478.1,364.5 478.5,364.2 478.7,364.1 478.9,364.0 479.0,364.0 479.5,363.8 479.7,363.7 480.0,363.7 480.1,363.7 480.5,363.6 480.7,363.6 481.0,363.6 481.5,363.6 481.7,363.6 482.0,363.6 482.1,363.6 482.5,363.7 482.7,363.8 483.0,363.8 483.5,363.9 483.7,364.0 484.0,364.0 484.1,364.1 484.4,364.1 484.5,364.2 484.7,364.2 485.0,364.3 485.5,364.4 485.7,364.4 486.0,364.5 486.1,364.5 486.4,364.5 486.5,364.5 486.7,364.5 487.0,364.6 487.5,364.6 487.7,364.6 488.0,364.6 488.1,364.6 488.4,364.6 488.5,364.6 488.7,364.6 489.0,364.6 489.5,364.5 489.7,364.5 490.0,364.5 490.1,364.5 490.4,364.4 490.5,364.4 490.7,364.4 491.0,364.4 491.5,364.3 491.7,364.3 492.0,364.3 492.1,364.2 492.4,364.2 492.5,364.2 492.7,364.2 493.0,364.1 493.5,364.0 493.7,364.0 494.0,363.9 494.1,363.9 494.4,363.8 494.5,363.7 494.7,363.7 495.0,363.5 495.5,363.3 495.7,363.1 496.0,362.9 496.1,362.8 496.4,362.6 496.5,362.5 496.7,362.3 497.0,361.9 497.5,361.2 497.7,360.9 498.0,360.4 498.1,360.2 498.4,359.6 498.5,359.4 498.7,359.0 499.0,358.3 499.4,357.2 499.5,357.0 499.7,356.4 500.0,355.5 500.1,355.2 500.4,354.2 500.5,353.8 500.7,353.1 501.0,352.0 501.4,350.4 501.5,350.0 501.7,349.2 502.0,348.0 502.4,346.2 502.5,345.8 502.7,344.9 503.0,343.5 503.4,341.7 503.5,341.2 503.7,340.3 504.0,338.9 504.4,337.0 504.5,336.5 504.7,335.6 505.0,334.2 505.4,332.4 505.5,332.0 505.7,331.1 506.0,329.8 506.4,328.2 506.5,327.8 506.7,327.0 507.0,326.0 507.4,324.9 507.5,324.6 507.7,324.2 508.0,323.7 508.4,323.5 508.5,323.5 508.7,323.6 509.0,323.9 509.4,324.6 509.5,324.9 509.7,325.4 510.0,326.4 510.4,327.8 510.5,328.2 510.7,329.1 511.0,330.4 511.4,332.3 511.5,332.8 511.7,333.8 512.0,335.3 512.4,337.4 512.5,338.0 512.7,339.1 513.0,340.7 513.4,343.0 513.5,343.6 513.7,344.8 514.0,346.6 514.4,348.9 514.5,349.5 514.7,350.7 515.0,352.5 515.4,354.9 515.5,355.5 515.7,356.6 516.0,358.4 516.4,360.6 516.5,361.2 516.7,362.3 517.0,363.9 517.4,365.9 517.5,366.4 517.7,367.4 518.0,368.8 518.4,370.6 518.5,371.1 518.7,371.9 519.0,373.2 519.5,375.1 519.7,375.8 520.0,376.8 520.4,378.1 520.5,378.4 520.7,378.9 521.0,379.8 521.5,381.0 521.7,381.5 522.0,382.1 522.4,382.9 522.5,383.1 522.7,383.4 523.0,383.9 523.5,384.6 523.7,384.9 524.0,385.2 524.4,385.7 524.5,385.8 524.7,386.0 525.0,386.2 525.5,386.6 525.7,386.7 526.0,386.9 526.4,387.1 526.5,387.2 526.7,387.3 527.0,387.4 527.5,387.6 527.7,387.7 528.0,387.8 528.4,387.9 528.5,387.9 528.7,387.9 529.5,388.1 529.7,388.1 530.0,388.2 530.4,388.2 530.5,388.2 530.7,388.3 531.5,388.3 531.7,388.3 532.0,388.4 532.4,388.4 532.7,388.4 533.5,388.5 533.7,388.5 534.0,388.5 534.7,388.5 535.5,388.6 535.7,388.6 536.0,388.6 536.7,388.6 537.5,388.6 537.7,388.6 538.0,388.6 538.7,388.7 539.5,388.7 539.7,388.7 540.0,388.7 540.7,388.7 540.8,388.7" fill="none" stroke="#b0b0b0" stroke-width="1.1"/>
<path d="M300.5,388.7 301.0,388.7 303.0,388.6 304.0,388.6 305.0,388.5 306.0,388.5 307.0,388.4 308.0,388.3 309.0,388.3 310.0,388.2 311.0,388.1 312.0,388.0 313.0,387.8 314.0,387.6 315.0,387.4 316.0,387.0 317.0,386.6 318.0,385.9 319.0,384.9 320.0,383.5 321.0,381.5 322.0,378.8 323.0,375.4 324.0,371.2 325.0,366.2 326.0,360.6 327.0,354.8 328.0,349.1 329.0,344.3 330.0,341.1 331.0,339.9 332.0,341.1 333.0,344.3 334.0,349.1 335.0,354.8 336.0,360.6 337.0,366.2 338.0,371.2 339.0,375.4 340.0,378.8 341.0,381.5 342.0,383.5 343.0,384.9 344.0,385.9 345.0,386.6 346.0,387.0 347.0,387.4 348.0,387.6 349.0,387.8 350.0,388.0 351.0,388.1 352.0,388.2 353.0,388.3 354.0,388.3 355.0,388.4 356.0,388.5 357.0,388.5 358.0,388.6 359.0,388.6 361.0,388.7 363.0,388.7 365.0,388.8 367.0,388.8 369.0,388.9 371.0,388.9 373.0,388.9 375.0,389.0 377.0,389.0 379.0,389.0 381.0,389.0 383.0,389.0 385.0,389.0 387.0,389.0 389.0,389.1 391.0,389.1 393.0,389.1 395.0,389.1 397.0,389.1 399.0,389.1 540.8,389.2 Z" fill="url(#g19)"/>
<path d="M300.5,388.7 301.0,388.7 303.0,388.6 304.0,388.6 305.0,388.5 306.0,388.5 307.0,388.4 308.0,388.3 309.0,388.3 310.0,388.2 311.0,388.1 312.0,388.0 313.0,387.8 314.0,387.6 315.0,387.4 316.0,387.0 317.0,386.6 318.0,385.9 319.0,384.9 320.0,383.5 321.0,381.5 322.0,378.8 323.0,375.4 324.0,371.2 325.0,366.2 326.0,360.6 327.0,354.8 328.0,349.1 329.0,344.3 330.0,341.1 331.0,339.9 332.0,341.1 333.0,344.3 334.0,349.1 335.0,354.8 336.0,360.6 337.0,366.2 338.0,371.2 339.0,375.4 340.0,378.8 341.0,381.5 342.0,383.5 343.0,384.9 344.0,385.9 345.0,386.6 346.0,387.0 347.0,387.4 348.0,387.6 349.0,387.8 350.0,388.0 351.0,388.1 352.0,388.2 353.0,388.3 354.0,388.3 355.0,388.4 356.0,388.5 357.0,388.5 358.0,388.6 359.0,388.6 361.0,388.7 363.0,388.7 365.0,388.8 367.0,388.8" fill="none" stroke="#d5344e" stroke-width="1.1"/>
<path d="M300.5,389.0 300.9,389.0 302.9,389.0 304.9,389.0 306.9,389.0 308.9,389.0 310.9,389.0 312.9,389.0 314.9,389.0 316.9,389.0 318.9,388.9 320.9,388.9 322.9,388.9 324.9,388.9 326.9,388.9 328.9,388.8 330.9,388.8 332.9,388.8 334.9,388.7 336.9,388.7 338.9,388.6 339.9,388.6 340.9,388.6 341.9,388.6 342.9,388.5 343.9,388.5 344.9,388.5 345.9,388.4 346.9,388.4 347.9,388.3 348.9,388.3 349.9,388.2 350.9,388.1 351.9,388.1 352.9,388.0 353.9,387.9 354.9,387.8 355.9,387.7 356.9,387.6 357.9,387.5 358.9,387.3 359.9,387.2 360.9,387.0 361.9,386.7 362.9,386.5 363.9,386.1 364.9,385.8 365.9,385.3 366.9,384.8 367.9,384.2 368.9,383.5 369.9,382.7 370.9,381.8 371.9,380.8 372.9,379.6 373.9,378.3 374.9,376.9 375.9,375.5 376.9,374.0 377.9,372.7 378.9,371.7 379.9,370.9 380.9,370.7 381.9,370.9 382.9,371.7 383.9,372.7 384.9,374.0 385.9,375.5 386.9,376.9 387.9,378.3 388.9,379.6 389.9,380.8 390.9,381.8 391.9,382.7 392.9,383.5 393.9,384.2 394.9,384.8 395.9,385.3 396.9,385.8 397.9,386.1 398.9,386.5 399.9,386.7 400.9,387.0 401.9,387.2 402.9,387.3 403.9,387.5 404.9,387.6 405.9,387.7 406.9,387.8 407.9,387.9 408.9,388.0 409.9,388.1 410.9,388.1 411.9,388.2 412.9,388.3 413.9,388.3 414.9,388.4 415.9,388.4 416.9,388.5 417.9,388.5 418.9,388.5 419.9,388.6 420.9,388.6 421.9,388.6 422.9,388.6 424.9,388.7 426.9,388.7 428.9,388.8 430.9,388.8 432.9,388.8 434.9,388.9 436.9,388.9 438.9,388.9 440.9,388.9 442.9,388.9 444.9,389.0 446.9,389.0 448.9,389.0 450.9,389.0 452.9,389.0 454.9,389.0 456.9,389.0 458.9,389.0 460.9,389.0 462.9,389.0 464.9,389.1 466.9,389.1 468.9,389.1 470.9,389.1 472.9,389.1 474.9,389.1 476.9,389.1 478.9,389.1 540.8,389.2 Z" fill="url(#g20)"/>
<path d="M328.9,388.8 330.9,388.8 332.9,388.8 334.9,388.7 336.9,388.7 338.9,388.6 339.9,388.6 340.9,388.6 341.9,388.6 342.9,388.5 343.9,388.5 344.9,388.5 345.9,388.4 346.9,388.4 347.9,388.3 348.9,388.3 349.9,388.2 350.9,388.1 351.9,388.1 352.9,388.0 353.9,387.9 354.9,387.8 355.9,387.7 356.9,387.6 357.9,387.5 358.9,387.3 359.9,387.2 360.9,387.0 361.9,386.7 362.9,386.5 363.9,386.1 364.9,385.8 365.9,385.3 366.9,384.8 367.9,384.2 368.9,383.5 369.9,382.7 370.9,381.8 371.9,380.8 372.9,379.6 373.9,378.3 374.9,376.9 375.9,375.5 376.9,374.0 377.9,372.7 378.9,371.7 379.9,370.9 380.9,370.7 381.9,370.9 382.9,371.7 383.9,372.7 384.9,374.0 385.9,375.5 386.9,376.9 387.9,378.3 388.9,379.6 389.9,380.8 390.9,381.8 391.9,382.7 392.9,383.5 393.9,384.2 394.9,384.8 395.9,385.3 396.9,385.8 397.9,386.1 398.9,386.5 399.9,386.7 400.9,387.0 401.9,387.2 402.9,387.3 403.9,387.5 404.9,387.6 405.9,387.7 406.9,387.8 407.9,387.9 408.9,388.0 409.9,388.1 410.9,388.1 411.9,388.2 412.9,388.3 413.9,388.3 414.9,388.4 415.9,388.4 416.9,388.5 417.9,388.5 418.9,388.5 419.9,388.6 420.9,388.6 421.9,388.6 422.9,388.6 424.9,388.7 426.9,388.7 428.9,388.8 430.9,388.8 432.9,388.8" fill="none" stroke="#7aaee4" stroke-width="1.1"/>
<path d="M300.5,389.2 330.1,389.2 332.1,389.2 334.1,389.2 336.1,389.2 338.1,389.2 340.1,389.2 342.1,389.2 344.1,389.2 346.1,389.2 348.1,389.2 350.1,389.2 352.1,389.2 354.1,389.2 356.1,389.2 358.1,389.2 360.1,389.2 362.1,389.2 364.1,389.2 366.1,389.2 368.1,389.2 370.1,389.2 372.1,389.2 374.1,389.2 376.1,389.2 378.1,389.2 380.1,389.2 381.1,389.2 382.1,389.2 383.1,389.2 384.1,389.2 385.1,389.2 386.1,389.2 387.1,389.2 388.1,389.2 389.1,389.2 390.1,389.2 391.1,389.2 392.1,389.2 393.1,389.1 394.1,389.0 395.1,388.9 396.1,388.7 397.1,388.4 398.1,387.9 399.1,387.3 400.1,386.3 401.1,384.9 402.1,383.1 403.1,380.7 404.1,377.8 405.1,374.3 406.1,370.2 407.1,365.8 408.1,361.0 409.1,356.3 410.1,351.8 411.1,347.9 412.1,344.9 413.1,343.0 414.1,342.3 415.1,343.2 416.1,345.8 417.1,349.8 418.1,354.7 419.1,360.2 420.1,365.8 421.1,370.9 422.1,375.5 423.1,379.3 424.1,382.4 425.1,384.6 426.1,386.3 427.1,387.4 428.1,388.1 429.1,388.6 430.1,388.9 431.1,389.0 432.1,389.1 433.1,389.2 434.1,389.2 435.1,389.2 436.1,389.2 437.1,389.2 438.1,389.2 439.1,389.2 440.1,389.2 441.1,389.2 442.1,389.2 443.1,389.2 444.1,389.2 445.1,389.2 446.1,389.2 447.1,389.2 448.1,389.2 450.1,389.2 452.1,389.2 454.1,389.2 456.1,389.2 458.1,389.2 460.1,389.2 462.1,389.2 464.1,389.2 466.1,389.2 468.1,389.2 470.1,389.2 472.1,389.2 474.1,389.2 476.1,389.2 478.1,389.2 480.1,389.2 482.1,389.2 484.1,389.2 486.1,389.2 488.1,389.2 490.1,389.2 492.1,389.2 494.1,389.2 496.1,389.2 498.1,389.2 540.8,389.2 Z" fill="url(#g21)"/>
<path d="M396.1,388.7 397.1,388.4 398.1,387.9 399.1,387.3 400.1,386.3 401.1,384.9 402.1,383.1 403.1,380.7 404.1,377.8 405.1,374.3 406.1,370.2 407.1,365.8 408.1,361.0 409.1,356.3 410.1,351.8 411.1,347.9 412.1,344.9 413.1,343.0 414.1,342.3 415.1,343.2 416.1,345.8 417.1,349.8 418.1,354.7 419.1,360.2 420.1,365.8 421.1,370.9 422.1,375.5 423.1,379.3 424.1,382.4 425.1,384.6 426.1,386.3 427.1,387.4 428.1,388.1 429.1,388.6" fill="none" stroke="#e8368a" stroke-width="1.1"/>
<path d="M300.5,389.2 356.1,389.2 358.1,389.2 360.1,389.2 362.1,389.2 364.1,389.2 366.1,389.2 368.1,389.2 370.1,389.2 372.1,389.2 374.1,389.2 376.1,389.2 378.1,389.2 380.1,389.2 382.1,389.2 384.1,389.2 386.1,389.2 388.1,389.2 390.1,389.2 392.1,389.2 394.1,389.2 396.1,389.2 398.1,389.2 399.1,389.2 400.1,389.2 401.1,389.2 402.1,389.2 403.1,389.2 404.1,389.2 405.1,389.2 406.1,389.2 407.1,389.2 408.1,389.2 409.1,389.1 410.1,389.1 411.1,389.0 412.1,388.8 413.1,388.4 414.1,387.9 415.1,387.0 416.1,385.6 417.1,383.6 418.1,380.8 419.1,377.1 420.1,372.4 421.1,366.8 422.1,360.4 423.1,353.6 424.1,346.9 425.1,340.8 426.1,335.9 427.1,332.7 428.1,331.6 429.1,332.7 430.1,335.9 431.1,340.8 432.1,346.9 433.1,353.6 434.1,360.4 435.1,366.8 436.1,372.4 437.1,377.1 438.1,380.8 439.1,383.6 440.1,385.6 441.1,387.0 442.1,387.9 443.1,388.4 444.1,388.8 445.1,389.0 446.1,389.1 447.1,389.1 448.1,389.2 449.1,389.2 450.1,389.2 451.1,389.2 452.1,389.2 453.1,389.2 454.1,389.2 455.1,389.2 456.1,389.2 457.1,389.2 458.1,389.2 460.1,389.2 462.1,389.2 464.1,389.2 466.1,389.2 468.1,389.2 470.1,389.2 472.1,389.2 474.1,389.2 476.1,389.2 478.1,389.2 480.1,389.2 482.1,389.2 484.1,389.2 486.1,389.2 488.1,389.2 490.1,389.2 492.1,389.2 494.1,389.2 496.1,389.2 498.1,389.2 500.1,389.2 540.8,389.2 Z" fill="url(#g22)"/>
<path d="M412.1,388.8 413.1,388.4 414.1,387.9 415.1,387.0 416.1,385.6 417.1,383.6 418.1,380.8 419.1,377.1 420.1,372.4 421.1,366.8 422.1,360.4 423.1,353.6 424.1,346.9 425.1,340.8 426.1,335.9 427.1,332.7 428.1,331.6 429.1,332.7 430.1,335.9 431.1,340.8 432.1,346.9 433.1,353.6 434.1,360.4 435.1,366.8 436.1,372.4 437.1,377.1 438.1,380.8 439.1,383.6 440.1,385.6 441.1,387.0 442.1,387.9 443.1,388.4 444.1,388.8" fill="none" stroke="#f0b467" stroke-width="1.1"/>
<path d="M300.5,389.2 353.5,389.2 355.5,389.2 357.5,389.2 359.5,389.2 361.5,389.2 363.5,389.2 365.5,389.2 367.5,389.2 369.5,389.2 371.5,389.2 373.5,389.2 375.5,389.2 377.5,389.1 379.5,389.1 381.5,389.1 383.5,389.1 385.5,389.1 387.5,389.1 389.5,389.1 391.5,389.1 393.5,389.1 395.5,389.1 397.5,389.1 399.5,389.1 401.5,389.1 403.5,389.1 405.5,389.1 407.5,389.1 409.5,389.1 411.5,389.1 413.5,389.1 415.5,389.1 417.5,389.1 419.5,389.1 421.5,389.0 423.5,389.0 425.5,389.0 427.5,389.0 428.5,389.0 429.5,389.0 430.5,389.0 431.5,389.0 432.5,389.0 433.5,389.0 434.5,389.0 435.5,388.9 436.5,388.9 437.5,388.9 438.5,388.9 439.5,388.9 440.5,388.9 441.5,388.9 442.5,388.8 443.5,388.8 444.5,388.8 445.5,388.8 446.5,388.7 447.5,388.7 448.5,388.7 449.5,388.6 450.5,388.5 451.5,388.5 452.5,388.4 453.5,388.2 454.5,388.1 455.5,387.9 456.5,387.7 457.5,387.4 458.5,387.0 459.5,386.6 460.5,386.1 461.5,385.4 462.5,384.7 463.5,383.9 464.5,382.9 465.5,381.8 466.5,380.6 467.5,379.3 468.5,377.8 469.5,376.3 470.5,374.8 471.5,373.2 472.5,371.6 473.5,370.1 474.5,368.7 475.5,367.5 476.5,366.4 477.5,365.7 478.5,365.2 479.5,365.0 480.5,365.2 481.5,365.7 482.5,366.4 483.5,367.5 484.5,368.7 485.5,370.1 486.5,371.6 487.5,373.2 488.5,374.8 489.5,376.3 490.5,377.8 491.5,379.3 492.5,380.6 493.5,381.8 494.5,382.9 495.5,383.9 496.5,384.7 497.5,385.4 498.5,386.1 499.5,386.6 500.5,387.0 501.5,387.4 502.5,387.7 503.5,387.9 504.5,388.1 505.5,388.2 506.5,388.4 507.5,388.5 508.5,388.5 509.5,388.6 510.5,388.7 511.5,388.7 512.5,388.7 513.5,388.8 514.5,388.8 515.5,388.8 516.5,388.8 517.5,388.9 518.5,388.9 519.5,388.9 520.5,388.9 521.5,388.9 522.5,388.9 523.5,388.9 524.5,389.0 525.5,389.0 526.5,389.0 527.5,389.0 528.5,389.0 529.5,389.0 530.5,389.0 531.5,389.0 533.5,389.0 535.5,389.0 537.5,389.0 539.5,389.1 540.8,389.1 Z" fill="url(#g23)"/>
<path d="M442.5,388.8 443.5,388.8 444.5,388.8 445.5,388.8 446.5,388.7 447.5,388.7 448.5,388.7 449.5,388.6 450.5,388.5 451.5,388.5 452.5,388.4 453.5,388.2 454.5,388.1 455.5,387.9 456.5,387.7 457.5,387.4 458.5,387.0 459.5,386.6 460.5,386.1 461.5,385.4 462.5,384.7 463.5,383.9 464.5,382.9 465.5,381.8 466.5,380.6 467.5,379.3 468.5,377.8 469.5,376.3 470.5,374.8 471.5,373.2 472.5,371.6 473.5,370.1 474.5,368.7 475.5,367.5 476.5,366.4 477.5,365.7 478.5,365.2 479.5,365.0 480.5,365.2 481.5,365.7 482.5,366.4 483.5,367.5 484.5,368.7 485.5,370.1 486.5,371.6 487.5,373.2 488.5,374.8 489.5,376.3 490.5,377.8 491.5,379.3 492.5,380.6 493.5,381.8 494.5,382.9 495.5,383.9 496.5,384.7 497.5,385.4 498.5,386.1 499.5,386.6 500.5,387.0 501.5,387.4 502.5,387.7 503.5,387.9 504.5,388.1 505.5,388.2 506.5,388.4 507.5,388.5 508.5,388.5 509.5,388.6 510.5,388.7 511.5,388.7 512.5,388.7 513.5,388.8 514.5,388.8 515.5,388.8 516.5,388.8" fill="none" stroke="#2ea650" stroke-width="1.1"/>
<path d="M300.5,389.2 422.7,389.2 424.7,389.2 426.7,389.2 428.7,389.2 430.7,389.1 432.7,389.1 434.7,389.1 436.7,389.1 438.7,389.1 440.7,389.1 442.7,389.1 444.7,389.1 446.7,389.1 448.7,389.1 450.7,389.1 452.7,389.1 454.7,389.1 456.7,389.1 458.7,389.1 460.7,389.1 462.7,389.1 464.7,389.0 466.7,389.0 468.7,389.0 470.7,389.0 472.7,389.0 473.7,388.9 474.7,388.9 475.7,388.9 476.7,388.9 477.7,388.9 478.7,388.9 479.7,388.8 480.7,388.8 481.7,388.8 482.7,388.8 483.7,388.7 484.7,388.7 485.7,388.6 486.7,388.5 487.7,388.4 488.7,388.2 489.7,387.9 490.7,387.6 491.7,387.0 492.7,386.3 493.7,385.2 494.7,383.7 495.7,381.8 496.7,379.3 497.7,376.2 498.7,372.3 499.7,367.8 500.7,362.7 501.7,357.1 502.7,351.2 503.7,345.4 504.7,339.8 505.7,335.0 506.7,331.2 507.7,328.7 508.7,327.9 509.7,328.7 510.7,331.2 511.7,335.0 512.7,339.8 513.7,345.4 514.7,351.2 515.7,357.1 516.7,362.7 517.7,367.8 518.7,372.3 519.7,376.2 520.7,379.3 521.7,381.8 522.7,383.7 523.7,385.2 524.7,386.3 525.7,387.0 526.7,387.6 527.7,387.9 528.7,388.2 529.7,388.4 530.7,388.5 531.7,388.6 532.7,388.7 533.7,388.7 534.7,388.8 535.7,388.8 536.7,388.8 537.7,388.8 538.7,388.9 539.7,388.9 540.7,388.9 540.8,388.9 Z" fill="url(#g24)" stroke="#4f4f4f" stroke-width="1.1"/>
<path d="M300.50,219.80 L540.80,219.80 L540.80,399.80 L300.50,399.80 Z" fill="none" stroke="#1e1e1e" stroke-width="1.6"/>
<line x1="311.00" y1="399.80" x2="311.00" y2="396.60" stroke="#1e1e1e" stroke-width="1.2"/>
<line x1="363.30" y1="399.80" x2="363.30" y2="396.60" stroke="#1e1e1e" stroke-width="1.2"/>
<line x1="415.60" y1="399.80" x2="415.60" y2="396.60" stroke="#1e1e1e" stroke-width="1.2"/>
<line x1="467.90" y1="399.80" x2="467.90" y2="396.60" stroke="#1e1e1e" stroke-width="1.2"/>
<line x1="520.20" y1="399.80" x2="520.20" y2="396.60" stroke="#1e1e1e" stroke-width="1.2"/>
<line x1="337.15" y1="399.80" x2="337.15" y2="397.60" stroke="#1e1e1e" stroke-width="1.1"/>
<line x1="389.45" y1="399.80" x2="389.45" y2="397.60" stroke="#1e1e1e" stroke-width="1.1"/>
<line x1="441.75" y1="399.80" x2="441.75" y2="397.60" stroke="#1e1e1e" stroke-width="1.1"/>
<line x1="494.05" y1="399.80" x2="494.05" y2="397.60" stroke="#1e1e1e" stroke-width="1.1"/>
<text x="311.00" y="411.30" font-size="10.20" text-anchor="middle"  >920</text>
<text x="363.30" y="411.30" font-size="10.20" text-anchor="middle"  >910</text>
<text x="415.60" y="411.30" font-size="10.20" text-anchor="middle"  >900</text>
<text x="467.90" y="411.30" font-size="10.20" text-anchor="middle"  >890</text>
<text x="520.20" y="411.30" font-size="10.20" text-anchor="middle"  >880</text>
<text x="420.65" y="426.80" font-size="14.00" text-anchor="middle"  >Binding Energy (eV)</text>
<text transform="translate(289.70,359.10) rotate(-90)" x="0" y="0" font-size="14.00" text-anchor="start">Intensity (a.u.)</text>
<text x="277.70" y="231.30" font-size="11.20" text-anchor="start"  >(D)</text>
<text x="305.60" y="237.70" font-size="11.10">CeO<tspan font-size="7.5" dy="2.8">2</tspan><tspan dy="-2.8">/AgCl-30</tspan></text>
<text x="502.60" y="236.00" font-size="11.10" text-anchor="start"  >Ce 3<tspan font-style="italic">d</tspan></text>
<text x="314.80" y="271.20" font-size="10.80" text-anchor="start"  >915.7</text>
<text x="363.90" y="290.20" font-size="10.80" text-anchor="start"  >906.4</text>
<text x="393.30" y="267.30" font-size="10.80" text-anchor="start"  >900.2</text>
<text x="428.10" y="257.30" font-size="10.80" text-anchor="start"  >897.3</text>
<text x="467.30" y="282.30" font-size="10.80" text-anchor="start"  >887.2</text>
<text x="510.80" y="257.60" font-size="10.80" text-anchor="start"  >881.9</text>
<text x="304.80" y="322.90" font-size="11.10" text-anchor="start"  >CeO<tspan font-size="7.5" dy="2.8">2</tspan></text>
<text x="320.20" y="334.90" font-size="10.80" text-anchor="start"  >916.2</text>
<text x="358.80" y="366.50" font-size="10.80" text-anchor="start"  >906.6</text>
<text x="386.80" y="336.70" font-size="10.80" text-anchor="start"  >900.4</text>
<text x="428.90" y="321.40" font-size="10.80" text-anchor="start"  >897.6</text>
<text x="457.80" y="359.90" font-size="10.80" text-anchor="start"  >887.8</text>
<text x="512.70" y="317.40" font-size="10.80" text-anchor="start"  >882.3</text>
</svg>
</body></html>
